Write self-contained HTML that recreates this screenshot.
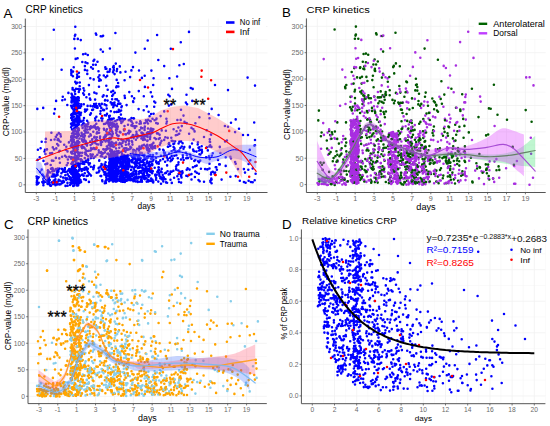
<!DOCTYPE html>
<html><head><meta charset="utf-8"><style>html,body{margin:0;padding:0;background:#fff;width:550px;height:426px;overflow:hidden}svg{display:block}</style></head>
<body><svg width="550" height="426" viewBox="0 0 550 426" font-family="Liberation Sans, sans-serif">
<rect width="550" height="426" fill="#fff"/>
<line x1="26.73" y1="18.60" x2="26.73" y2="192.50" stroke="#f6f6f6" stroke-width="0.6"/>
<line x1="45.87" y1="18.60" x2="45.87" y2="192.50" stroke="#f6f6f6" stroke-width="0.6"/>
<line x1="65.01" y1="18.60" x2="65.01" y2="192.50" stroke="#f6f6f6" stroke-width="0.6"/>
<line x1="84.15" y1="18.60" x2="84.15" y2="192.50" stroke="#f6f6f6" stroke-width="0.6"/>
<line x1="103.29" y1="18.60" x2="103.29" y2="192.50" stroke="#f6f6f6" stroke-width="0.6"/>
<line x1="122.43" y1="18.60" x2="122.43" y2="192.50" stroke="#f6f6f6" stroke-width="0.6"/>
<line x1="141.57" y1="18.60" x2="141.57" y2="192.50" stroke="#f6f6f6" stroke-width="0.6"/>
<line x1="160.71" y1="18.60" x2="160.71" y2="192.50" stroke="#f6f6f6" stroke-width="0.6"/>
<line x1="179.85" y1="18.60" x2="179.85" y2="192.50" stroke="#f6f6f6" stroke-width="0.6"/>
<line x1="198.99" y1="18.60" x2="198.99" y2="192.50" stroke="#f6f6f6" stroke-width="0.6"/>
<line x1="218.13" y1="18.60" x2="218.13" y2="192.50" stroke="#f6f6f6" stroke-width="0.6"/>
<line x1="237.27" y1="18.60" x2="237.27" y2="192.50" stroke="#f6f6f6" stroke-width="0.6"/>
<line x1="256.41" y1="18.60" x2="256.41" y2="192.50" stroke="#f6f6f6" stroke-width="0.6"/>
<line x1="25.30" y1="171.61" x2="267.50" y2="171.61" stroke="#f6f6f6" stroke-width="0.6"/>
<line x1="25.30" y1="145.22" x2="267.50" y2="145.22" stroke="#f6f6f6" stroke-width="0.6"/>
<line x1="25.30" y1="118.84" x2="267.50" y2="118.84" stroke="#f6f6f6" stroke-width="0.6"/>
<line x1="25.30" y1="92.45" x2="267.50" y2="92.45" stroke="#f6f6f6" stroke-width="0.6"/>
<line x1="25.30" y1="66.07" x2="267.50" y2="66.07" stroke="#f6f6f6" stroke-width="0.6"/>
<line x1="25.30" y1="39.68" x2="267.50" y2="39.68" stroke="#f6f6f6" stroke-width="0.6"/>
<line x1="36.30" y1="18.60" x2="36.30" y2="192.50" stroke="#f1f1f1" stroke-width="0.8"/>
<line x1="55.44" y1="18.60" x2="55.44" y2="192.50" stroke="#f1f1f1" stroke-width="0.8"/>
<line x1="74.58" y1="18.60" x2="74.58" y2="192.50" stroke="#f1f1f1" stroke-width="0.8"/>
<line x1="93.72" y1="18.60" x2="93.72" y2="192.50" stroke="#f1f1f1" stroke-width="0.8"/>
<line x1="112.86" y1="18.60" x2="112.86" y2="192.50" stroke="#f1f1f1" stroke-width="0.8"/>
<line x1="132.00" y1="18.60" x2="132.00" y2="192.50" stroke="#f1f1f1" stroke-width="0.8"/>
<line x1="151.14" y1="18.60" x2="151.14" y2="192.50" stroke="#f1f1f1" stroke-width="0.8"/>
<line x1="170.28" y1="18.60" x2="170.28" y2="192.50" stroke="#f1f1f1" stroke-width="0.8"/>
<line x1="189.42" y1="18.60" x2="189.42" y2="192.50" stroke="#f1f1f1" stroke-width="0.8"/>
<line x1="208.56" y1="18.60" x2="208.56" y2="192.50" stroke="#f1f1f1" stroke-width="0.8"/>
<line x1="227.70" y1="18.60" x2="227.70" y2="192.50" stroke="#f1f1f1" stroke-width="0.8"/>
<line x1="246.84" y1="18.60" x2="246.84" y2="192.50" stroke="#f1f1f1" stroke-width="0.8"/>
<line x1="25.30" y1="184.80" x2="267.50" y2="184.80" stroke="#f1f1f1" stroke-width="0.8"/>
<line x1="25.30" y1="158.42" x2="267.50" y2="158.42" stroke="#f1f1f1" stroke-width="0.8"/>
<line x1="25.30" y1="132.03" x2="267.50" y2="132.03" stroke="#f1f1f1" stroke-width="0.8"/>
<line x1="25.30" y1="105.65" x2="267.50" y2="105.65" stroke="#f1f1f1" stroke-width="0.8"/>
<line x1="25.30" y1="79.26" x2="267.50" y2="79.26" stroke="#f1f1f1" stroke-width="0.8"/>
<line x1="25.30" y1="52.88" x2="267.50" y2="52.88" stroke="#f1f1f1" stroke-width="0.8"/>
<line x1="25.30" y1="26.49" x2="267.50" y2="26.49" stroke="#f1f1f1" stroke-width="0.8"/>
<line x1="307.84" y1="18.40" x2="307.84" y2="192.50" stroke="#f6f6f6" stroke-width="0.6"/>
<line x1="326.76" y1="18.40" x2="326.76" y2="192.50" stroke="#f6f6f6" stroke-width="0.6"/>
<line x1="345.68" y1="18.40" x2="345.68" y2="192.50" stroke="#f6f6f6" stroke-width="0.6"/>
<line x1="364.60" y1="18.40" x2="364.60" y2="192.50" stroke="#f6f6f6" stroke-width="0.6"/>
<line x1="383.52" y1="18.40" x2="383.52" y2="192.50" stroke="#f6f6f6" stroke-width="0.6"/>
<line x1="402.44" y1="18.40" x2="402.44" y2="192.50" stroke="#f6f6f6" stroke-width="0.6"/>
<line x1="421.36" y1="18.40" x2="421.36" y2="192.50" stroke="#f6f6f6" stroke-width="0.6"/>
<line x1="440.28" y1="18.40" x2="440.28" y2="192.50" stroke="#f6f6f6" stroke-width="0.6"/>
<line x1="459.20" y1="18.40" x2="459.20" y2="192.50" stroke="#f6f6f6" stroke-width="0.6"/>
<line x1="478.12" y1="18.40" x2="478.12" y2="192.50" stroke="#f6f6f6" stroke-width="0.6"/>
<line x1="497.04" y1="18.40" x2="497.04" y2="192.50" stroke="#f6f6f6" stroke-width="0.6"/>
<line x1="515.96" y1="18.40" x2="515.96" y2="192.50" stroke="#f6f6f6" stroke-width="0.6"/>
<line x1="534.88" y1="18.40" x2="534.88" y2="192.50" stroke="#f6f6f6" stroke-width="0.6"/>
<line x1="306.40" y1="171.41" x2="545.70" y2="171.41" stroke="#f6f6f6" stroke-width="0.6"/>
<line x1="306.40" y1="145.02" x2="545.70" y2="145.02" stroke="#f6f6f6" stroke-width="0.6"/>
<line x1="306.40" y1="118.64" x2="545.70" y2="118.64" stroke="#f6f6f6" stroke-width="0.6"/>
<line x1="306.40" y1="92.25" x2="545.70" y2="92.25" stroke="#f6f6f6" stroke-width="0.6"/>
<line x1="306.40" y1="65.87" x2="545.70" y2="65.87" stroke="#f6f6f6" stroke-width="0.6"/>
<line x1="306.40" y1="39.48" x2="545.70" y2="39.48" stroke="#f6f6f6" stroke-width="0.6"/>
<line x1="317.30" y1="18.40" x2="317.30" y2="192.50" stroke="#f1f1f1" stroke-width="0.8"/>
<line x1="336.22" y1="18.40" x2="336.22" y2="192.50" stroke="#f1f1f1" stroke-width="0.8"/>
<line x1="355.14" y1="18.40" x2="355.14" y2="192.50" stroke="#f1f1f1" stroke-width="0.8"/>
<line x1="374.06" y1="18.40" x2="374.06" y2="192.50" stroke="#f1f1f1" stroke-width="0.8"/>
<line x1="392.98" y1="18.40" x2="392.98" y2="192.50" stroke="#f1f1f1" stroke-width="0.8"/>
<line x1="411.90" y1="18.40" x2="411.90" y2="192.50" stroke="#f1f1f1" stroke-width="0.8"/>
<line x1="430.82" y1="18.40" x2="430.82" y2="192.50" stroke="#f1f1f1" stroke-width="0.8"/>
<line x1="449.74" y1="18.40" x2="449.74" y2="192.50" stroke="#f1f1f1" stroke-width="0.8"/>
<line x1="468.66" y1="18.40" x2="468.66" y2="192.50" stroke="#f1f1f1" stroke-width="0.8"/>
<line x1="487.58" y1="18.40" x2="487.58" y2="192.50" stroke="#f1f1f1" stroke-width="0.8"/>
<line x1="506.50" y1="18.40" x2="506.50" y2="192.50" stroke="#f1f1f1" stroke-width="0.8"/>
<line x1="525.42" y1="18.40" x2="525.42" y2="192.50" stroke="#f1f1f1" stroke-width="0.8"/>
<line x1="306.40" y1="184.60" x2="545.70" y2="184.60" stroke="#f1f1f1" stroke-width="0.8"/>
<line x1="306.40" y1="158.22" x2="545.70" y2="158.22" stroke="#f1f1f1" stroke-width="0.8"/>
<line x1="306.40" y1="131.83" x2="545.70" y2="131.83" stroke="#f1f1f1" stroke-width="0.8"/>
<line x1="306.40" y1="105.45" x2="545.70" y2="105.45" stroke="#f1f1f1" stroke-width="0.8"/>
<line x1="306.40" y1="79.06" x2="545.70" y2="79.06" stroke="#f1f1f1" stroke-width="0.8"/>
<line x1="306.40" y1="52.68" x2="545.70" y2="52.68" stroke="#f1f1f1" stroke-width="0.8"/>
<line x1="306.40" y1="26.29" x2="545.70" y2="26.29" stroke="#f1f1f1" stroke-width="0.8"/>
<line x1="29.46" y1="229.40" x2="29.46" y2="403.60" stroke="#f6f6f6" stroke-width="0.6"/>
<line x1="48.34" y1="229.40" x2="48.34" y2="403.60" stroke="#f6f6f6" stroke-width="0.6"/>
<line x1="67.22" y1="229.40" x2="67.22" y2="403.60" stroke="#f6f6f6" stroke-width="0.6"/>
<line x1="86.10" y1="229.40" x2="86.10" y2="403.60" stroke="#f6f6f6" stroke-width="0.6"/>
<line x1="104.98" y1="229.40" x2="104.98" y2="403.60" stroke="#f6f6f6" stroke-width="0.6"/>
<line x1="123.86" y1="229.40" x2="123.86" y2="403.60" stroke="#f6f6f6" stroke-width="0.6"/>
<line x1="142.74" y1="229.40" x2="142.74" y2="403.60" stroke="#f6f6f6" stroke-width="0.6"/>
<line x1="161.62" y1="229.40" x2="161.62" y2="403.60" stroke="#f6f6f6" stroke-width="0.6"/>
<line x1="180.50" y1="229.40" x2="180.50" y2="403.60" stroke="#f6f6f6" stroke-width="0.6"/>
<line x1="199.38" y1="229.40" x2="199.38" y2="403.60" stroke="#f6f6f6" stroke-width="0.6"/>
<line x1="218.26" y1="229.40" x2="218.26" y2="403.60" stroke="#f6f6f6" stroke-width="0.6"/>
<line x1="237.14" y1="229.40" x2="237.14" y2="403.60" stroke="#f6f6f6" stroke-width="0.6"/>
<line x1="256.02" y1="229.40" x2="256.02" y2="403.60" stroke="#f6f6f6" stroke-width="0.6"/>
<line x1="28.00" y1="383.04" x2="266.80" y2="383.04" stroke="#f6f6f6" stroke-width="0.6"/>
<line x1="28.00" y1="356.53" x2="266.80" y2="356.53" stroke="#f6f6f6" stroke-width="0.6"/>
<line x1="28.00" y1="330.01" x2="266.80" y2="330.01" stroke="#f6f6f6" stroke-width="0.6"/>
<line x1="28.00" y1="303.50" x2="266.80" y2="303.50" stroke="#f6f6f6" stroke-width="0.6"/>
<line x1="28.00" y1="276.98" x2="266.80" y2="276.98" stroke="#f6f6f6" stroke-width="0.6"/>
<line x1="28.00" y1="250.47" x2="266.80" y2="250.47" stroke="#f6f6f6" stroke-width="0.6"/>
<line x1="38.90" y1="229.40" x2="38.90" y2="403.60" stroke="#f1f1f1" stroke-width="0.8"/>
<line x1="57.78" y1="229.40" x2="57.78" y2="403.60" stroke="#f1f1f1" stroke-width="0.8"/>
<line x1="76.66" y1="229.40" x2="76.66" y2="403.60" stroke="#f1f1f1" stroke-width="0.8"/>
<line x1="95.54" y1="229.40" x2="95.54" y2="403.60" stroke="#f1f1f1" stroke-width="0.8"/>
<line x1="114.42" y1="229.40" x2="114.42" y2="403.60" stroke="#f1f1f1" stroke-width="0.8"/>
<line x1="133.30" y1="229.40" x2="133.30" y2="403.60" stroke="#f1f1f1" stroke-width="0.8"/>
<line x1="152.18" y1="229.40" x2="152.18" y2="403.60" stroke="#f1f1f1" stroke-width="0.8"/>
<line x1="171.06" y1="229.40" x2="171.06" y2="403.60" stroke="#f1f1f1" stroke-width="0.8"/>
<line x1="189.94" y1="229.40" x2="189.94" y2="403.60" stroke="#f1f1f1" stroke-width="0.8"/>
<line x1="208.82" y1="229.40" x2="208.82" y2="403.60" stroke="#f1f1f1" stroke-width="0.8"/>
<line x1="227.70" y1="229.40" x2="227.70" y2="403.60" stroke="#f1f1f1" stroke-width="0.8"/>
<line x1="246.58" y1="229.40" x2="246.58" y2="403.60" stroke="#f1f1f1" stroke-width="0.8"/>
<line x1="28.00" y1="396.30" x2="266.80" y2="396.30" stroke="#f1f1f1" stroke-width="0.8"/>
<line x1="28.00" y1="369.79" x2="266.80" y2="369.79" stroke="#f1f1f1" stroke-width="0.8"/>
<line x1="28.00" y1="343.27" x2="266.80" y2="343.27" stroke="#f1f1f1" stroke-width="0.8"/>
<line x1="28.00" y1="316.75" x2="266.80" y2="316.75" stroke="#f1f1f1" stroke-width="0.8"/>
<line x1="28.00" y1="290.24" x2="266.80" y2="290.24" stroke="#f1f1f1" stroke-width="0.8"/>
<line x1="28.00" y1="263.73" x2="266.80" y2="263.73" stroke="#f1f1f1" stroke-width="0.8"/>
<line x1="28.00" y1="237.21" x2="266.80" y2="237.21" stroke="#f1f1f1" stroke-width="0.8"/>
<line x1="323.40" y1="229.40" x2="323.40" y2="403.70" stroke="#f6f6f6" stroke-width="0.6"/>
<line x1="345.60" y1="229.40" x2="345.60" y2="403.70" stroke="#f6f6f6" stroke-width="0.6"/>
<line x1="367.80" y1="229.40" x2="367.80" y2="403.70" stroke="#f6f6f6" stroke-width="0.6"/>
<line x1="390.00" y1="229.40" x2="390.00" y2="403.70" stroke="#f6f6f6" stroke-width="0.6"/>
<line x1="412.20" y1="229.40" x2="412.20" y2="403.70" stroke="#f6f6f6" stroke-width="0.6"/>
<line x1="434.40" y1="229.40" x2="434.40" y2="403.70" stroke="#f6f6f6" stroke-width="0.6"/>
<line x1="456.60" y1="229.40" x2="456.60" y2="403.70" stroke="#f6f6f6" stroke-width="0.6"/>
<line x1="478.80" y1="229.40" x2="478.80" y2="403.70" stroke="#f6f6f6" stroke-width="0.6"/>
<line x1="501.00" y1="229.40" x2="501.00" y2="403.70" stroke="#f6f6f6" stroke-width="0.6"/>
<line x1="523.20" y1="229.40" x2="523.20" y2="403.70" stroke="#f6f6f6" stroke-width="0.6"/>
<line x1="545.40" y1="229.40" x2="545.40" y2="403.70" stroke="#f6f6f6" stroke-width="0.6"/>
<line x1="301.40" y1="380.12" x2="545.40" y2="380.12" stroke="#f6f6f6" stroke-width="0.6"/>
<line x1="301.40" y1="348.56" x2="545.40" y2="348.56" stroke="#f6f6f6" stroke-width="0.6"/>
<line x1="301.40" y1="317.00" x2="545.40" y2="317.00" stroke="#f6f6f6" stroke-width="0.6"/>
<line x1="301.40" y1="285.44" x2="545.40" y2="285.44" stroke="#f6f6f6" stroke-width="0.6"/>
<line x1="301.40" y1="253.88" x2="545.40" y2="253.88" stroke="#f6f6f6" stroke-width="0.6"/>
<line x1="312.30" y1="229.40" x2="312.30" y2="403.70" stroke="#f1f1f1" stroke-width="0.8"/>
<line x1="334.50" y1="229.40" x2="334.50" y2="403.70" stroke="#f1f1f1" stroke-width="0.8"/>
<line x1="356.70" y1="229.40" x2="356.70" y2="403.70" stroke="#f1f1f1" stroke-width="0.8"/>
<line x1="378.90" y1="229.40" x2="378.90" y2="403.70" stroke="#f1f1f1" stroke-width="0.8"/>
<line x1="401.10" y1="229.40" x2="401.10" y2="403.70" stroke="#f1f1f1" stroke-width="0.8"/>
<line x1="423.30" y1="229.40" x2="423.30" y2="403.70" stroke="#f1f1f1" stroke-width="0.8"/>
<line x1="445.50" y1="229.40" x2="445.50" y2="403.70" stroke="#f1f1f1" stroke-width="0.8"/>
<line x1="467.70" y1="229.40" x2="467.70" y2="403.70" stroke="#f1f1f1" stroke-width="0.8"/>
<line x1="489.90" y1="229.40" x2="489.90" y2="403.70" stroke="#f1f1f1" stroke-width="0.8"/>
<line x1="512.10" y1="229.40" x2="512.10" y2="403.70" stroke="#f1f1f1" stroke-width="0.8"/>
<line x1="534.30" y1="229.40" x2="534.30" y2="403.70" stroke="#f1f1f1" stroke-width="0.8"/>
<line x1="301.40" y1="395.90" x2="545.40" y2="395.90" stroke="#f1f1f1" stroke-width="0.8"/>
<line x1="301.40" y1="364.34" x2="545.40" y2="364.34" stroke="#f1f1f1" stroke-width="0.8"/>
<line x1="301.40" y1="332.78" x2="545.40" y2="332.78" stroke="#f1f1f1" stroke-width="0.8"/>
<line x1="301.40" y1="301.22" x2="545.40" y2="301.22" stroke="#f1f1f1" stroke-width="0.8"/>
<line x1="301.40" y1="269.66" x2="545.40" y2="269.66" stroke="#f1f1f1" stroke-width="0.8"/>
<line x1="301.40" y1="238.10" x2="545.40" y2="238.10" stroke="#f1f1f1" stroke-width="0.8"/>
<path stroke="#0000ff" stroke-width="2.56" stroke-linecap="round" d="M53.8 29.7h0M75.3 26.8h0M75.3 34.7h0M74.9 35.8h0M74.3 38.9h0M77.8 38.9h0M80.8 40.1h0M74.9 48.5h0M83.1 54.2h0M85.5 53.8h0M87.8 55.0h0M42.8 59.3h0M75.7 58.9h0M77.6 58.2h0M82.3 62.0h0M85.5 62.4h0M87.5 63.2h0M73.7 67.3h0M84.9 66.1h0M95.8 33.5h0M96.3 34.7h0M100.7 36.2h0M102.2 36.2h0M103.1 35.8h0M115.4 33.0h0M147.7 40.5h0M100.7 49.5h0M102.9 51.8h0M109.9 48.5h0M135.4 52.6h0M144.8 48.8h0M94.3 59.7h0M93.5 60.9h0M97.5 61.7h0M93.1 64.7h0M95.8 64.7h0M91.1 67.3h0M115.8 63.6h0M113.7 66.1h0M113.1 67.3h0M119.8 66.4h0M133.0 67.1h0M157.1 35.0h0M189.0 31.9h0M180.8 42.3h0M170.8 48.8h0M158.3 60.0h0M164.2 66.1h0M179.4 65.2h0M183.8 64.0h0M61.6 69.8h0M37.3 108.9h0M43.2 107.9h0M54.9 109.1h0M54.1 113.6h0M56.1 100.9h0M62.8 96.8h0M62.3 100.3h0M64.9 99.5h0M67.3 105.0h0M68.4 92.9h0M177.1 76.5h0M169.4 78.3h0M215.0 85.0h0M172.0 88.9h0M190.8 88.0h0M192.7 88.9h0M168.3 94.8h0M169.7 96.2h0M186.5 94.8h0M154.2 101.5h0M155.3 102.6h0M168.9 105.6h0M171.2 104.4h0M185.9 102.6h0M187.1 104.2h0M192.3 100.9h0M211.7 108.9h0M208.8 114.0h0M164.2 111.4h0M181.0 109.7h0M183.5 115.6h0M160.6 116.1h0M153.6 113.8h0M199.4 117.3h0M228.0 90.1h0M247.6 77.6h0M255.0 85.6h0M218.6 115.0h0M235.7 119.4h0M231.0 122.7h0M254.2 122.5h0M224.9 126.0h0M228.0 126.8h0M235.1 132.1h0M239.0 128.8h0M243.0 135.0h0M248.0 135.0h0M255.0 140.0h0M225.1 141.5h0M226.9 140.5h0M255.0 145.2h0M219.8 146.8h0M249.8 149.7h0M212.8 153.2h0M220.4 153.0h0M218.0 159.7h0M225.7 157.3h0M230.4 156.8h0M231.0 158.5h0M235.1 162.0h0M235.7 163.8h0M250.3 160.3h0M248.6 164.0h0M219.8 164.4h0M225.7 165.9h0M215.7 167.3h0M219.8 147.1h0M249.8 149.9h0M254.4 145.6h0M218.0 160.0h0M219.2 164.4h0M216.3 167.3h0M216.9 169.7h0M212.8 171.8h0M215.1 172.6h0M214.5 173.8h0M211.0 174.4h0M238.0 169.1h0M243.9 169.1h0M245.0 172.6h0M248.3 169.7h0M252.7 168.5h0M255.6 173.8h0M230.4 176.7h0M235.7 176.1h0M221.6 179.6h0M211.6 179.6h0M211.6 183.2h0M239.8 180.8h0M243.9 182.0h0M245.6 182.8h0M248.6 180.8h0M250.9 182.0h0M252.7 182.3h0M254.7 180.2h0M72.9 76.2h0M74.1 96.7h0M77.2 82.8h0M78.9 72.8h0M71.4 75.0h0M79.0 76.7h0M72.6 89.0h0M71.2 70.1h0M76.9 78.0h0M79.8 82.5h0M72.4 95.9h0M73.0 71.6h0M78.8 92.0h0M75.2 94.0h0M72.6 88.0h0M71.5 93.7h0M79.7 86.2h0M77.1 74.6h0M78.1 89.0h0M76.2 83.5h0M75.3 81.9h0M71.3 73.6h0M74.8 91.6h0M76.0 88.9h0M72.6 89.5h0M77.3 76.5h0M71.9 94.6h0M74.4 90.3h0M71.3 71.7h0M79.2 90.1h0M73.9 116.8h0M76.2 146.8h0M71.9 97.9h0M78.6 122.9h0M73.1 116.4h0M74.3 157.2h0M79.4 138.5h0M72.2 166.8h0M74.3 153.8h0M72.1 170.8h0M76.5 156.6h0M72.0 152.1h0M73.9 147.6h0M71.2 152.1h0M74.5 109.3h0M72.9 159.8h0M77.4 151.6h0M78.6 154.9h0M75.6 119.1h0M74.2 122.3h0M75.1 174.9h0M72.2 136.4h0M78.0 119.2h0M72.2 115.9h0M79.0 174.8h0M76.0 133.7h0M79.4 113.9h0M77.9 145.6h0M74.2 119.6h0M72.9 172.9h0M78.4 97.2h0M77.4 131.2h0M72.3 119.5h0M74.2 122.9h0M76.2 105.6h0M72.8 168.2h0M71.1 157.6h0M71.5 181.2h0M78.9 116.6h0M79.3 180.8h0M77.7 162.7h0M79.4 118.5h0M79.2 118.4h0M77.7 120.3h0M73.5 181.9h0M72.5 151.5h0M76.2 137.5h0M77.7 103.2h0M72.4 117.5h0M71.5 101.5h0M74.3 111.8h0M78.2 165.4h0M74.8 164.9h0M75.3 106.8h0M79.2 112.2h0M79.3 122.2h0M76.8 151.5h0M79.0 134.6h0M75.0 108.9h0M76.8 118.9h0M71.4 139.5h0M71.3 172.9h0M78.1 124.0h0M71.4 97.5h0M73.8 181.1h0M75.8 151.8h0M73.8 139.7h0M79.3 118.1h0M77.3 174.3h0M73.4 98.6h0M74.1 178.3h0M76.1 174.5h0M77.0 150.0h0M75.1 169.2h0M73.1 169.7h0M72.7 120.8h0M75.3 120.5h0M73.4 136.9h0M75.0 151.9h0M71.0 123.7h0M71.2 117.9h0M71.6 178.4h0M71.6 114.2h0M78.3 153.8h0M78.8 120.2h0M75.3 119.8h0M77.3 113.0h0M74.2 180.1h0M77.9 140.8h0M75.1 150.9h0M72.2 162.3h0M76.2 170.1h0M75.6 173.2h0M74.8 166.9h0M73.3 139.7h0M76.3 183.6h0M77.1 132.8h0M74.2 147.2h0M76.0 166.9h0M77.3 99.0h0M77.1 141.2h0M74.9 105.0h0M74.9 181.2h0M78.8 174.4h0M75.3 121.4h0M73.6 161.4h0M73.1 160.5h0M75.1 101.6h0M73.3 170.7h0M73.7 101.6h0M74.9 154.7h0M76.5 109.7h0M78.9 124.2h0M78.3 181.4h0M71.4 174.0h0M77.5 122.5h0M72.5 125.3h0M71.1 127.2h0M72.5 137.5h0M78.2 152.2h0M71.7 157.7h0M74.9 112.8h0M71.9 177.7h0M73.6 134.6h0M72.0 167.0h0M78.9 105.8h0M75.4 106.2h0M73.5 104.9h0M71.7 102.4h0M71.3 137.2h0M71.0 171.8h0M75.7 143.4h0M79.1 183.3h0M73.4 176.2h0M76.6 125.7h0M74.6 167.8h0M72.8 182.8h0M73.9 150.1h0M75.1 128.1h0M76.1 162.9h0M77.1 119.9h0M79.3 156.0h0M72.2 157.5h0M71.7 98.0h0M74.6 136.9h0M78.3 130.0h0M77.3 184.3h0M72.4 108.2h0M76.8 179.2h0M77.2 99.2h0M73.4 145.9h0M74.6 131.0h0M74.3 106.3h0M73.2 136.7h0M72.1 120.0h0M72.9 100.5h0M73.5 175.3h0M72.0 138.6h0M77.4 111.5h0M71.3 183.0h0M73.5 141.8h0M75.5 102.9h0M77.3 146.8h0M79.3 178.5h0M73.2 133.7h0M73.9 168.0h0M75.7 150.4h0M79.3 175.5h0M75.3 101.9h0M74.8 145.7h0M72.8 98.2h0M71.3 145.9h0M73.6 130.4h0M75.3 173.8h0M74.7 104.7h0M76.2 133.9h0M77.1 143.2h0M72.7 165.7h0M74.8 112.3h0M73.4 159.1h0M76.4 124.7h0M71.5 102.2h0M73.0 141.7h0M71.8 146.9h0M77.6 172.8h0M74.9 146.9h0M75.3 131.1h0M71.1 157.3h0M73.5 124.8h0M71.8 180.3h0M73.7 100.2h0M71.8 107.6h0M72.4 138.7h0M76.5 101.2h0M78.8 100.4h0M77.2 148.0h0M72.1 158.4h0M75.6 158.7h0M71.3 137.9h0M71.5 144.4h0M73.7 123.8h0M78.1 129.5h0M77.5 142.2h0M75.5 98.5h0M72.4 142.9h0M76.5 127.4h0M74.5 100.0h0M76.9 171.2h0M73.7 113.0h0M74.7 102.4h0M73.5 112.4h0M71.6 168.6h0M78.2 129.6h0M75.4 103.1h0M74.3 185.5h0M71.3 169.4h0M75.8 121.2h0M74.2 128.2h0M72.1 129.4h0M73.4 105.4h0M78.2 185.2h0M75.7 113.7h0M77.7 128.2h0M78.0 185.5h0M78.8 129.9h0M78.2 163.4h0M79.4 175.9h0M72.6 146.9h0M74.7 124.2h0M74.0 110.7h0M78.3 133.0h0M79.5 165.4h0M78.2 143.9h0M78.3 158.2h0M75.0 154.1h0M75.5 149.3h0M72.1 144.0h0M75.7 171.8h0M77.6 146.4h0M71.8 152.3h0M77.7 183.1h0M78.2 158.4h0M76.7 101.0h0M71.1 183.7h0M71.7 183.4h0M79.0 142.5h0M72.9 123.6h0M77.7 134.8h0M77.6 97.2h0M78.0 135.0h0M74.4 149.3h0M73.8 182.9h0M77.2 127.3h0M78.6 119.8h0M73.3 124.2h0M77.0 109.1h0M73.0 125.4h0M78.9 130.2h0M79.3 164.1h0M73.9 130.7h0M76.6 136.9h0M75.2 102.2h0M73.3 109.5h0M72.5 123.1h0M72.7 142.3h0M72.7 98.5h0M75.0 180.1h0M71.7 100.1h0M74.5 177.1h0M72.0 101.2h0M72.0 153.6h0M74.5 122.1h0M71.9 174.3h0M73.9 167.7h0M72.1 106.4h0M74.8 120.2h0M73.2 185.9h0M74.7 97.3h0M79.5 175.9h0M74.1 183.4h0M78.9 103.7h0M77.8 182.2h0M76.7 138.0h0M71.8 125.5h0M76.8 117.2h0M75.8 103.8h0M76.6 175.5h0M77.7 176.6h0M77.4 115.9h0M77.5 128.6h0M79.3 142.4h0M71.6 140.2h0M78.2 178.2h0M72.1 174.2h0M76.5 165.6h0M73.8 121.4h0M78.4 120.0h0M77.1 182.1h0M77.8 173.6h0M77.7 149.2h0M77.3 131.5h0M75.6 150.6h0M75.4 170.7h0M77.0 144.8h0M75.4 160.8h0M71.6 141.3h0M74.5 153.9h0M79.1 165.1h0M74.3 176.6h0M72.0 163.8h0M77.7 182.2h0M72.0 171.5h0M77.0 156.0h0M78.7 128.6h0M76.7 115.7h0M73.8 141.6h0M76.3 105.5h0M76.3 183.1h0M72.3 169.4h0M76.9 158.6h0M72.9 122.6h0M74.0 136.6h0M77.9 136.1h0M76.8 120.0h0M75.0 144.2h0M72.8 113.6h0M75.2 176.0h0M73.1 161.9h0M77.3 149.2h0M74.8 133.8h0M76.0 100.6h0M78.4 121.1h0M77.5 125.4h0M77.5 131.7h0M71.5 137.1h0M79.2 167.3h0M77.5 107.1h0M76.2 146.5h0M73.3 148.6h0M78.2 146.7h0M78.5 128.9h0M71.0 158.6h0M77.5 179.5h0M78.3 130.0h0M77.7 117.1h0M76.4 113.3h0M75.4 177.1h0M74.3 173.1h0M75.5 100.9h0M78.0 131.9h0M71.1 152.6h0M74.5 113.9h0M78.7 108.0h0M79.4 153.6h0M74.7 98.7h0M74.0 121.5h0M72.9 176.0h0M75.0 129.1h0M71.3 136.4h0M72.2 139.4h0M75.8 121.2h0M73.2 132.2h0M73.4 123.9h0M71.2 137.8h0M77.0 185.4h0M72.9 158.4h0M77.0 97.9h0M72.9 176.2h0M76.4 160.2h0M77.6 152.4h0M72.1 117.4h0M74.9 142.6h0M76.4 180.4h0M76.0 178.2h0M72.2 124.3h0M78.8 97.9h0M74.6 104.3h0M74.6 174.0h0M77.9 105.3h0M75.9 166.1h0M72.1 101.8h0M73.3 159.1h0M71.1 105.7h0M78.8 170.7h0M77.5 184.5h0M73.0 163.9h0M78.6 158.9h0M77.3 151.5h0M77.5 102.5h0M79.1 169.7h0M73.6 183.2h0M72.3 124.2h0M73.2 113.6h0M71.7 124.8h0M79.4 153.8h0M76.7 159.0h0M72.3 129.7h0M74.7 183.8h0M75.7 166.4h0M78.7 124.8h0M74.8 99.6h0M73.0 98.0h0M71.2 115.1h0M73.5 130.9h0M72.0 133.5h0M73.7 176.9h0M74.6 100.1h0M74.2 178.1h0M71.3 163.7h0M74.1 134.3h0M73.8 180.1h0M73.6 174.1h0M75.4 126.0h0M72.5 151.5h0M76.1 118.5h0M76.9 143.3h0M75.9 158.3h0M71.1 179.9h0M79.0 113.1h0M77.9 158.4h0M105.3 67.3h0M107.7 89.8h0M100.8 80.2h0M99.5 75.3h0M110.0 69.4h0M98.5 71.2h0M105.7 77.2h0M116.7 79.9h0M114.8 92.7h0M83.2 93.3h0M106.8 96.1h0M94.3 92.6h0M98.4 77.3h0M96.5 93.5h0M105.5 68.7h0M107.2 75.9h0M113.8 67.6h0M106.3 85.8h0M118.4 86.5h0M120.4 72.4h0M88.9 85.1h0M99.5 79.0h0M106.4 68.8h0M111.3 91.9h0M90.3 78.2h0M103.8 75.5h0M107.6 71.9h0M87.2 70.5h0M84.0 94.7h0M103.6 95.4h0M114.6 74.1h0M113.5 70.7h0M112.2 95.9h0M92.9 68.8h0M87.3 73.9h0M113.0 72.2h0M84.9 69.9h0M102.7 96.6h0M84.2 90.6h0M117.1 69.0h0M109.5 71.6h0M113.1 90.7h0M93.7 79.4h0M113.4 67.4h0M83.5 88.2h0M116.2 87.2h0M118.1 83.0h0M116.7 86.4h0M80.0 89.3h0M99.0 86.7h0M89.1 94.4h0M116.8 71.1h0M113.8 69.9h0M99.1 80.7h0M113.2 94.5h0M117.0 106.0h0M118.8 109.8h0M80.2 107.7h0M100.6 111.1h0M104.1 110.1h0M118.6 111.8h0M96.4 116.8h0M110.7 102.4h0M81.2 105.9h0M90.4 99.7h0M118.5 101.0h0M114.4 112.1h0M85.0 109.5h0M94.1 104.1h0M121.1 110.5h0M105.0 100.5h0M102.5 118.5h0M105.2 100.1h0M109.1 116.1h0M95.0 107.0h0M86.4 97.2h0M106.7 108.5h0M111.8 104.5h0M110.8 111.3h0M100.1 105.7h0M100.3 113.7h0M113.8 105.7h0M96.1 103.8h0M92.2 109.9h0M95.1 99.6h0M120.4 103.7h0M121.4 107.3h0M118.1 103.7h0M101.3 118.2h0M96.6 107.6h0M87.1 109.5h0M109.2 117.0h0M81.2 104.2h0M83.8 104.3h0M121.8 106.2h0M81.0 112.8h0M85.0 111.6h0M103.1 110.1h0M95.2 118.4h0M84.0 118.1h0M117.4 120.0h0M116.8 105.8h0M97.4 106.3h0M90.9 113.4h0M114.5 102.6h0M89.9 98.6h0M107.0 113.9h0M111.8 119.7h0M119.8 119.0h0M86.0 110.8h0M120.0 120.0h0M101.8 103.9h0M93.1 109.6h0M90.5 105.9h0M103.1 109.7h0M119.0 117.4h0M104.8 115.3h0M113.2 107.2h0M92.9 106.4h0M80.6 115.1h0M115.4 99.3h0M112.1 99.3h0M112.7 103.4h0M120.9 114.6h0M120.0 111.3h0M101.3 107.9h0M118.9 117.5h0M90.1 114.7h0M116.7 111.9h0M120.4 119.6h0M107.6 100.6h0M87.6 105.9h0M106.1 115.4h0M99.2 104.1h0M113.7 118.5h0M96.3 106.2h0M104.6 104.4h0M119.4 103.6h0M116.9 99.4h0M97.6 107.7h0M109.9 115.8h0M114.7 104.9h0M101.8 104.0h0M106.4 105.4h0M94.4 104.6h0M138.6 109.1h0M134.2 98.4h0M144.9 86.9h0M133.3 102.0h0M144.7 75.7h0M133.1 101.2h0M143.7 110.3h0M151.4 70.6h0M130.1 77.1h0M131.9 96.2h0M150.8 92.3h0M149.6 116.2h0M153.6 78.2h0M131.4 70.4h0M151.1 114.0h0M124.6 80.3h0M124.9 97.9h0M138.8 91.1h0M154.2 106.8h0M153.2 85.0h0M139.0 70.5h0M143.8 96.3h0M124.6 95.8h0M126.6 105.1h0M148.6 111.7h0M125.5 71.8h0M141.9 77.9h0M152.2 96.6h0M129.3 92.1h0M146.8 106.4h0M94.4 127.5h0M101.2 152.0h0M82.3 152.8h0M85.3 154.1h0M92.0 148.9h0M85.6 149.6h0M102.1 153.3h0M106.3 135.3h0M81.6 135.6h0M99.1 132.8h0M87.1 120.7h0M87.3 143.6h0M89.0 136.5h0M96.7 133.4h0M99.1 128.5h0M91.7 149.2h0M101.7 154.0h0M83.4 141.7h0M95.4 156.5h0M84.2 137.3h0M101.8 120.7h0M82.1 148.1h0M87.5 126.6h0M100.3 152.6h0M104.2 129.8h0M100.7 141.7h0M107.5 121.5h0M85.9 124.5h0M92.8 154.5h0M94.6 136.9h0M94.7 125.6h0M87.0 145.6h0M90.5 154.3h0M102.2 156.5h0M98.3 144.5h0M83.2 146.7h0M107.4 153.8h0M103.3 149.3h0M96.0 127.5h0M98.7 120.7h0M102.9 153.6h0M94.7 148.6h0M83.7 123.3h0M98.9 152.4h0M106.8 146.5h0M82.8 136.6h0M88.1 132.5h0M85.4 128.3h0M102.2 142.0h0M103.7 149.4h0M90.6 150.5h0M96.3 123.7h0M83.0 123.9h0M82.6 127.9h0M96.2 129.1h0M80.2 152.8h0M92.2 139.4h0M87.5 129.6h0M92.9 142.4h0M103.9 128.7h0M84.3 134.0h0M107.7 148.6h0M97.3 154.7h0M85.4 132.6h0M86.6 155.0h0M97.6 132.9h0M104.9 136.2h0M90.8 155.4h0M100.8 143.2h0M90.8 126.2h0M81.4 121.5h0M107.4 132.8h0M88.3 122.7h0M103.8 138.6h0M93.4 126.6h0M101.1 144.9h0M94.4 148.9h0M83.4 120.5h0M90.0 127.6h0M84.4 130.6h0M85.4 131.4h0M88.2 156.2h0M100.9 140.9h0M93.3 131.8h0M97.6 127.7h0M106.5 122.8h0M81.6 132.9h0M95.4 120.6h0M85.8 142.9h0M97.2 140.3h0M104.8 152.6h0M95.8 148.9h0M80.4 120.6h0M103.8 140.0h0M105.6 141.4h0M106.9 129.2h0M105.4 123.8h0M92.2 139.8h0M100.7 156.2h0M91.9 127.5h0M85.6 144.0h0M84.2 139.4h0M82.9 141.6h0M85.9 153.7h0M82.3 134.5h0M82.1 146.0h0M102.1 121.0h0M92.3 155.6h0M103.0 153.4h0M106.3 131.4h0M95.0 141.2h0M97.1 132.4h0M90.9 135.4h0M91.5 126.7h0M106.5 140.3h0M84.5 125.9h0M96.9 144.2h0M80.8 136.1h0M104.9 152.3h0M81.4 146.7h0M98.7 150.2h0M85.9 141.6h0M96.9 137.3h0M81.6 155.8h0M105.5 149.6h0M100.1 136.6h0M97.8 127.2h0M87.0 132.5h0M105.9 136.2h0M84.4 147.9h0M92.3 143.6h0M90.6 145.1h0M93.5 148.0h0M89.9 129.3h0M105.3 137.0h0M85.3 140.8h0M85.9 125.9h0M105.6 134.7h0M88.6 150.7h0M104.0 124.0h0M103.9 137.2h0M107.3 146.5h0M95.9 139.2h0M95.3 143.1h0M100.0 138.1h0M82.1 139.9h0M91.0 148.3h0M82.4 140.9h0M86.7 151.1h0M90.4 134.3h0M85.3 130.3h0M90.2 141.6h0M89.9 127.1h0M81.9 139.3h0M84.9 135.7h0M81.8 125.4h0M106.0 156.8h0M88.1 124.1h0M90.8 128.0h0M106.2 150.0h0M106.0 149.3h0M94.2 137.4h0M107.5 134.3h0M85.1 152.5h0M98.8 129.9h0M110.5 151.5h0M130.4 131.6h0M117.0 135.1h0M139.4 146.6h0M137.4 137.6h0M125.3 134.2h0M112.5 124.1h0M113.5 146.7h0M110.6 124.3h0M112.5 156.7h0M129.6 119.8h0M108.6 120.1h0M128.0 133.1h0M128.5 139.4h0M108.5 141.7h0M136.4 126.3h0M117.4 154.4h0M123.6 140.6h0M128.4 133.0h0M139.5 149.2h0M133.6 138.1h0M132.5 126.0h0M118.8 144.5h0M134.0 118.5h0M123.0 141.5h0M134.8 128.0h0M125.9 144.7h0M121.3 139.6h0M112.9 153.9h0M130.9 121.1h0M131.0 137.6h0M116.8 128.7h0M132.4 136.3h0M133.3 149.8h0M137.1 148.9h0M133.7 118.5h0M135.8 151.2h0M111.6 153.7h0M108.4 140.6h0M132.2 141.9h0M123.9 150.1h0M123.7 119.8h0M129.0 140.9h0M130.5 148.6h0M118.4 136.2h0M117.9 126.7h0M124.5 126.1h0M116.0 129.9h0M121.0 121.3h0M125.9 134.4h0M123.8 148.6h0M131.6 121.6h0M113.4 126.1h0M132.9 152.5h0M131.7 141.1h0M136.4 131.8h0M110.0 143.3h0M139.5 123.8h0M117.5 153.5h0M108.5 124.6h0M116.6 131.3h0M133.6 118.6h0M116.8 151.3h0M134.6 155.9h0M135.5 135.4h0M127.1 149.8h0M122.0 146.3h0M108.4 124.0h0M131.4 125.4h0M121.0 144.3h0M111.3 128.8h0M110.4 124.8h0M119.8 131.9h0M122.4 142.9h0M119.3 147.7h0M126.6 140.2h0M129.0 131.8h0M129.0 130.8h0M125.0 150.9h0M118.3 139.6h0M114.3 146.5h0M119.2 152.8h0M114.7 121.3h0M108.2 122.0h0M111.0 124.2h0M136.6 133.7h0M132.5 144.6h0M126.5 148.3h0M130.3 146.9h0M109.3 140.3h0M136.5 122.5h0M108.6 141.8h0M116.6 128.4h0M125.6 134.3h0M118.7 135.7h0M108.7 134.1h0M112.7 134.1h0M110.8 120.0h0M135.4 126.6h0M111.3 124.3h0M132.9 135.1h0M135.9 139.7h0M132.7 123.5h0M111.7 130.8h0M138.1 135.5h0M133.3 150.5h0M108.0 120.3h0M114.0 124.1h0M138.9 150.4h0M112.6 145.4h0M139.2 136.3h0M137.7 136.8h0M125.1 148.2h0M124.2 130.4h0M120.5 132.4h0M125.5 151.7h0M121.3 122.9h0M112.2 126.7h0M128.8 149.4h0M130.6 155.2h0M111.7 118.7h0M128.0 124.7h0M116.7 123.8h0M135.7 153.6h0M119.7 143.1h0M111.9 135.5h0M134.3 126.4h0M112.2 124.2h0M129.0 143.6h0M134.5 150.4h0M137.4 155.0h0M128.7 120.3h0M128.9 133.4h0M120.0 118.3h0M131.2 147.5h0M110.9 130.8h0M139.1 148.6h0M112.2 135.3h0M125.0 119.1h0M112.4 142.5h0M121.4 151.7h0M131.1 120.8h0M118.6 151.0h0M117.1 152.8h0M122.6 121.4h0M112.9 151.9h0M125.7 142.0h0M122.0 153.6h0M110.1 137.9h0M116.1 148.5h0M111.1 154.3h0M131.5 118.0h0M122.3 118.5h0M139.6 130.2h0M128.6 144.4h0M112.4 122.5h0M124.4 155.4h0M110.4 134.3h0M133.6 137.1h0M123.9 129.6h0M110.7 145.7h0M115.1 155.6h0M114.3 143.5h0M109.1 132.6h0M108.8 144.8h0M108.7 154.7h0M116.2 144.6h0M109.3 126.1h0M109.0 138.5h0M109.9 128.0h0M108.9 119.6h0M115.1 124.8h0M110.2 119.1h0M111.1 154.0h0M109.7 127.7h0M112.2 136.3h0M115.0 125.9h0M112.4 132.0h0M111.5 141.9h0M116.9 127.7h0M116.1 142.6h0M109.0 155.5h0M112.9 133.8h0M113.5 125.1h0M111.6 134.7h0M116.3 133.1h0M115.1 153.9h0M115.3 126.7h0M111.2 149.7h0M108.1 153.6h0M114.7 153.4h0M109.6 148.4h0M112.9 156.1h0M113.6 146.6h0M110.8 153.4h0M110.8 138.7h0M109.8 133.6h0M110.2 122.6h0M117.3 129.0h0M111.3 144.3h0M110.2 151.0h0M117.1 154.0h0M117.9 152.0h0M115.6 121.0h0M109.0 142.4h0M114.6 151.6h0M117.4 125.9h0M111.3 156.8h0M114.9 156.0h0M110.3 145.9h0M116.5 131.5h0M112.3 126.7h0M113.9 153.9h0M112.2 146.3h0M112.9 155.5h0M111.0 137.7h0M114.6 125.6h0M109.2 125.9h0M111.7 119.0h0M111.7 150.1h0M152.0 130.2h0M146.7 148.7h0M152.6 130.5h0M143.1 140.0h0M152.2 144.3h0M145.7 135.9h0M150.1 121.0h0M147.2 144.9h0M140.2 152.9h0M148.0 128.5h0M141.9 145.7h0M145.9 146.6h0M144.1 144.7h0M145.1 139.6h0M149.3 134.3h0M150.9 128.5h0M144.3 154.8h0M147.1 121.5h0M145.9 120.4h0M151.0 147.3h0M144.3 123.2h0M142.7 134.3h0M150.5 134.5h0M141.2 128.2h0M143.3 145.3h0M148.2 119.7h0M140.8 153.5h0M152.8 146.5h0M151.6 144.5h0M148.0 123.5h0M141.7 132.5h0M150.5 134.1h0M146.9 132.9h0M142.3 128.2h0M141.8 147.4h0M140.6 122.1h0M148.3 152.7h0M152.6 148.6h0M143.6 138.3h0M147.8 147.2h0M147.4 150.3h0M145.2 123.0h0M150.8 121.2h0M147.6 140.5h0M152.7 129.0h0M150.0 139.1h0M144.8 126.5h0M144.8 136.4h0M151.5 148.3h0M149.0 149.0h0M146.7 135.3h0M143.5 136.7h0M141.0 148.4h0M148.7 134.3h0M140.9 123.5h0M152.3 133.0h0M144.6 130.0h0M147.6 136.9h0M143.3 133.6h0M151.9 145.3h0M141.4 136.2h0M150.5 129.6h0M142.8 133.5h0M149.6 132.1h0M152.5 118.8h0M144.7 127.8h0M141.4 132.7h0M149.8 145.4h0M149.3 149.9h0M147.9 132.4h0M140.2 121.4h0M141.0 127.5h0M144.4 136.4h0M141.4 138.5h0M150.2 137.1h0M147.3 141.0h0M149.5 151.1h0M145.8 146.2h0M141.8 153.1h0M140.2 153.5h0M55.8 136.8h0M65.0 155.7h0M59.9 162.7h0M66.3 146.7h0M54.6 139.5h0M70.9 140.4h0M51.0 140.0h0M70.8 146.1h0M57.6 139.9h0M52.1 153.1h0M60.4 134.2h0M47.3 163.6h0M50.1 153.4h0M67.9 159.5h0M67.5 151.4h0M58.3 145.4h0M66.4 157.0h0M59.3 158.4h0M58.9 140.4h0M47.0 149.4h0M66.7 165.3h0M59.0 151.5h0M50.7 165.0h0M68.9 142.4h0M45.9 138.9h0M67.8 163.1h0M45.6 142.0h0M60.8 136.4h0M60.5 141.8h0M65.8 149.7h0M62.1 156.8h0M45.5 154.0h0M54.0 149.4h0M55.9 157.9h0M56.3 148.4h0M51.9 160.6h0M45.0 149.7h0M69.2 156.7h0M58.2 139.0h0M57.2 144.0h0M58.8 133.1h0M52.8 147.4h0M64.2 144.8h0M51.4 132.8h0M56.1 137.1h0M59.7 150.7h0M57.1 134.7h0M53.4 160.7h0M36.8 182.4h0M43.5 183.3h0M42.3 182.0h0M37.2 179.5h0M43.4 185.2h0M36.6 176.6h0M43.9 181.2h0M36.8 184.4h0M45.5 181.7h0M46.8 176.2h0M37.0 176.9h0M43.6 181.1h0M37.0 180.7h0M42.8 182.8h0M37.7 184.0h0M38.7 182.8h0M44.3 176.9h0M38.7 177.2h0M43.2 178.7h0M38.0 178.1h0M46.8 179.7h0M36.9 178.2h0M39.7 157.2h0M37.6 159.9h0M41.7 141.8h0M44.5 151.5h0M37.9 149.8h0M40.6 148.2h0M45.5 164.3h0M42.9 175.2h0M40.1 171.9h0M41.7 169.6h0M47.8 170.6h0M47.4 174.3h0M42.4 174.5h0M43.5 160.9h0M57.9 168.5h0M49.8 180.1h0M47.6 176.8h0M49.4 182.5h0M63.0 171.6h0M56.1 169.1h0M64.4 170.9h0M63.3 180.9h0M48.5 177.2h0M50.1 172.5h0M64.0 181.9h0M51.0 185.8h0M47.1 175.5h0M56.6 175.5h0M64.5 171.7h0M62.4 182.9h0M55.6 181.8h0M64.9 169.7h0M70.2 172.5h0M47.5 183.2h0M69.9 170.6h0M66.9 178.2h0M63.6 171.1h0M54.4 182.3h0M48.5 181.5h0M59.3 184.4h0M51.7 168.2h0M47.9 170.3h0M47.8 183.9h0M70.8 179.1h0M70.3 182.7h0M57.0 172.7h0M51.8 176.4h0M64.3 171.0h0M52.8 169.3h0M52.8 184.0h0M67.7 174.4h0M58.0 171.1h0M50.8 185.5h0M57.0 171.1h0M53.9 175.0h0M69.7 177.1h0M52.0 182.4h0M49.8 184.6h0M54.1 170.9h0M50.2 185.6h0M47.3 180.1h0M55.5 185.3h0M65.3 175.2h0M63.9 170.7h0M61.4 181.6h0M56.5 184.2h0M67.3 171.5h0M63.0 171.0h0M55.4 179.2h0M60.7 176.6h0M52.3 171.3h0M57.1 184.4h0M57.3 174.2h0M64.3 169.3h0M63.1 177.6h0M59.6 180.2h0M49.1 177.5h0M53.5 176.4h0M59.4 168.5h0M68.9 176.2h0M65.4 178.2h0M52.7 174.0h0M61.4 173.2h0M60.6 184.3h0M47.8 183.2h0M68.3 170.4h0M64.9 168.0h0M54.3 183.9h0M53.7 180.6h0M56.1 175.8h0M67.5 182.9h0M70.1 185.0h0M61.9 168.9h0M65.5 172.0h0M51.0 168.7h0M47.5 183.8h0M69.3 179.2h0M58.4 171.4h0M57.1 183.0h0M56.8 170.8h0M57.6 175.0h0M47.4 180.8h0M69.2 169.0h0M54.5 174.5h0M48.3 178.5h0M47.8 172.9h0M58.5 169.8h0M56.3 169.6h0M55.1 176.6h0M47.9 170.2h0M52.4 168.1h0M66.2 179.7h0M58.0 172.3h0M58.7 179.7h0M47.7 175.0h0M67.6 185.7h0M58.6 181.3h0M53.4 169.2h0M65.5 185.9h0M66.9 179.1h0M57.6 181.6h0M48.8 171.6h0M48.6 178.0h0M54.8 181.0h0M86.7 176.0h0M81.0 159.4h0M86.3 167.4h0M79.6 167.2h0M79.6 163.9h0M87.8 171.7h0M81.1 182.0h0M80.7 163.5h0M80.7 169.1h0M88.0 159.0h0M85.7 161.7h0M82.8 163.7h0M88.9 164.6h0M82.8 162.9h0M82.5 174.5h0M88.9 181.9h0M81.7 171.0h0M83.7 175.7h0M81.8 174.8h0M87.1 169.7h0M82.5 169.0h0M84.2 179.3h0M87.9 168.7h0M87.8 162.4h0M80.3 182.5h0M84.9 169.6h0M84.0 169.8h0M85.9 179.9h0M80.6 180.3h0M79.9 175.9h0M108.2 166.3h0M99.2 160.7h0M104.6 164.3h0M94.1 165.7h0M89.9 163.4h0M104.6 166.1h0M105.9 165.7h0M102.8 170.0h0M93.3 169.3h0M98.8 167.8h0M98.6 168.3h0M93.1 167.2h0M99.3 160.2h0M93.8 167.8h0M100.6 166.6h0M105.6 162.2h0M101.8 164.9h0M104.6 157.8h0M108.7 170.0h0M105.4 181.4h0M106.3 177.7h0M108.5 172.8h0M102.2 180.3h0M106.7 178.9h0M105.9 181.7h0M106.7 174.4h0M101.2 176.1h0M105.9 183.0h0M102.4 181.2h0M100.5 176.0h0M106.7 179.9h0M105.5 172.4h0M108.3 176.0h0M104.8 183.3h0M104.7 168.0h0M103.8 171.8h0M106.1 180.3h0M106.4 168.1h0M108.7 169.9h0M107.4 169.9h0M104.7 173.7h0M105.6 168.2h0M106.0 175.8h0M115.6 161.0h0M114.5 159.3h0M114.2 161.3h0M113.9 171.1h0M110.2 159.2h0M115.9 176.6h0M116.8 173.6h0M114.4 165.5h0M114.1 162.9h0M112.5 176.2h0M114.4 171.8h0M113.9 172.1h0M112.5 157.1h0M117.2 164.2h0M112.9 181.4h0M115.2 163.9h0M112.6 171.6h0M109.5 168.1h0M112.6 164.4h0M113.1 179.0h0M112.6 170.9h0M110.8 158.3h0M115.3 178.8h0M110.8 164.3h0M116.5 178.9h0M111.0 156.1h0M113.9 179.6h0M117.3 173.0h0M109.4 171.5h0M115.8 162.0h0M109.1 176.5h0M114.8 178.7h0M110.1 177.0h0M110.1 169.5h0M113.7 165.9h0M112.7 157.9h0M112.6 179.6h0M116.4 177.2h0M116.6 157.8h0M109.2 168.8h0M110.1 163.3h0M113.1 156.2h0M117.4 174.9h0M117.2 165.2h0M109.2 180.7h0M116.8 180.5h0M111.7 158.6h0M115.7 168.2h0M116.7 166.0h0M112.7 161.2h0M114.8 162.2h0M112.9 161.9h0M111.5 170.1h0M115.8 155.9h0M112.1 164.1h0M114.3 174.1h0M109.3 167.8h0M111.4 171.1h0M116.4 177.3h0M114.7 162.1h0M115.6 171.7h0M109.3 164.3h0M113.0 164.6h0M111.4 159.3h0M112.4 169.7h0M111.3 160.4h0M116.5 164.4h0M116.5 176.9h0M109.4 168.3h0M109.9 156.0h0M114.0 177.2h0M112.5 168.1h0M110.2 161.0h0M111.8 173.9h0M117.1 164.0h0M114.2 173.3h0M111.3 169.7h0M109.5 176.2h0M112.2 179.0h0M115.2 155.7h0M110.2 171.6h0M109.5 156.5h0M113.1 155.1h0M115.1 180.6h0M113.5 159.3h0M116.9 181.3h0M114.1 164.7h0M115.6 155.2h0M112.3 172.4h0M114.3 165.1h0M116.1 173.2h0M116.8 160.4h0M109.3 162.3h0M115.2 161.7h0M115.6 168.1h0M116.2 169.6h0M109.4 172.9h0M115.6 174.4h0M113.7 178.5h0M110.0 171.8h0M116.3 166.1h0M113.3 178.7h0M113.6 156.4h0M112.8 176.8h0M115.4 168.7h0M112.1 166.1h0M110.2 173.2h0M114.9 177.7h0M112.1 171.3h0M109.7 163.0h0M112.7 165.4h0M117.4 179.9h0M117.5 156.2h0M113.7 162.5h0M113.3 173.8h0M109.5 177.1h0M112.0 174.2h0M110.4 162.0h0M116.7 171.5h0M115.2 161.5h0M116.0 178.6h0M111.4 156.4h0M112.2 176.9h0M109.0 167.2h0M116.0 164.4h0M114.9 178.9h0M114.2 167.0h0M112.3 170.5h0M117.4 168.4h0M113.5 174.3h0M110.3 178.5h0M110.7 168.0h0M112.1 164.0h0M112.8 155.8h0M116.5 163.9h0M116.6 178.7h0M111.3 173.5h0M112.0 176.7h0M112.9 156.9h0M112.4 173.5h0M114.9 172.1h0M116.2 159.6h0M109.0 179.0h0M114.4 177.9h0M116.2 169.9h0M115.9 166.5h0M117.3 162.8h0M117.2 158.9h0M109.3 157.4h0M115.8 156.3h0M112.1 178.6h0M115.9 181.6h0M113.8 156.3h0M110.5 171.9h0M109.2 163.0h0M111.5 161.6h0M116.5 157.6h0M111.7 167.7h0M115.0 162.2h0M110.6 180.3h0M115.8 172.7h0M115.2 167.9h0M113.4 163.3h0M112.1 172.2h0M112.5 160.6h0M117.1 169.3h0M111.3 158.4h0M111.8 167.1h0M111.0 170.8h0M110.2 169.2h0M116.0 156.4h0M113.5 173.6h0M111.6 174.7h0M112.2 161.1h0M114.9 161.6h0M111.0 166.7h0M115.8 157.3h0M117.4 159.6h0M114.3 166.6h0M115.0 160.0h0M115.5 173.8h0M114.0 161.5h0M114.3 179.5h0M114.8 172.7h0M110.0 165.4h0M114.7 176.5h0M115.0 155.1h0M112.2 176.2h0M113.2 170.2h0M113.4 157.9h0M117.5 175.9h0M114.6 175.5h0M111.5 178.8h0M109.4 162.6h0M115.7 163.5h0M116.2 177.5h0M116.3 181.5h0M110.0 177.4h0M115.5 180.4h0M114.5 168.2h0M109.5 167.1h0M116.8 173.9h0M113.6 173.8h0M110.4 162.5h0M109.5 158.5h0M110.3 157.4h0M115.3 175.1h0M109.1 181.3h0M110.3 158.5h0M111.2 179.4h0M116.6 168.6h0M109.2 179.3h0M114.0 155.7h0M109.4 168.0h0M112.5 180.0h0M116.2 174.4h0M112.1 161.8h0M113.4 163.7h0M115.8 162.4h0M109.2 174.2h0M116.8 179.2h0M117.5 178.5h0M115.1 174.8h0M109.3 168.3h0M113.6 167.5h0M112.4 176.5h0M110.2 175.3h0M116.4 163.3h0M110.5 170.2h0M116.4 165.9h0M109.1 167.1h0M113.1 168.8h0M114.7 177.5h0M114.8 179.1h0M114.7 160.8h0M114.4 160.6h0M109.3 175.5h0M114.0 167.0h0M114.7 155.1h0M113.4 177.9h0M117.4 171.4h0M109.5 159.5h0M114.5 158.7h0M111.3 166.0h0M113.7 168.1h0M112.3 176.1h0M113.6 181.5h0M111.2 155.3h0M115.9 176.7h0M114.6 179.4h0M120.4 164.4h0M120.9 161.9h0M120.6 178.7h0M118.2 170.1h0M119.9 177.5h0M120.0 176.2h0M118.4 169.1h0M119.1 173.4h0M119.3 180.3h0M120.8 170.8h0M118.0 168.2h0M119.3 180.8h0M119.5 163.1h0M118.0 171.8h0M118.6 170.5h0M119.6 160.3h0M119.8 166.6h0M120.6 177.6h0M118.3 159.6h0M118.1 169.4h0M117.7 157.5h0M120.6 156.7h0M118.1 170.8h0M120.8 173.5h0M120.4 171.6h0M118.8 158.2h0M118.9 167.3h0M118.8 173.5h0M118.9 179.5h0M120.7 172.9h0M118.2 159.6h0M118.0 161.8h0M118.7 173.7h0M119.3 167.1h0M118.1 160.5h0M124.5 171.5h0M123.8 181.6h0M124.4 168.6h0M121.4 161.9h0M124.6 157.3h0M121.4 166.2h0M125.7 174.9h0M122.5 177.6h0M127.0 176.7h0M125.6 167.9h0M127.2 180.2h0M121.9 175.8h0M123.5 162.0h0M125.7 177.3h0M126.9 167.7h0M126.8 167.9h0M123.7 158.8h0M122.1 158.8h0M123.9 181.5h0M127.3 180.1h0M127.0 162.8h0M125.4 174.9h0M127.8 180.3h0M121.1 163.8h0M122.4 168.1h0M121.9 155.0h0M122.0 169.3h0M127.2 163.2h0M122.5 173.0h0M124.0 162.6h0M122.4 176.3h0M122.5 160.7h0M121.8 179.0h0M122.2 173.1h0M127.5 168.9h0M124.0 159.2h0M122.6 163.6h0M124.3 160.1h0M122.4 176.7h0M123.0 180.1h0M122.3 173.1h0M122.9 181.5h0M125.3 157.3h0M124.5 172.1h0M124.4 162.2h0M123.5 172.5h0M123.5 166.1h0M125.5 157.8h0M123.0 166.4h0M123.5 161.4h0M123.0 160.7h0M122.0 178.1h0M124.8 179.5h0M124.9 156.3h0M126.1 156.2h0M123.7 158.8h0M127.6 161.3h0M122.5 181.7h0M123.0 162.2h0M122.4 168.8h0M125.9 161.8h0M123.3 164.8h0M122.5 178.2h0M124.0 155.1h0M122.5 163.0h0M125.4 159.3h0M124.6 167.9h0M123.6 168.4h0M121.9 172.9h0M124.1 162.3h0M125.5 161.5h0M122.7 171.1h0M121.2 164.4h0M126.7 156.9h0M121.1 162.6h0M121.8 173.5h0M123.0 178.9h0M125.0 169.2h0M127.7 156.3h0M124.8 159.0h0M127.4 163.6h0M122.9 161.3h0M123.6 171.2h0M122.5 163.8h0M125.3 166.8h0M125.3 173.8h0M124.1 165.6h0M126.7 172.1h0M122.3 174.0h0M125.7 157.5h0M121.1 166.5h0M121.4 179.4h0M126.1 180.6h0M125.3 181.0h0M121.9 164.8h0M123.5 175.1h0M127.9 169.2h0M122.3 157.4h0M121.0 170.4h0M126.2 158.4h0M121.1 175.9h0M127.8 155.0h0M122.8 161.2h0M123.6 167.0h0M125.9 163.2h0M124.0 174.5h0M122.9 164.2h0M127.6 172.2h0M125.4 169.8h0M126.0 163.1h0M122.0 174.5h0M126.6 156.7h0M127.6 158.6h0M124.9 181.9h0M124.7 170.2h0M125.8 160.9h0M125.4 171.2h0M121.6 174.4h0M122.9 174.3h0M127.6 165.9h0M122.8 174.7h0M124.8 173.9h0M126.6 162.3h0M127.2 174.4h0M124.3 168.9h0M125.3 155.5h0M124.0 179.0h0M126.9 155.5h0M127.6 178.9h0M122.2 171.3h0M125.4 159.9h0M123.5 177.9h0M126.1 166.6h0M123.7 175.0h0M127.4 158.8h0M125.8 165.2h0M122.4 175.7h0M122.2 165.5h0M124.0 168.4h0M121.7 157.1h0M123.4 175.7h0M127.0 180.6h0M123.8 156.5h0M122.6 170.7h0M123.4 168.1h0M123.0 171.1h0M121.8 155.4h0M121.0 181.5h0M121.1 159.0h0M125.2 161.9h0M132.1 179.3h0M134.8 177.4h0M131.6 180.0h0M132.0 166.9h0M128.3 159.3h0M134.2 178.3h0M128.8 158.7h0M129.7 161.3h0M131.0 174.0h0M134.4 167.2h0M128.8 175.2h0M132.7 173.8h0M134.6 170.7h0M134.8 170.7h0M132.9 157.1h0M134.6 157.1h0M129.1 165.6h0M130.4 155.3h0M134.2 162.5h0M129.8 179.4h0M133.7 179.9h0M129.5 166.0h0M134.1 174.8h0M132.1 173.5h0M134.4 163.2h0M133.5 181.3h0M132.0 176.3h0M133.2 156.8h0M128.9 177.3h0M132.2 175.9h0M129.2 163.5h0M129.5 165.4h0M132.2 162.3h0M128.3 160.4h0M128.3 168.1h0M129.5 162.0h0M130.1 166.5h0M133.4 181.2h0M130.6 178.4h0M133.9 168.7h0M128.3 172.7h0M134.1 178.1h0M130.2 180.3h0M133.7 155.1h0M132.1 159.9h0M132.0 167.0h0M132.6 159.9h0M134.9 162.4h0M133.5 171.6h0M131.1 169.9h0M129.6 174.7h0M133.8 158.5h0M132.3 176.2h0M132.0 156.7h0M134.0 178.5h0M130.4 160.6h0M130.7 176.5h0M134.8 162.4h0M133.3 158.1h0M128.0 175.8h0M149.1 169.1h0M141.8 167.6h0M140.6 158.4h0M140.1 160.6h0M146.5 162.9h0M135.3 162.5h0M150.0 161.7h0M150.8 165.0h0M147.0 157.3h0M149.3 168.9h0M143.8 170.2h0M139.3 159.1h0M143.2 174.9h0M145.5 164.8h0M140.0 181.7h0M144.8 159.6h0M139.1 167.7h0M151.4 180.9h0M135.9 178.7h0M142.8 165.0h0M142.9 155.1h0M135.3 159.3h0M142.4 167.2h0M145.6 169.2h0M151.1 178.6h0M136.1 172.9h0M141.2 180.6h0M138.5 176.7h0M152.2 164.0h0M148.1 157.4h0M151.1 158.6h0M146.1 170.9h0M135.7 181.4h0M148.0 175.7h0M137.7 159.9h0M138.8 171.7h0M146.9 158.4h0M144.5 158.2h0M148.1 174.5h0M148.5 155.9h0M140.4 165.2h0M136.1 171.0h0M143.4 155.2h0M152.6 157.1h0M151.3 169.1h0M150.3 155.1h0M146.3 171.1h0M152.8 171.3h0M141.4 161.7h0M136.6 163.3h0M143.9 156.3h0M136.8 165.6h0M150.8 169.2h0M144.3 172.3h0M152.2 165.2h0M137.9 178.4h0M148.5 180.0h0M147.3 168.9h0M135.9 160.7h0M144.0 175.8h0M152.4 158.0h0M139.9 177.1h0M140.2 171.3h0M152.4 164.5h0M150.0 166.6h0M138.8 177.5h0M150.9 169.3h0M139.8 167.5h0M136.0 163.2h0M139.7 160.2h0M147.9 162.8h0M148.7 169.3h0M142.9 175.0h0M149.5 175.3h0M147.2 161.3h0M146.9 173.1h0M142.7 170.2h0M151.5 170.7h0M146.7 181.6h0M141.6 181.0h0M149.2 170.5h0M151.8 161.6h0M142.0 181.8h0M147.0 175.5h0M141.2 176.8h0M142.6 177.3h0M149.9 156.0h0M139.2 156.3h0M139.8 171.2h0M148.0 170.9h0M144.0 168.9h0M152.1 181.1h0M137.3 162.4h0M142.9 173.8h0M149.6 180.7h0M144.9 177.7h0M137.8 168.0h0M142.6 168.6h0M152.6 161.2h0M148.3 181.5h0M138.9 173.8h0M135.3 164.6h0M144.8 179.1h0M135.0 166.9h0M143.5 178.5h0M137.8 181.9h0M152.7 171.3h0M143.5 164.8h0M145.1 170.9h0M137.6 181.3h0M146.5 171.0h0M148.5 165.9h0M144.7 176.0h0M150.7 170.6h0M142.0 177.3h0M152.2 173.3h0M144.0 173.7h0M145.5 166.3h0M149.1 165.0h0M144.6 158.1h0M138.0 157.6h0M137.2 163.0h0M146.0 167.3h0M143.3 173.5h0M144.5 170.7h0M136.8 155.4h0M135.5 158.5h0M143.5 162.5h0M152.4 179.7h0M136.4 174.4h0M141.8 180.5h0M140.5 162.2h0M149.1 163.2h0M135.8 166.2h0M141.6 173.0h0M141.0 179.6h0M147.8 169.7h0M135.5 173.3h0M146.4 178.2h0M139.9 166.8h0M141.2 180.3h0M138.6 155.3h0M143.8 162.7h0M148.6 176.7h0M147.7 180.1h0M139.0 163.5h0M136.7 161.5h0M136.1 176.9h0M148.7 175.9h0M149.2 170.6h0M146.3 167.4h0M150.4 171.9h0M142.0 170.7h0M143.0 160.4h0M140.0 172.4h0M148.6 165.1h0M137.8 156.1h0M152.9 155.0h0M149.5 169.5h0M139.1 166.5h0M170.3 145.7h0M158.8 167.5h0M157.3 172.0h0M156.2 162.0h0M179.3 151.0h0M169.4 173.8h0M156.2 178.0h0M181.0 174.5h0M156.9 163.2h0M178.1 151.0h0M179.0 182.0h0M163.5 178.7h0M181.1 141.4h0M183.7 160.1h0M160.9 171.5h0M181.5 177.4h0M173.7 150.1h0M175.1 141.3h0M167.9 146.8h0M161.8 179.3h0M159.3 174.9h0M177.3 176.3h0M175.4 150.9h0M171.9 160.1h0M178.5 162.2h0M181.0 159.5h0M176.2 169.6h0M172.8 141.1h0M174.3 155.7h0M164.9 173.3h0M161.0 177.6h0M166.1 182.4h0M159.8 144.8h0M170.1 157.8h0M162.7 175.0h0M183.5 148.8h0M174.5 148.3h0M153.2 182.4h0M155.9 158.3h0M155.7 174.8h0M179.4 141.5h0M169.9 173.9h0M181.1 182.6h0M174.2 143.6h0M158.5 167.4h0M171.8 182.9h0M180.3 171.8h0M161.5 140.9h0M182.3 171.4h0M171.3 160.0h0M165.1 161.8h0M176.2 168.9h0M174.1 177.7h0M167.6 171.3h0M160.3 178.2h0M160.3 160.4h0M182.9 157.4h0M156.7 174.8h0M173.4 170.7h0M180.4 148.0h0M163.0 159.1h0M178.3 164.5h0M154.7 167.8h0M159.5 149.4h0M153.5 159.7h0M168.7 174.5h0M182.6 172.7h0M173.4 144.0h0M156.1 161.2h0M158.3 181.6h0M171.6 151.3h0M179.2 150.6h0M155.1 146.1h0M172.9 158.5h0M161.7 168.9h0M158.6 162.4h0M159.2 173.2h0M176.0 152.0h0M160.5 142.9h0M170.6 171.6h0M164.0 178.1h0M155.6 176.2h0M178.9 150.9h0M181.5 174.4h0M168.2 146.8h0M154.4 147.4h0M167.1 165.4h0M176.0 166.5h0M155.1 148.0h0M173.6 147.0h0M158.0 170.5h0M163.7 177.3h0M164.7 154.4h0M166.8 155.9h0M161.0 183.7h0M163.3 181.4h0M158.9 170.0h0M162.0 179.1h0M163.0 177.6h0M184.3 147.0h0M153.3 181.2h0M159.5 176.0h0M155.2 174.9h0M170.5 179.8h0M182.8 155.0h0M165.9 172.9h0M166.8 157.5h0M168.0 158.8h0M169.2 153.5h0M171.6 171.7h0M161.7 172.3h0M164.1 155.9h0M168.7 143.8h0M176.4 155.2h0M163.1 149.7h0M160.6 177.0h0M181.8 146.5h0M165.5 179.3h0M177.8 158.2h0M178.6 174.0h0M178.6 143.5h0M165.0 152.9h0M158.4 172.6h0M167.1 182.7h0M182.6 143.2h0M178.6 179.3h0M163.7 150.6h0M156.5 153.4h0M181.0 176.0h0M156.1 179.7h0M160.9 155.7h0M171.7 155.9h0M164.0 152.8h0M170.5 161.3h0M156.0 158.1h0M167.7 160.3h0M158.8 163.7h0M176.8 165.2h0M169.1 143.1h0M178.4 170.5h0M194.3 160.9h0M198.1 161.2h0M187.6 176.1h0M186.7 169.7h0M192.9 167.2h0M192.0 143.5h0M199.0 162.2h0M191.5 179.5h0M191.5 158.8h0M185.9 152.7h0M209.3 146.4h0M186.9 155.3h0M187.6 168.4h0M191.5 174.1h0M204.0 181.7h0M186.2 158.3h0M199.0 150.5h0M208.9 156.4h0M201.9 152.6h0M193.4 150.7h0M209.7 159.1h0M211.8 155.7h0M196.8 172.7h0M199.5 154.2h0M202.0 151.6h0M211.3 178.5h0M187.9 158.1h0M206.1 157.4h0M189.6 169.6h0M201.8 149.7h0M189.5 174.7h0M200.1 149.8h0M211.3 172.6h0M200.2 160.6h0M198.5 180.1h0M186.3 175.8h0M200.1 149.8h0M194.2 151.3h0M207.8 150.4h0M194.9 177.0h0M206.9 147.2h0M195.2 171.5h0M196.7 165.6h0M199.7 181.2h0M198.9 173.7h0M201.7 146.2h0M210.3 180.7h0M200.4 154.5h0M205.1 169.1h0M200.9 168.7h0M197.7 144.5h0M210.2 145.4h0M195.1 166.3h0M209.8 141.7h0M190.0 154.6h0M207.3 169.4h0M210.1 142.0h0M195.3 160.0h0M198.5 147.7h0M190.5 156.9h0M211.4 146.9h0M209.5 168.5h0M193.1 149.6h0M199.3 147.2h0M196.5 151.6h0M189.8 147.4h0M209.5 163.7h0M189.8 146.5h0M197.9 142.2h0M210.5 182.0h0M158.7 138.9h0M189.1 133.8h0M180.7 119.9h0M186.7 123.1h0M178.4 127.5h0M173.6 129.2h0M175.8 135.3h0M166.4 123.5h0M180.4 130.5h0M161.7 130.4h0M191.5 127.9h0M193.6 139.6h0M167.7 137.9h0M158.1 133.5h0M184.5 121.9h0M206.7 130.2h0M177.5 134.7h0M210.9 134.5h0M159.8 138.0h0M179.2 133.7h0M177.4 120.0h0M194.6 131.4h0M193.4 129.3h0M156.5 118.5h0M209.5 118.2h0M195.4 123.2h0M181.8 126.1h0M211.1 134.7h0M156.3 119.2h0M209.8 139.2h0M157.0 133.4h0M176.6 131.3h0M204.0 137.0h0M157.8 123.6h0M165.9 130.7h0M154.5 138.0h0M166.9 121.5h0M165.3 137.2h0M153.4 129.3h0M166.4 118.7h0M155.9 139.1h0M150.8 130.6h0M156.2 123.1h0M159.6 134.8h0M153.4 142.9h0M171.3 137.8h0M171.7 140.8h0M154.6 120.2h0M152.2 132.3h0M164.2 139.9h0M101.6 168.8h0M93.7 157.9h0M85.9 160.5h0M98.6 172.3h0M84.8 173.2h0M101.5 164.0h0M90.8 166.7h0M82.8 175.3h0M84.9 168.6h0M104.4 174.4h0M88.9 173.2h0M91.1 158.0h0M84.3 164.0h0M90.8 158.1h0M84.7 167.7h0M87.8 175.7h0M80.8 160.7h0M99.3 170.9h0M82.1 160.4h0M91.0 175.6h0M96.7 172.8h0M88.3 160.0h0M83.8 162.1h0M84.8 158.0h0M89.7 174.2h0"/>
<path stroke="#ff0000" stroke-width="2.56" stroke-linecap="round" d="M173.0 49.1h0M201.7 70.6h0M201.4 76.8h0M211.1 80.3h0M208.2 98.8h0M167.7 111.2h0M76.9 71.5h0M76.1 107.7h0M76.9 110.9h0M59.1 116.7h0M53.2 182.6h0M56.7 182.3h0M75.5 166.1h0M73.1 159.7h0M75.5 150.3h0M110.1 130.3h0M107.2 133.3h0M124.8 129.2h0M123.0 134.4h0M116.0 145.0h0M96.6 148.0h0M123.0 150.9h0M143.3 148.3h0M96.6 147.6h0M123.0 150.3h0M143.6 148.3h0M105.2 169.1h0M123.3 170.2h0M151.2 168.5h0M157.7 146.4h0M164.2 156.2h0M183.0 162.6h0M179.4 173.0h0M188.8 175.0h0M215.2 175.0h0M229.2 130.9h0M255.4 162.0h0M226.3 172.6h0M215.7 175.0h0M238.0 176.7h0M249.2 176.7h0M103.5 167.0h0M140.0 80.0h0M206.0 148.0h0M102.0 116.0h0M148.0 87.5h0"/>
<path d="M36.2 161.5 L41 162.5 L47.5 179 L47 183 L36.2 173Z" fill="#8080ff" fill-opacity="0.42"/>
<path d="M130.0 150.0 C133.8 150.3 145.2 152.1 153.0 152.0 C160.8 151.9 170.6 149.8 176.5 149.7 C182.4 149.6 183.3 150.1 188.2 151.5 C193.1 152.9 202.0 157.7 205.8 157.9 C209.6 158.1 206.2 154.6 211.0 152.5 C215.8 150.4 227.0 146.8 234.5 145.6 C242.0 144.3 252.6 145.1 256.2 145.0 L256.2 168.5 C253.8 167.1 246.5 162.1 241.5 160.3 C236.5 158.5 231.4 157.5 226.3 157.9 C221.2 158.3 214.4 161.6 211.0 162.6 C207.6 163.6 208.6 164.4 205.8 163.8 C203.0 163.2 198.9 160.7 194.0 159.1 C189.1 157.5 183.3 154.4 176.5 154.4 C169.7 154.4 160.8 158.7 153.0 159.1 C145.2 159.5 133.8 157.3 130.0 157.0Z" fill="#8080ff" fill-opacity="0.42"/>
<path d="M45 131.5 L45 181.4 L60 167.3 L70 166 L80 162 L89 158.5 L110 158 L125 155 L142.5 154.2 L151.2 152.4 L160 147.6 L167 145 L176.5 141 L188 140.9 L194 141.5 L205.8 146.2 L217 152 L228.6 157 L242.1 178.5 L242.1 133.3 L217 118 L198 108 L184 105.6 L173 106.7 L161 110.3 L153 115.5 L143.5 119 L124 119.5 L113 120 L101 120.5 L89.4 121.5 L79.4 126 L70 131Z" fill="#ff8080" fill-opacity="0.4"/>
<path d="M36.6 168.2 L46.1 180.3" fill="none" stroke="#0000ff" stroke-width="1" stroke-opacity="1" stroke-linejoin="round" stroke-linecap="round"/>
<path d="M130.0 153.5 C133.8 154.1 147.2 156.5 153.0 156.8 C158.8 157.2 160.8 156.4 164.7 155.6 C168.6 154.8 173.0 152.4 176.5 152.0 C180.0 151.6 182.0 152.3 185.9 153.2 C189.8 154.1 194.8 156.7 200.0 157.3 C205.2 157.9 211.2 158.1 217.0 156.8 C222.8 155.5 228.0 149.7 234.5 149.7 C241.0 149.7 252.6 155.6 256.2 156.8" fill="none" stroke="#0000ff" stroke-width="1" stroke-opacity="1" stroke-linejoin="round" stroke-linecap="round"/>
<path d="M36.2 160.5 C40.9 158.8 55.5 153.0 64.3 150.0 C73.1 147.0 81.0 144.7 89.0 142.7 C97.0 140.7 106.8 138.6 112.5 138.0 C118.2 137.4 118.8 139.4 123.0 139.1 C127.2 138.8 132.6 137.2 137.6 136.1 C142.6 135.0 149.0 133.9 152.9 132.6 C156.8 131.3 157.8 130.0 161.1 128.5 C164.4 127.0 169.0 124.7 172.8 123.8 C176.6 122.9 179.5 122.6 184.0 123.2 C188.5 123.8 194.5 125.3 200.0 127.4 C205.5 129.5 211.2 132.3 217.0 135.6 C222.8 138.9 230.3 144.5 234.5 147.4 C238.7 150.3 238.5 149.2 242.1 153.2 C245.7 157.2 253.8 168.4 256.2 171.4" fill="none" stroke="#ff0000" stroke-width="1.1" stroke-opacity="1" stroke-linejoin="round" stroke-linecap="round"/>
<path stroke="#005800" stroke-width="2.56" stroke-linecap="round" d="M411.1 153.6h0M432.5 160.4h0M377.7 182.6h0M420.4 121.9h0M380.7 91.4h0M423.3 137.9h0M402.2 162.5h0M380.0 167.0h0M354.8 178.9h0M407.2 120.9h0M359.1 169.5h0M399.5 146.7h0M406.3 81.6h0M435.0 162.5h0M472.3 181.5h0M371.5 181.4h0M367.2 160.6h0M333.6 158.1h0M452.0 157.4h0M424.5 183.0h0M385.7 139.7h0M468.8 132.4h0M417.3 87.0h0M391.0 176.7h0M449.9 162.8h0M330.6 152.1h0M429.8 163.9h0M380.7 110.9h0M389.7 90.3h0M476.4 163.2h0M406.7 172.6h0M355.0 89.7h0M405.1 138.8h0M388.9 152.5h0M354.2 68.1h0M457.4 131.2h0M386.0 94.9h0M357.1 173.7h0M337.3 122.4h0M412.6 172.4h0M479.5 167.1h0M442.4 158.1h0M418.3 104.4h0M363.3 68.8h0"/>
<path stroke="#a82ee0" stroke-width="2.56" stroke-linecap="round" d="M394.6 172.2h0M389.9 173.4h0M423.8 147.0h0M396.0 182.1h0M390.2 148.7h0M418.3 137.0h0M394.2 140.3h0M351.6 175.5h0M352.7 145.2h0M376.6 133.4h0M417.2 169.9h0M342.3 184.5h0M401.2 132.0h0M353.8 142.1h0M330.5 179.4h0M401.8 158.2h0M360.5 169.9h0M357.2 127.9h0M422.8 173.5h0M353.1 133.9h0M421.8 170.7h0M351.8 144.8h0M461.6 158.0h0M351.1 148.6h0M421.1 108.0h0M347.9 181.6h0M390.8 151.1h0M444.5 183.6h0M353.4 178.8h0M354.7 180.9h0M377.8 155.5h0M447.4 161.6h0M355.0 139.8h0M430.7 124.8h0M413.3 175.6h0M389.5 133.6h0M362.0 99.2h0M352.2 170.9h0M353.3 122.8h0M410.7 147.0h0M358.2 107.4h0M413.1 151.6h0M353.0 121.3h0M422.3 179.1h0M350.5 142.0h0M323.2 123.1h0M326.8 177.8h0M423.3 168.1h0M389.4 134.5h0M351.0 130.7h0M357.2 145.0h0M464.8 174.4h0M355.4 136.6h0M405.5 163.8h0M419.4 136.2h0M426.6 124.0h0M418.5 182.7h0M356.4 177.4h0M373.0 126.1h0M350.8 169.3h0M411.7 158.2h0M356.0 131.5h0M356.9 150.7h0M352.4 163.1h0M353.8 124.9h0M408.9 168.0h0M391.5 151.8h0M323.9 134.9h0M330.7 138.9h0M397.4 139.7h0M353.8 123.5h0M385.1 177.0h0M447.3 142.1h0M357.6 181.9h0M396.6 168.4h0M350.8 176.7h0"/>
<path stroke="#005800" stroke-width="2.56" stroke-linecap="round" d="M450.3 168.8h0M439.5 161.3h0M356.8 153.3h0M413.1 181.1h0M384.6 160.7h0M366.2 135.2h0M411.8 180.2h0M346.2 142.6h0M374.3 96.5h0M378.3 103.3h0M356.7 128.2h0M400.9 149.8h0M418.4 178.3h0M377.6 157.6h0M425.2 141.1h0M326.8 140.5h0M421.6 179.3h0M366.6 150.5h0M464.4 125.9h0M391.3 134.9h0M385.8 182.0h0M361.4 133.3h0M472.6 182.5h0M360.5 137.4h0M450.5 154.0h0M360.1 77.9h0M429.4 146.0h0M395.7 158.4h0M406.7 148.6h0M374.5 149.7h0M407.0 82.3h0M412.8 108.0h0M425.5 151.7h0M408.6 166.8h0M424.1 180.0h0M414.4 178.6h0M427.1 153.0h0M355.9 26.6h0M411.8 123.0h0M395.9 63.4h0M318.9 110.6h0M384.1 138.0h0M383.7 170.6h0M401.7 156.6h0M409.6 162.9h0M398.1 175.7h0M426.5 113.6h0M359.1 176.7h0M340.9 170.5h0M376.3 180.0h0"/>
<path stroke="#a82ee0" stroke-width="2.56" stroke-linecap="round" d="M407.9 152.9h0M355.0 181.7h0M379.2 140.8h0M350.5 120.6h0M428.8 176.9h0M351.6 165.4h0M388.9 133.9h0M392.7 165.5h0M352.1 163.4h0M428.5 118.5h0M381.0 49.3h0M357.1 179.4h0M499.2 177.8h0M431.1 158.0h0M326.6 181.2h0M397.3 147.1h0M488.2 167.1h0M357.9 175.9h0M352.2 176.1h0M394.5 148.4h0M388.0 163.8h0M382.4 139.9h0M396.6 166.2h0M350.6 162.6h0M353.4 123.2h0M350.8 170.4h0M449.2 114.8h0M342.9 162.4h0M350.7 152.6h0M353.8 178.0h0M530.8 137.7h0M375.3 99.9h0M351.8 156.6h0M392.6 147.5h0M357.0 157.4h0M351.6 138.9h0M354.8 143.4h0M355.1 134.2h0M358.4 133.6h0M356.4 164.4h0M355.4 159.4h0M352.8 167.1h0M465.0 156.9h0M372.2 154.1h0M389.2 160.0h0M417.7 179.4h0M356.1 178.1h0M392.6 156.2h0M358.2 172.3h0M355.7 156.6h0M410.0 159.1h0M408.8 147.9h0M354.4 171.3h0M394.0 133.7h0M398.9 139.4h0M409.8 166.6h0M479.0 178.4h0M354.4 149.9h0M367.8 169.8h0M350.4 151.9h0M397.8 161.5h0M377.4 106.6h0M418.5 166.0h0M357.2 116.8h0M374.9 145.6h0M409.2 166.6h0M415.3 172.4h0M322.5 179.5h0M350.7 173.5h0M357.8 160.7h0"/>
<path stroke="#005800" stroke-width="2.56" stroke-linecap="round" d="M340.5 154.9h0M382.1 131.5h0M358.3 38.7h0M401.2 164.8h0M461.2 175.7h0M395.5 32.8h0M351.7 72.0h0M369.4 137.1h0M415.3 161.0h0M414.9 139.7h0M385.7 92.1h0M327.1 148.6h0M363.4 100.3h0M455.2 124.8h0M408.5 137.0h0M350.5 96.9h0M409.8 170.3h0M413.2 175.9h0M384.9 137.2h0M360.1 180.0h0M423.3 119.0h0M462.9 174.6h0M428.0 105.8h0M388.4 173.6h0M345.4 145.9h0M383.3 148.3h0M444.3 94.6h0M425.0 96.7h0M383.6 112.1h0M408.1 155.8h0M375.2 71.0h0M441.9 103.7h0M421.4 154.2h0M486.9 173.2h0M334.6 29.5h0M463.6 137.8h0M457.5 158.5h0M362.5 175.9h0M361.6 166.8h0M434.2 173.9h0M361.2 162.2h0M356.2 139.7h0M420.2 150.7h0M368.0 97.3h0M338.9 170.1h0M444.6 131.9h0M366.3 144.7h0M382.7 150.9h0M444.2 156.9h0M368.2 119.1h0"/>
<path stroke="#a82ee0" stroke-width="2.56" stroke-linecap="round" d="M393.2 154.9h0M357.6 157.9h0M358.0 121.3h0M423.6 169.0h0M480.1 96.6h0M403.4 150.3h0M381.4 133.5h0M396.0 150.6h0M435.4 176.0h0M489.4 170.3h0M322.3 181.3h0M343.2 139.2h0M391.1 165.1h0M396.9 162.0h0M351.1 129.4h0M351.7 143.7h0M351.5 156.6h0M390.2 158.8h0M356.5 178.5h0M391.0 134.6h0M379.2 68.2h0M353.2 182.1h0M394.4 151.8h0M424.7 164.8h0M376.2 126.6h0M429.1 158.4h0M350.8 154.0h0M407.9 159.7h0M351.1 142.1h0M412.2 154.4h0M395.9 134.9h0M414.8 98.9h0M404.4 174.9h0M351.3 128.5h0M411.3 159.3h0M356.2 126.9h0M356.8 157.7h0M354.7 170.9h0M340.1 177.3h0M358.1 181.1h0M351.5 149.0h0M353.3 75.7h0M358.5 146.8h0M362.4 100.4h0M362.2 107.9h0M381.7 85.4h0M351.3 155.4h0M449.1 158.6h0M446.7 120.8h0M403.3 164.6h0M444.9 118.9h0M407.2 161.5h0M380.6 171.7h0M411.6 128.5h0M406.0 176.7h0M394.9 174.7h0M426.1 123.2h0M336.4 181.2h0M350.7 175.9h0M404.5 173.6h0M351.7 136.2h0M448.5 183.2h0M351.3 152.9h0M352.3 142.1h0M368.7 143.9h0M423.9 182.8h0M351.1 120.6h0M367.3 176.5h0M406.7 91.2h0M376.5 175.3h0"/>
<path stroke="#005800" stroke-width="2.56" stroke-linecap="round" d="M404.4 96.8h0M426.1 182.1h0M346.4 166.4h0M364.4 96.1h0M391.7 159.0h0M355.5 35.6h0M438.0 111.8h0M332.6 176.3h0M360.5 161.5h0M415.3 183.2h0M423.1 184.1h0M408.2 178.3h0M350.5 155.4h0M373.7 169.1h0M412.0 143.6h0M421.9 145.3h0M420.6 148.1h0M361.6 83.6h0M381.4 154.3h0M497.5 114.8h0M407.9 140.4h0M374.9 156.0h0M425.5 147.4h0M358.0 126.3h0M373.2 166.8h0M411.4 120.6h0M399.4 179.1h0M389.1 152.4h0M367.2 119.6h0M458.1 180.8h0M418.5 157.8h0M351.6 152.0h0M363.6 54.0h0M321.6 132.5h0M371.5 136.3h0M324.1 178.0h0M437.7 149.3h0M413.7 181.7h0M381.9 77.6h0M434.7 156.6h0"/>
<path stroke="#a82ee0" stroke-width="2.56" stroke-linecap="round" d="M392.3 173.4h0M429.4 156.3h0M357.5 153.3h0M374.5 109.9h0M357.9 141.9h0M354.6 170.9h0M393.1 152.2h0M406.4 184.6h0M472.0 140.0h0M409.1 146.5h0M419.4 135.5h0M357.5 153.8h0M447.4 155.5h0M342.3 178.1h0M355.5 120.5h0M394.2 177.9h0M454.1 130.7h0M380.6 129.7h0M449.3 181.1h0M374.6 162.8h0M354.9 147.2h0M443.5 163.8h0M413.4 173.3h0M351.7 96.6h0M454.1 141.1h0M372.9 169.6h0M385.4 137.0h0M350.7 140.7h0M351.6 135.7h0M366.5 134.1h0M393.1 181.7h0M393.3 161.2h0M337.8 161.5h0M328.1 154.8h0M356.9 169.0h0M362.5 175.0h0M389.4 134.6h0M328.5 177.6h0M368.6 180.2h0M354.2 173.7h0M353.5 166.0h0M397.2 183.6h0M407.5 92.5h0M356.1 67.4h0M355.2 124.2h0M355.3 171.8h0M346.5 182.0h0M412.0 175.1h0M381.0 36.0h0M391.6 136.0h0M427.6 173.0h0M370.0 164.6h0M321.1 148.8h0M379.7 71.6h0M352.3 180.0h0M398.2 135.2h0M407.8 129.4h0M384.9 176.2h0M397.3 173.2h0M355.2 138.0h0M395.6 143.0h0M392.2 148.2h0M408.6 143.2h0M351.6 146.7h0M459.2 170.0h0M399.8 164.4h0M417.1 156.8h0M394.4 146.4h0M358.1 165.6h0M356.1 179.8h0M357.5 125.6h0M321.9 184.0h0M427.9 179.3h0M431.0 139.8h0M452.2 174.6h0M353.9 163.3h0M400.7 154.0h0M411.5 183.1h0M356.6 156.6h0M389.2 160.3h0"/>
<path stroke="#005800" stroke-width="2.56" stroke-linecap="round" d="M351.8 122.5h0M326.3 177.7h0M362.5 104.0h0M405.1 166.8h0M399.3 86.0h0M401.0 146.0h0M449.8 175.4h0M370.1 120.0h0M477.1 168.5h0M346.3 171.0h0M370.7 179.9h0M398.1 155.8h0M413.6 163.7h0M388.9 183.1h0M360.4 166.6h0M361.0 178.6h0M366.4 172.0h0M346.3 85.0h0M383.0 73.8h0M370.7 153.5h0M450.4 162.6h0M362.1 168.7h0M434.1 109.2h0M414.4 154.5h0M401.7 184.2h0M440.7 98.9h0M419.2 123.7h0M346.3 151.4h0M351.4 109.1h0M358.1 146.1h0M416.0 182.1h0M410.3 150.8h0M417.8 172.1h0M446.1 160.6h0M424.0 183.6h0M360.4 121.0h0M421.7 181.2h0M407.0 180.7h0M364.6 98.6h0M385.9 111.5h0M436.3 181.6h0M364.2 66.5h0M377.8 61.5h0M381.4 173.9h0M329.7 180.7h0M367.5 112.4h0"/>
<path stroke="#a82ee0" stroke-width="2.56" stroke-linecap="round" d="M392.5 160.3h0M388.4 172.6h0M411.1 169.9h0M370.6 121.3h0M351.1 161.3h0M390.5 181.1h0M353.9 159.5h0M318.5 184.3h0M342.3 69.6h0M381.9 170.7h0M353.5 136.0h0M396.4 172.8h0M402.7 126.8h0M351.5 130.4h0M358.5 173.1h0M421.9 147.8h0M415.7 183.1h0M341.7 142.2h0M406.4 156.3h0M389.9 154.3h0M397.9 148.0h0M354.4 179.1h0M357.8 165.4h0M463.4 109.2h0M428.9 173.6h0M475.2 170.6h0M401.1 155.6h0M390.6 158.6h0M389.0 180.2h0M356.4 177.6h0M441.9 133.8h0M343.8 180.0h0M351.2 175.0h0M437.4 181.7h0M365.7 117.7h0M353.4 165.8h0M357.2 131.8h0M408.6 167.6h0M334.3 178.2h0M320.0 179.6h0M392.8 142.7h0M411.2 180.9h0M402.0 154.8h0M353.7 141.1h0M433.3 140.1h0M380.1 132.1h0M355.3 174.5h0M358.2 134.6h0M323.7 184.0h0M489.6 161.4h0M345.8 184.8h0M411.0 175.4h0M423.9 120.9h0M352.2 127.0h0M377.9 127.7h0M439.2 161.2h0M406.0 156.8h0M357.1 170.6h0M395.3 164.9h0M331.8 147.9h0M368.5 103.3h0M389.5 133.4h0M404.3 152.6h0M439.7 160.9h0M354.2 124.9h0M458.9 182.1h0M355.3 178.0h0M393.5 139.5h0M414.4 173.9h0M397.8 183.1h0M357.5 105.7h0M351.1 180.1h0M396.0 178.2h0M356.4 141.3h0"/>
<path stroke="#005800" stroke-width="2.56" stroke-linecap="round" d="M408.4 128.6h0M395.3 151.5h0M453.2 146.2h0M320.9 136.3h0M371.2 182.8h0M417.6 174.7h0M365.9 53.6h0M525.7 110.1h0M493.9 84.8h0M354.6 91.5h0M365.5 166.2h0M409.9 121.9h0M415.1 148.8h0M414.4 182.0h0M415.7 183.2h0M450.3 166.3h0M363.4 101.2h0M433.8 101.3h0M493.1 178.5h0M464.5 152.0h0M416.8 84.5h0M357.1 120.7h0M465.1 161.9h0M368.2 131.5h0M383.5 144.5h0M395.6 148.1h0M407.2 146.2h0M405.6 92.2h0M406.9 151.5h0M329.3 153.7h0M407.9 167.6h0M456.0 107.8h0M384.2 114.1h0M343.3 159.6h0M394.8 100.7h0M415.6 164.5h0M376.6 140.6h0M413.6 164.1h0M362.0 76.8h0M413.0 134.7h0M418.5 101.0h0M400.0 179.3h0M419.0 182.0h0M399.6 155.0h0M416.5 147.0h0M384.7 99.7h0M406.4 152.9h0M354.6 162.8h0M397.0 140.4h0M428.5 150.2h0"/>
<path stroke="#a82ee0" stroke-width="2.56" stroke-linecap="round" d="M344.2 183.3h0M383.4 139.0h0M364.3 82.7h0M423.6 105.6h0M356.2 58.7h0M411.6 168.9h0M451.5 152.2h0M414.1 163.8h0M355.3 122.3h0M354.7 158.0h0M415.3 52.4h0M394.3 136.0h0M439.7 180.5h0M401.8 157.4h0M390.0 178.2h0M388.5 154.9h0M378.7 167.2h0M351.7 84.0h0M456.2 155.7h0M357.6 161.0h0M429.0 124.5h0M415.8 144.2h0M358.3 122.6h0M408.3 166.0h0M420.6 181.6h0M388.6 161.7h0M464.7 174.1h0M405.6 126.2h0M414.6 155.4h0M437.1 162.6h0M356.0 155.8h0M350.7 125.4h0M396.3 175.9h0M396.1 156.6h0M423.0 134.7h0M389.4 135.9h0M327.6 132.6h0M352.0 141.2h0M413.2 152.3h0M404.3 164.2h0M394.2 145.2h0M455.2 175.2h0M359.6 136.1h0M406.7 168.4h0M409.9 153.0h0M323.7 59.1h0M340.8 149.9h0M355.4 152.6h0M357.5 151.2h0M340.1 105.7h0M351.8 143.3h0M366.4 144.7h0M389.0 166.1h0M456.6 107.7h0M353.9 120.1h0M375.2 155.6h0M355.5 181.0h0M358.2 153.4h0M351.9 166.6h0M405.6 158.5h0M392.3 164.0h0M390.1 48.3h0M352.9 176.7h0M405.7 145.8h0M396.9 181.9h0M514.2 165.9h0M353.0 159.7h0M429.1 182.1h0M383.3 75.0h0M496.4 159.1h0"/>
<path stroke="#005800" stroke-width="2.56" stroke-linecap="round" d="M388.9 179.9h0M409.6 167.6h0M362.8 61.8h0M452.4 156.5h0M368.5 129.8h0M361.6 178.1h0M334.7 184.9h0M433.6 163.6h0M322.0 164.7h0M408.2 155.5h0M452.4 172.6h0M422.5 181.3h0M346.0 122.4h0M343.9 170.9h0M455.0 183.5h0M451.4 88.7h0M368.4 95.3h0M365.7 98.6h0M400.9 175.4h0M507.0 119.7h0M382.4 36.0h0M412.5 150.5h0M383.1 51.6h0M446.2 157.7h0M417.3 90.6h0M439.5 157.3h0M399.0 161.3h0M366.4 171.7h0M329.2 131.0h0M366.2 126.1h0M376.0 162.3h0M353.7 167.9h0M415.9 177.2h0M393.8 65.9h0M398.2 135.4h0M360.0 68.0h0M437.9 176.6h0M383.3 176.5h0M430.6 163.1h0"/>
<path stroke="#a82ee0" stroke-width="2.56" stroke-linecap="round" d="M393.2 143.6h0M390.5 134.2h0M390.2 162.0h0M416.7 166.4h0M412.9 66.9h0M364.2 130.0h0M352.8 134.2h0M357.0 164.2h0M405.0 120.2h0M353.2 149.1h0M420.5 132.8h0M358.4 150.8h0M355.9 164.5h0M352.9 149.0h0M440.8 174.8h0M429.8 112.7h0M393.5 137.4h0M356.7 137.1h0M376.3 115.4h0M355.7 136.4h0M394.7 144.3h0M529.6 77.2h0M380.8 163.1h0M388.4 149.0h0M460.1 42.1h0M451.7 182.8h0M373.0 128.9h0M450.5 118.6h0M391.2 183.9h0M357.0 166.4h0M409.5 131.7h0M355.9 124.2h0M355.5 108.4h0M354.8 134.3h0M343.2 136.0h0M392.0 182.8h0M412.3 151.7h0M352.2 133.0h0M355.2 181.1h0M406.0 173.2h0M435.3 117.4h0M355.5 48.3h0M358.1 58.0h0M397.5 158.3h0M334.7 179.0h0M413.1 162.3h0M328.0 184.7h0M394.2 152.3h0M446.1 137.6h0M366.5 130.9h0M422.3 184.7h0M350.8 154.7h0M322.9 177.7h0M401.4 172.8h0M407.2 108.4h0M353.6 119.9h0M357.7 157.3h0M457.3 122.0h0M355.0 152.4h0M391.4 132.6h0M424.7 133.1h0M364.6 112.7h0M388.2 162.8h0M382.3 150.1h0M333.8 182.9h0M357.3 118.5h0M415.9 168.7h0M395.9 143.7h0M351.1 133.1h0M387.6 78.4h0M350.8 155.5h0M355.9 157.1h0M355.5 182.9h0M339.0 177.2h0M353.4 163.2h0M352.4 136.8h0M388.1 159.9h0M379.0 175.5h0M355.6 151.9h0M352.2 156.2h0M406.0 172.2h0"/>
<path stroke="#005800" stroke-width="2.56" stroke-linecap="round" d="M419.0 93.7h0M340.8 174.4h0M413.7 175.3h0M350.1 107.2h0M370.0 162.9h0M360.3 137.7h0M362.2 161.4h0M407.1 168.8h0M391.0 144.1h0M337.4 160.5h0M335.4 156.2h0M445.7 156.7h0M336.5 161.7h0M379.2 173.6h0M401.9 155.7h0M416.2 142.0h0M397.4 140.2h0M422.4 164.9h0M443.9 157.2h0M414.4 146.7h0M398.5 131.1h0M464.5 160.8h0M355.1 170.1h0M379.1 148.6h0M353.6 83.6h0M453.8 179.4h0M370.5 129.8h0M332.8 161.2h0M448.2 166.8h0M375.7 173.6h0M444.0 128.4h0M479.4 154.0h0M421.3 103.9h0M392.4 169.3h0M413.2 183.3h0M360.1 132.0h0"/>
<path stroke="#a82ee0" stroke-width="2.56" stroke-linecap="round" d="M358.3 133.3h0M402.1 161.0h0M353.5 143.8h0M410.6 168.7h0M356.9 156.5h0M352.3 134.1h0M390.0 178.1h0M353.8 170.1h0M396.1 170.4h0M361.3 39.9h0M481.5 171.3h0M356.1 153.9h0M394.7 175.7h0M448.0 172.7h0M365.2 127.0h0M352.9 165.1h0M354.2 120.2h0M411.2 129.7h0M429.6 160.7h0M355.4 176.7h0M343.1 180.5h0M410.7 160.9h0M358.0 161.2h0M352.4 132.9h0M355.6 142.4h0M356.2 148.1h0M397.5 167.9h0M357.9 179.9h0M354.3 161.2h0M355.6 171.0h0M417.1 182.7h0M415.6 158.9h0M351.6 132.3h0M388.9 165.0h0M412.7 181.7h0M390.1 146.3h0M357.8 133.8h0M351.6 180.5h0M415.7 145.9h0M361.2 160.9h0M388.9 167.1h0M461.5 173.3h0M391.2 133.0h0M378.3 178.1h0M337.5 183.0h0M409.8 144.3h0M435.8 173.6h0M384.4 171.7h0M414.9 156.0h0M354.4 79.0h0M392.0 166.1h0M356.1 130.7h0M369.2 110.5h0M329.8 181.3h0M377.7 117.2h0M351.0 151.0h0M354.3 67.1h0M393.7 165.2h0M355.8 168.2h0M411.2 137.9h0M366.4 97.3h0M352.4 172.1h0M396.1 157.9h0M469.2 160.8h0M352.8 113.5h0M368.4 158.5h0M383.8 167.7h0M358.6 175.7h0M358.1 170.2h0M318.4 184.6h0M373.7 144.1h0M374.4 136.5h0M358.0 134.8h0M355.3 145.3h0M448.3 87.7h0M358.3 162.5h0M392.4 165.5h0M362.5 150.5h0M357.2 169.8h0M354.3 173.3h0M435.3 159.1h0M459.4 150.5h0M404.4 181.8h0M514.1 183.8h0"/>
<path stroke="#005800" stroke-width="2.56" stroke-linecap="round" d="M351.8 110.4h0M412.0 181.6h0M428.9 112.9h0M408.7 156.3h0M374.6 145.5h0M486.4 169.8h0M393.3 170.0h0M389.3 77.0h0M409.4 109.5h0M399.8 66.2h0M366.1 171.2h0M420.4 178.0h0M422.2 164.5h0M361.6 93.4h0M446.3 183.3h0M460.4 110.9h0M361.8 177.2h0M354.2 146.4h0M402.2 128.5h0M366.4 76.9h0M395.9 92.9h0M429.8 120.0h0M386.0 147.8h0M379.2 147.2h0M437.0 110.5h0M400.1 139.3h0M372.3 80.1h0M341.0 180.4h0M403.0 159.6h0M443.0 135.7h0M351.8 168.9h0M319.4 181.5h0M352.1 175.6h0M401.8 177.6h0M379.3 97.4h0M439.9 148.4h0M394.0 103.2h0M352.8 106.8h0M394.2 73.4h0M379.6 101.2h0M374.9 68.9h0M436.2 104.8h0M425.7 157.4h0M450.9 179.8h0M353.5 141.2h0M383.3 136.1h0M432.6 132.9h0"/>
<path stroke="#a82ee0" stroke-width="2.56" stroke-linecap="round" d="M394.8 134.0h0M351.3 167.0h0M405.7 138.4h0M402.2 164.2h0M333.1 183.2h0M353.4 121.2h0M355.7 166.2h0M406.6 159.1h0M357.9 169.2h0M480.7 101.6h0M391.8 145.6h0M429.9 171.7h0M377.7 161.6h0M325.1 180.6h0M473.5 57.9h0M374.9 173.1h0M394.3 147.0h0M362.8 153.1h0M399.6 89.0h0M350.6 171.2h0M355.3 121.2h0M333.4 182.9h0M407.2 177.5h0M352.1 122.2h0M420.1 131.3h0M397.7 174.6h0M411.9 147.4h0M393.2 178.5h0M350.4 176.0h0M352.4 165.8h0M390.3 158.7h0M445.9 68.0h0M426.0 149.4h0M395.5 170.7h0M364.2 180.1h0M389.9 159.3h0M493.1 178.4h0M364.5 93.5h0M324.7 178.7h0M356.8 172.3h0M411.5 152.2h0M357.2 129.5h0M424.3 101.5h0M421.5 155.8h0M322.1 179.6h0M395.8 161.2h0M402.9 102.5h0M399.6 168.0h0M351.7 149.3h0M395.5 160.6h0M380.8 163.0h0M377.9 92.0h0M356.5 154.2h0M360.4 161.7h0M366.4 181.9h0M408.8 124.5h0M369.3 162.2h0M357.7 143.1h0M409.3 170.0h0M357.9 147.2h0M390.4 142.4h0M351.7 149.5h0M409.2 136.7h0M357.9 171.2h0M454.9 165.0h0M395.1 155.9h0M354.4 134.2h0M354.6 176.8h0M358.0 170.0h0M396.2 170.3h0M434.9 169.7h0M415.8 156.2h0M392.6 172.4h0"/>
<path stroke="#005800" stroke-width="2.56" stroke-linecap="round" d="M345.4 138.8h0M376.0 126.7h0M425.5 146.6h0M406.9 153.2h0M369.2 127.7h0M430.3 159.3h0M428.5 171.8h0M383.5 102.9h0M381.7 101.9h0M442.8 178.3h0M392.5 99.9h0M455.3 153.3h0M381.3 176.9h0M423.0 131.2h0M375.2 112.9h0M438.6 183.2h0M412.4 126.8h0M374.9 182.1h0M453.8 161.0h0M355.0 103.6h0M513.9 164.8h0M436.4 170.6h0M419.1 142.3h0M458.6 151.8h0M377.8 97.4h0M392.6 144.7h0M414.6 129.9h0M329.1 171.9h0M359.9 125.8h0M490.7 108.7h0M486.7 168.6h0M320.5 162.6h0M364.6 170.1h0M389.9 179.7h0M403.0 159.8h0M460.3 109.5h0M382.6 95.3h0M356.0 119.8h0M452.0 154.6h0M341.7 148.3h0M349.4 152.5h0M367.0 137.7h0M496.5 170.2h0M488.7 176.0h0M346.9 156.5h0M380.7 125.5h0M441.0 168.2h0M380.9 97.2h0M374.6 59.5h0M378.6 131.5h0"/>
<path stroke="#a82ee0" stroke-width="2.56" stroke-linecap="round" d="M358.6 124.1h0M357.6 134.4h0M465.2 102.4h0M427.6 102.1h0M462.8 115.4h0M477.1 166.0h0M408.1 177.7h0M358.5 175.3h0M412.8 170.2h0M352.3 152.0h0M415.5 160.9h0M398.1 182.1h0M353.3 151.7h0M424.2 172.1h0M356.2 140.0h0M412.8 158.7h0M404.8 139.4h0M373.2 149.3h0M419.0 162.7h0M352.6 130.7h0M449.9 122.3h0M355.4 171.8h0M350.9 148.5h0M420.8 166.7h0M357.0 183.4h0M356.8 141.6h0M355.1 138.5h0M323.0 183.7h0M411.3 127.0h0M455.9 65.5h0M345.5 104.0h0M340.7 180.7h0M411.4 141.5h0M397.6 158.4h0M397.9 178.6h0M383.7 96.4h0M408.4 161.9h0M392.4 136.5h0M394.4 156.1h0M354.1 122.4h0M435.7 149.3h0M408.5 184.4h0M405.9 88.6h0M394.6 161.4h0M464.3 102.4h0M373.6 128.9h0M397.2 137.5h0M390.7 176.4h0M394.9 167.6h0M337.3 177.7h0M351.5 131.8h0M466.0 168.2h0M392.2 155.6h0M350.8 173.0h0M437.9 141.7h0M353.2 162.7h0M350.8 180.2h0M350.8 163.4h0M353.3 178.3h0M324.3 184.0h0M364.1 145.5h0M395.0 170.6h0M423.8 178.3h0M406.1 176.0h0M395.2 167.7h0M367.5 148.2h0M449.5 143.7h0M395.0 158.1h0M357.8 158.2h0M389.8 161.5h0"/>
<path stroke="#005800" stroke-width="2.56" stroke-linecap="round" d="M379.0 122.0h0M408.6 153.7h0M403.3 184.6h0M433.9 126.5h0M341.5 153.6h0M370.1 122.3h0M373.0 161.7h0M338.9 143.6h0M450.3 176.9h0M410.5 153.8h0M379.5 172.5h0M411.0 131.0h0M424.0 169.0h0M406.7 150.0h0M344.2 178.2h0M418.5 140.3h0M365.9 62.2h0M420.1 105.7h0M389.0 134.8h0M412.5 170.3h0M420.5 139.6h0M417.2 150.3h0M425.7 92.6h0M423.7 180.7h0M360.3 67.2h0M486.2 169.9h0M416.5 173.7h0M330.7 184.0h0M400.8 160.7h0M359.3 109.0h0M485.8 164.4h0M370.0 158.1h0M431.0 173.9h0M376.6 34.5h0M375.8 131.0h0M436.3 105.6h0M424.6 181.9h0M373.6 152.4h0M489.2 179.5h0M361.9 137.3h0M400.4 92.6h0M377.0 119.6h0M429.8 181.5h0M425.7 166.6h0M354.9 38.7h0M415.0 170.3h0"/>
<path stroke="#a82ee0" stroke-width="2.56" stroke-linecap="round" d="M418.4 134.2h0M378.8 147.3h0M414.4 161.7h0M455.4 148.8h0M363.5 102.4h0M411.0 167.4h0M357.6 176.8h0M350.9 134.4h0M407.2 167.7h0M448.3 181.8h0M351.9 125.3h0M355.5 154.9h0M370.5 167.2h0M380.3 167.7h0M352.4 158.1h0M373.4 127.0h0M389.8 142.3h0M424.6 132.9h0M407.2 148.2h0M352.1 169.9h0M415.7 179.7h0M389.8 180.5h0M409.6 142.0h0M340.4 171.9h0M339.4 182.8h0M416.1 153.4h0M358.3 161.3h0M319.4 184.0h0M533.5 85.4h0M398.1 141.7h0M463.7 151.8h0M357.4 120.2h0M356.2 139.7h0M376.4 180.9h0M351.1 167.4h0M385.5 77.2h0M441.1 140.2h0M443.7 65.9h0M468.2 31.7h0M464.8 171.9h0M400.3 147.5h0M350.6 143.9h0M358.5 167.1h0M353.5 174.4h0M429.8 157.3h0M353.4 156.8h0M354.1 146.0h0M357.4 160.9h0M322.7 178.0h0M355.9 182.7h0M395.4 168.7h0M406.6 101.9h0M362.5 83.0h0M353.9 134.7h0M409.7 143.2h0M392.4 161.4h0M414.6 157.4h0M440.8 180.5h0M331.1 180.2h0M390.9 169.8h0M357.5 161.3h0M381.8 138.0h0M418.2 171.2h0M356.0 144.1h0M352.9 126.5h0M390.4 181.2h0M433.0 116.6h0M437.0 161.4h0M388.0 86.8h0M356.8 165.9h0M392.4 171.9h0M392.2 182.1h0M397.2 133.3h0M417.7 144.8h0"/>
<path stroke="#005800" stroke-width="2.56" stroke-linecap="round" d="M464.6 151.4h0M378.1 152.2h0M390.2 158.2h0M338.9 177.9h0M426.1 132.5h0M433.9 162.9h0M367.6 126.7h0M433.3 135.5h0M384.3 96.7h0M447.9 135.8h0M440.0 170.0h0M374.7 70.4h0M364.3 181.4h0M424.5 141.7h0M399.6 177.5h0M388.2 136.9h0M339.4 156.3h0M365.3 159.1h0M332.3 134.2h0M400.5 182.8h0M405.0 178.3h0M425.4 147.2h0M377.9 139.3h0M401.2 153.5h0M361.9 90.8h0M357.1 77.4h0M422.5 171.3h0M453.2 155.9h0M347.7 181.3h0M407.1 166.4h0M383.3 156.0h0M373.5 133.2h0M395.3 149.0h0M366.9 111.1h0M448.7 161.1h0M531.6 121.7h0M426.4 170.2h0M471.9 88.7h0"/>
<path stroke="#a82ee0" stroke-width="2.56" stroke-linecap="round" d="M430.2 173.4h0M355.1 140.7h0M414.8 125.1h0M353.6 148.7h0M330.4 180.9h0M465.8 94.6h0M373.8 151.1h0M354.6 148.2h0M328.6 150.0h0M435.7 151.0h0M354.2 179.0h0M418.7 178.1h0M357.2 139.9h0M433.8 171.1h0M362.0 111.5h0M357.7 157.1h0M398.2 161.9h0M354.5 149.9h0M365.3 65.9h0M416.5 144.6h0M415.7 158.3h0M351.6 181.5h0M424.3 136.5h0M427.8 161.0h0M370.8 175.5h0M335.3 169.1h0M392.0 135.6h0M410.6 167.6h0M363.0 91.6h0M358.6 178.7h0M371.0 102.4h0M533.0 177.7h0M353.3 123.3h0M391.3 139.0h0M395.8 137.2h0M354.4 167.4h0M390.4 166.0h0M353.7 154.1h0M460.5 180.4h0M411.4 174.7h0M370.8 139.8h0M396.3 151.8h0M397.3 135.8h0M393.6 136.0h0M350.4 140.7h0M357.1 145.0h0M352.3 139.4h0M395.0 164.0h0M327.2 185.0h0M402.8 163.3h0M354.7 135.5h0M351.0 159.2h0M353.9 123.4h0M353.0 178.0h0M363.7 116.0h0M346.7 154.6h0M418.5 159.4h0M357.3 157.1h0M408.9 170.2h0M459.8 154.6h0M354.7 105.7h0M388.9 142.7h0M417.8 167.3h0M416.2 167.5h0M358.1 181.1h0M358.7 130.8h0M355.2 170.4h0M422.0 168.8h0M359.3 88.0h0M428.0 177.9h0M392.5 162.6h0M357.6 174.7h0M410.8 120.9h0M446.9 150.2h0M403.3 178.6h0M344.8 178.7h0M371.5 67.1h0M357.7 181.8h0M409.3 182.8h0M351.1 127.1h0M465.3 97.0h0M371.0 143.0h0"/>
<path stroke="#005800" stroke-width="2.56" stroke-linecap="round" d="M367.4 81.0h0M371.2 160.0h0M452.9 138.4h0M365.8 172.1h0M376.1 64.5h0M361.1 143.9h0M398.3 102.5h0M424.5 161.6h0M405.8 162.6h0M410.3 157.0h0M448.4 126.6h0M404.9 182.3h0M417.0 165.0h0M421.7 156.2h0M349.2 171.5h0M336.5 151.2h0M462.4 171.2h0M336.0 181.8h0M412.2 148.7h0M417.2 182.8h0M424.1 163.2h0M433.1 130.3h0M351.4 153.4h0M399.3 104.0h0M398.1 169.1h0M330.1 135.0h0M355.1 148.3h0M414.7 176.8h0M372.2 168.9h0M376.9 161.0h0M456.9 160.5h0M450.1 169.9h0M368.5 150.6h0M389.7 95.3h0M446.3 162.1h0M480.0 167.6h0M488.9 108.4h0M323.7 162.8h0M384.9 117.3h0"/>
<path stroke="#a82ee0" stroke-width="2.56" stroke-linecap="round" d="M330.7 135.6h0M352.9 173.5h0M355.4 173.3h0M342.3 177.0h0M390.4 177.6h0M331.5 181.3h0M428.0 158.9h0M465.8 119.6h0M355.2 123.2h0M355.2 122.8h0M326.2 181.3h0M420.5 156.8h0M353.1 124.1h0M357.0 105.7h0M400.1 180.6h0M448.5 153.6h0M344.9 157.0h0M354.6 174.7h0M354.4 137.3h0M529.5 184.7h0M370.1 132.7h0M425.3 130.5h0M415.8 159.7h0M354.0 156.9h0M334.5 138.1h0M390.0 181.2h0M355.4 178.7h0M425.1 171.5h0M335.3 121.2h0M353.6 166.0h0M370.0 155.7h0M329.1 129.4h0M351.1 172.0h0M353.1 123.0h0M427.4 40.3h0M352.9 182.9h0M357.5 148.5h0M380.7 114.2h0M410.3 133.1h0M350.8 173.9h0M345.3 77.3h0M350.9 145.4h0M414.9 160.8h0M395.5 163.5h0M325.9 181.3h0M405.0 172.2h0M332.2 182.1h0M426.1 174.3h0M352.5 166.9h0M389.4 141.8h0M353.7 156.7h0M394.6 134.2h0M465.6 176.0h0M393.4 161.8h0M465.5 180.1h0M334.9 138.8h0M453.4 168.9h0M419.8 172.0h0M439.0 175.2h0M357.2 160.9h0M439.1 150.6h0M340.0 177.0h0M352.9 156.3h0M465.1 153.3h0M356.7 136.4h0M410.8 176.0h0M392.7 138.4h0M424.0 180.7h0M390.4 162.6h0M450.0 75.5h0M384.3 167.8h0M355.3 143.6h0M385.7 138.6h0M391.4 134.9h0M389.3 173.7h0M318.8 179.0h0M408.0 135.3h0M526.2 77.4h0M415.5 149.6h0M373.1 129.2h0M350.8 141.2h0"/>
<path stroke="#005800" stroke-width="2.56" stroke-linecap="round" d="M415.9 78.7h0M363.3 95.4h0M407.3 162.3h0M459.4 126.7h0M488.2 134.5h0M412.0 98.4h0M343.5 178.7h0M413.2 152.8h0M446.9 163.5h0M401.2 157.4h0M372.9 75.7h0M331.9 132.2h0M367.1 149.7h0M357.3 110.2h0M405.8 169.5h0M400.9 109.6h0M360.1 113.0h0M432.3 98.5h0M429.7 160.0h0M355.9 34.5h0M390.3 176.7h0M406.0 140.8h0M404.0 155.2h0M373.6 87.3h0M360.2 130.1h0M406.6 114.0h0M412.7 155.4h0M452.8 148.7h0M424.0 148.8h0M447.8 176.5h0M401.9 109.7h0M414.1 177.0h0M356.4 169.7h0M376.1 33.3h0M346.8 174.6h0M334.9 131.5h0M401.5 121.3h0M369.2 98.3h0M373.4 64.5h0M412.9 130.4h0"/>
<path stroke="#a82ee0" stroke-width="2.56" stroke-linecap="round" d="M378.6 144.1h0M407.6 178.0h0M363.5 179.8h0M406.1 178.3h0M404.6 152.1h0M414.4 174.5h0M354.7 164.8h0M356.6 160.4h0M488.4 178.5h0M455.1 178.1h0M420.3 57.7h0M351.2 157.8h0M354.8 110.5h0M355.7 159.7h0M459.4 130.7h0M354.8 152.8h0M425.2 151.4h0M423.9 169.2h0M390.6 153.8h0M371.8 158.3h0M360.5 140.7h0M448.1 148.4h0M354.1 136.4h0M412.9 183.9h0M351.2 170.5h0M494.2 181.9h0M352.5 159.2h0M460.4 153.7h0M410.5 168.1h0M357.7 173.3h0M447.1 147.2h0M446.1 182.7h0M379.3 173.5h0M420.0 133.1h0M351.2 134.8h0M383.3 35.6h0M458.7 173.8h0M393.0 168.2h0M427.0 127.3h0M356.1 123.8h0M358.6 139.2h0M352.7 146.1h0M419.4 184.1h0M357.5 129.2h0M353.8 169.3h0M531.1 153.7h0M357.5 177.6h0M354.2 120.3h0M425.5 177.8h0M369.6 180.5h0M379.8 177.6h0M362.9 163.4h0M353.8 166.2h0M439.4 96.8h0M355.1 132.8h0M355.9 145.8h0M354.1 135.3h0M355.4 173.1h0M434.6 155.1h0M404.2 146.0h0M391.4 170.7h0M354.6 128.0h0M394.9 161.2h0M343.7 178.3h0M327.9 178.3h0M374.2 177.6h0M380.0 156.8h0M357.9 167.2h0M358.4 152.2h0M394.6 175.7h0M384.5 154.9h0M400.2 105.7h0M357.9 169.1h0M355.2 141.9h0M415.4 155.8h0M408.1 181.2h0M358.5 182.8h0M392.4 181.0h0M362.5 100.2h0M393.6 155.1h0"/>
<path stroke="#005800" stroke-width="2.56" stroke-linecap="round" d="M478.5 117.1h0M394.3 171.6h0M411.3 145.5h0M402.4 102.8h0M421.3 145.1h0M344.1 163.1h0M447.5 133.3h0M372.0 107.9h0M360.7 129.1h0M375.6 178.1h0M470.9 157.7h0M418.5 150.4h0M360.3 91.8h0M384.1 147.7h0M401.6 129.1h0M401.0 172.7h0M412.3 176.2h0M390.7 181.0h0M400.6 102.7h0M498.6 166.4h0M390.7 164.6h0M381.8 169.7h0M331.5 184.3h0M416.0 85.0h0M345.4 88.3h0M441.4 81.2h0M388.1 146.1h0M372.4 134.6h0M449.1 127.3h0M371.0 122.2h0M424.5 159.3h0M398.4 152.4h0M410.6 142.3h0M455.5 140.6h0M464.9 146.4h0M337.3 154.7h0"/>
<path stroke="#a82ee0" stroke-width="2.56" stroke-linecap="round" d="M350.7 143.1h0M356.1 154.3h0M506.1 168.2h0M357.6 134.7h0M409.4 177.6h0M393.9 165.6h0M397.3 146.2h0M403.6 116.4h0M415.8 137.7h0M456.3 122.9h0M405.4 157.3h0M407.0 146.3h0M358.4 130.4h0M396.8 180.4h0M415.2 157.7h0M337.3 178.5h0M352.0 153.3h0M357.4 164.5h0M392.4 166.1h0M428.5 156.9h0M382.2 107.8h0M332.3 179.9h0M379.1 149.7h0M355.3 176.8h0M358.6 149.2h0M430.6 172.6h0M353.3 169.3h0M403.4 153.6h0M434.1 183.3h0M390.6 176.3h0M354.0 138.4h0M354.4 144.3h0M453.7 92.2h0M418.7 148.6h0M353.7 157.8h0M359.0 107.8h0M379.8 121.6h0M358.3 151.6h0M354.1 182.5h0M359.5 123.2h0M351.2 123.1h0M394.7 178.9h0M423.6 161.3h0M350.4 162.0h0M419.6 143.1h0M396.6 137.4h0M408.0 158.9h0M357.1 149.0h0M408.3 102.6h0M317.5 183.1h0M352.8 180.8h0M516.9 161.0h0M410.1 75.8h0M415.6 164.7h0M352.7 177.4h0M350.8 174.0h0M352.6 154.2h0M411.2 164.4h0M357.1 147.4h0M353.8 161.3h0M356.1 143.6h0M351.9 166.9h0M322.5 178.7h0M425.4 184.2h0M324.2 182.1h0M422.4 184.2h0M357.7 182.5h0M378.5 149.0h0M355.0 171.7h0M422.8 171.8h0M384.8 124.1h0M396.6 179.4h0M425.3 115.6h0M428.3 158.2h0M334.8 165.3h0M424.1 154.2h0M397.7 177.0h0M410.1 160.8h0M374.0 106.3h0M327.5 180.3h0M354.5 147.2h0M396.9 142.0h0M393.0 132.0h0M394.7 142.0h0"/>
<path stroke="#005800" stroke-width="2.56" stroke-linecap="round" d="M411.5 172.5h0M375.0 111.6h0M368.2 54.8h0M449.0 160.0h0M359.8 175.0h0M355.0 98.1h0M364.3 69.3h0M372.1 164.4h0M456.2 134.7h0M457.7 150.7h0M402.5 113.0h0M419.7 138.4h0M422.6 159.1h0M445.9 160.9h0M486.1 135.4h0M417.8 166.7h0M411.9 137.0h0M384.1 169.1h0M385.4 94.1h0M459.3 165.6h0M387.8 81.7h0M379.9 171.2h0M463.2 118.9h0M345.1 86.9h0M318.3 120.4h0M411.1 151.7h0M381.2 140.9h0M418.9 172.2h0M354.2 182.6h0M462.2 94.2h0M415.3 90.4h0M358.6 156.6h0M331.5 138.8h0M458.0 148.1h0M344.6 179.7h0M451.8 155.5h0M393.2 67.1h0M499.3 169.9h0M424.6 48.6h0M382.5 166.4h0M445.0 120.3h0M399.0 103.3h0M372.9 169.5h0M459.2 161.3h0M488.1 164.6h0M372.1 110.9h0"/>
<path stroke="#a82ee0" stroke-width="2.56" stroke-linecap="round" d="M444.6 126.8h0M395.4 133.9h0M350.9 149.0h0M325.8 184.3h0M321.9 180.9h0M356.3 126.9h0M425.5 122.3h0M356.2 152.7h0M334.9 183.3h0M423.1 166.2h0M357.9 179.2h0M354.9 120.5h0M354.0 121.4h0M374.1 96.6h0M351.5 139.2h0M384.0 140.1h0M415.2 175.7h0M352.6 178.6h0M466.6 176.2h0M494.5 161.6h0M353.7 178.2h0M336.5 180.6h0M425.1 154.6h0M413.2 164.7h0M353.1 146.7h0M358.6 127.4h0M356.8 159.8h0M354.0 172.0h0M353.9 159.2h0M427.0 177.1h0M355.4 149.6h0M352.7 156.2h0M395.6 134.8h0M394.2 140.8h0M352.3 166.6h0M354.1 144.0h0M356.9 164.5h0M367.0 160.7h0M409.2 160.5h0M330.9 180.6h0M393.3 161.7h0M424.2 171.4h0M401.4 141.5h0M325.2 181.7h0M354.9 148.6h0M357.8 128.9h0M397.4 163.2h0M515.3 183.8h0M357.2 129.3h0M434.8 171.3h0M363.9 105.6h0M355.5 133.9h0M357.8 131.9h0M483.7 171.8h0M384.2 159.9h0M428.0 173.7h0M397.0 182.1h0M358.5 130.6h0M391.3 167.6h0M352.4 148.6h0M448.6 166.4h0M373.8 60.7h0M494.6 126.0h0M393.9 146.7h0M398.7 180.5h0M350.4 129.3h0M350.6 172.3h0M352.4 145.6h0M354.5 139.4h0M354.1 144.2h0M357.4 120.7h0M389.5 145.6h0M390.2 180.4h0M484.0 184.1h0"/>
<path stroke="#005800" stroke-width="2.56" stroke-linecap="round" d="M337.2 138.9h0M381.0 137.6h0M404.5 182.4h0M512.7 146.9h0M482.6 172.7h0M434.9 102.4h0M371.5 168.3h0M391.7 139.2h0M457.2 164.0h0M448.1 163.3h0M322.7 169.9h0M437.9 59.8h0M370.9 98.2h0M443.3 175.6h0M428.0 174.3h0M399.9 133.4h0"/>
<path stroke="#a82ee0" stroke-width="2.56" stroke-linecap="round" d="M329.2 181.9h0M357.7 144.4h0M356.3 183.4h0M355.6 132.9h0M443.4 106.8h0M356.2 139.1h0M383.2 74.7h0M345.0 184.1h0M324.7 180.9h0M434.0 131.1h0M409.2 183.3h0M358.7 150.0h0M396.4 139.7h0M367.9 63.0h0M408.0 142.2h0M403.0 155.6h0M411.6 177.7h0M369.5 118.4h0M352.5 182.1h0M399.8 150.4h0M355.8 138.0h0M404.8 153.7h0M388.7 145.0h0M400.3 91.5h0M392.3 133.1h0M350.6 101.7h0M391.0 167.1h0M414.2 174.7h0M394.1 142.3h0M358.4 145.1h0M348.1 165.2h0M447.8 168.0h0M397.2 93.7h0M392.2 158.6h0"/>
<path d="M317.2 168.0 C319.6 169.2 326.2 178.5 331.8 175.5 C337.4 172.5 344.5 158.8 350.6 150.0 C356.7 141.2 362.5 124.4 368.4 122.5 C374.3 120.6 379.6 134.3 386.0 138.5 C392.4 142.7 399.8 145.2 406.7 147.8 C413.6 150.4 420.4 153.3 427.3 154.0 C434.2 154.7 441.6 152.2 448.0 152.0 C454.4 151.8 459.6 152.1 466.0 152.5 C472.4 152.9 479.8 154.4 486.7 154.5 C493.6 154.6 501.5 154.2 507.3 153.0 C513.1 151.8 517.1 149.8 521.8 147.0 C526.4 144.2 533.0 137.8 535.2 136.0 L535.2 167.0 C533.0 166.8 526.4 166.5 521.8 166.0 C517.1 165.5 513.1 164.8 507.3 164.0 C501.5 163.2 493.6 162.1 486.7 161.0 C479.8 159.9 472.4 158.3 466.0 157.5 C459.6 156.7 454.4 156.0 448.0 156.0 C441.6 156.0 434.2 158.2 427.3 157.5 C420.4 156.8 413.6 154.1 406.7 151.5 C399.8 148.9 392.4 146.1 386.0 142.0 C379.6 137.9 374.3 124.8 368.4 127.0 C362.5 129.2 356.7 146.0 350.6 155.0 C344.5 164.0 337.4 176.5 331.8 181.0 C326.2 185.5 319.6 181.8 317.2 182.0Z" fill="#00dd44" fill-opacity="0.25"/>
<path d="M317.2 141.0 C318.3 143.8 321.7 153.2 324.0 158.0 C326.3 162.8 328.3 167.8 331.0 170.0 C333.7 172.2 336.8 174.3 340.0 171.0 C343.2 167.7 346.7 156.7 350.0 150.0 C353.3 143.3 357.0 135.7 360.0 131.0 C363.0 126.3 365.0 122.8 368.0 122.0 C371.0 121.2 375.0 123.7 378.0 126.0 C381.0 128.3 381.2 132.7 386.0 136.0 C390.8 139.3 399.8 143.7 406.7 146.0 C413.6 148.3 420.4 149.8 427.3 150.0 C434.2 150.2 441.6 147.6 448.0 147.0 C454.4 146.4 459.6 147.8 466.0 146.3 C472.4 144.8 481.2 140.8 486.7 138.0 C492.2 135.2 495.6 131.3 499.0 129.8 C502.4 128.3 503.2 128.0 507.3 128.8 C511.4 129.6 521.1 133.6 523.9 134.5 L523.9 176.3 C522.9 175.4 520.5 173.3 517.7 171.1 C514.9 168.9 512.5 164.8 507.3 162.9 C502.1 161.0 493.6 160.7 486.7 159.8 C479.8 158.9 472.4 158.6 466.0 157.7 C459.6 156.8 454.4 154.5 448.0 154.6 C441.6 154.7 434.2 158.4 427.3 158.0 C420.4 157.6 413.6 154.7 406.7 152.0 C399.8 149.3 390.8 145.4 386.0 142.0 C381.2 138.6 381.0 133.9 378.0 131.5 C375.0 129.1 371.3 126.4 368.0 127.5 C364.7 128.6 361.0 132.9 358.0 138.0 C355.0 143.1 352.7 151.7 350.0 158.0 C347.3 164.3 344.8 171.9 342.0 176.0 C339.2 180.1 335.8 181.6 333.0 182.5 C330.2 183.4 327.6 182.2 325.0 181.5 C322.4 180.8 318.5 178.6 317.2 178.0Z" fill="#dd44ff" fill-opacity="0.36"/>
<path d="M317.2 173.2 C319.6 174.0 326.2 181.4 331.8 177.9 C337.4 174.4 344.5 160.9 350.6 152.0 C356.7 143.1 362.5 126.6 368.4 124.6 C374.3 122.6 379.6 136.0 386.0 140.1 C392.4 144.2 399.8 146.8 406.7 149.4 C413.6 152.0 420.4 154.8 427.3 155.6 C434.2 156.4 441.6 154.4 448.0 154.2 C454.4 154.0 459.6 154.2 466.0 154.6 C472.4 155.0 479.8 156.5 486.7 156.7 C493.6 156.9 499.2 156.6 507.3 155.6 C515.4 154.6 530.6 151.3 535.2 150.5" fill="none" stroke="#5a7a5a" stroke-width="1.2" stroke-opacity="0.9" stroke-linejoin="round" stroke-linecap="round"/>
<path d="M317.2 161.4 C319.6 164.2 326.4 179.3 331.8 178.5 C337.2 177.7 343.3 165.6 349.4 156.7 C355.5 147.8 362.3 127.6 368.4 124.8 C374.5 122.0 379.6 136.0 386.0 140.1 C392.4 144.2 399.8 146.8 406.7 149.4 C413.6 152.0 420.4 155.8 427.3 155.6 C434.2 155.4 441.6 149.0 448.0 148.0 C454.4 147.0 459.6 149.5 466.0 149.4 C472.4 149.3 480.5 148.2 486.7 147.4 C492.9 146.6 498.7 144.1 503.2 144.3 C507.7 144.5 510.4 146.3 513.5 148.4 C516.6 150.5 518.2 152.9 521.8 156.7 C525.4 160.5 533.0 168.7 535.2 171.1" fill="none" stroke="#a040d0" stroke-width="1.2" stroke-opacity="0.9" stroke-linejoin="round" stroke-linecap="round"/>
<path stroke="#87ceeb" stroke-width="2.56" stroke-linecap="round" d="M110.9 344.0h0M70.4 364.5h0M96.4 302.8h0M70.5 354.8h0M93.5 296.7h0M78.0 336.3h0M86.3 389.0h0M65.7 382.2h0M120.7 300.5h0M108.8 344.7h0M85.4 331.9h0M122.2 293.6h0M119.1 388.9h0M143.5 336.9h0M256.1 341.0h0M181.1 388.8h0M90.5 336.2h0M93.2 303.1h0M96.6 375.4h0M141.6 386.0h0M113.8 309.0h0M116.7 310.7h0M188.9 325.7h0M106.1 387.2h0M112.2 244.3h0M73.0 358.4h0M94.5 368.5h0M73.5 250.3h0M80.0 344.6h0M94.1 344.5h0M126.3 385.2h0M144.1 395.1h0M125.4 344.4h0M118.8 392.4h0M126.5 373.2h0M149.2 382.8h0M89.3 345.4h0M114.7 385.4h0M154.6 386.6h0M169.8 295.2h0"/>
<path stroke="#ffa500" stroke-width="2.56" stroke-linecap="round" d="M64.5 385.1h0M97.4 246.2h0M107.9 328.9h0M161.1 387.2h0M75.8 365.5h0M88.7 360.3h0M66.2 389.9h0M91.3 322.0h0M55.2 393.3h0M71.4 379.9h0M82.7 349.1h0M223.7 370.8h0M78.6 392.4h0M74.3 367.8h0M74.6 291.6h0M199.9 382.7h0M80.3 356.8h0M65.1 348.8h0M101.4 353.4h0M77.2 365.5h0M169.3 393.1h0M51.3 393.4h0M181.5 360.0h0M71.8 290.9h0M166.8 380.5h0M92.5 344.1h0M82.8 379.9h0M129.7 264.1h0M211.1 381.7h0M69.7 395.3h0M95.8 311.5h0M38.9 385.9h0M56.9 384.7h0M122.5 325.0h0M119.8 373.9h0M76.4 339.5h0M109.4 386.8h0M94.2 372.7h0M80.8 346.4h0M186.4 369.5h0M75.3 336.2h0M47.1 270.6h0M153.9 390.8h0M137.9 324.3h0M170.6 381.9h0M70.1 323.2h0M117.7 372.4h0M45.9 395.9h0M141.6 376.3h0M97.7 310.2h0M87.7 371.3h0M114.1 354.0h0M79.6 329.6h0M154.7 383.2h0M128.3 360.6h0M70.0 391.8h0M99.8 352.8h0M75.5 384.3h0M58.9 338.6h0M39.5 395.7h0M109.1 367.7h0M80.1 346.2h0M73.5 367.1h0M170.0 377.7h0M110.8 319.5h0M75.4 373.5h0M76.2 331.8h0M98.7 293.1h0M126.9 332.0h0M43.5 390.4h0M120.7 376.3h0M72.9 374.9h0M178.5 393.8h0M85.7 391.5h0M106.6 334.1h0M50.2 388.2h0M54.3 356.9h0M250.1 373.3h0M92.9 336.9h0M64.1 388.8h0M74.0 313.2h0M48.6 383.5h0M77.3 378.2h0M71.0 374.5h0M98.5 394.5h0M73.7 351.5h0M71.5 356.4h0M119.0 330.3h0M165.9 387.0h0M86.0 338.2h0M60.4 375.2h0M73.9 299.2h0M75.6 366.3h0M80.3 389.1h0M95.2 303.1h0M134.9 378.5h0M80.1 361.2h0M92.7 380.2h0M38.4 389.6h0M121.6 333.7h0M84.8 251.8h0M78.4 318.4h0M78.1 366.9h0M79.1 295.8h0M118.4 306.8h0M143.6 368.5h0M75.8 360.4h0M91.8 369.4h0M183.8 388.0h0M79.3 344.5h0"/>
<path stroke="#87ceeb" stroke-width="2.56" stroke-linecap="round" d="M86.9 379.8h0M100.1 361.2h0M110.5 343.4h0M104.7 323.2h0M110.1 315.2h0M210.2 381.2h0M148.1 390.8h0M108.8 355.8h0M159.2 380.5h0M79.9 369.8h0M106.5 261.1h0M113.0 379.4h0M223.3 386.1h0M59.0 240.8h0M117.1 372.7h0M121.8 344.9h0M124.7 302.5h0M77.6 386.2h0M71.9 383.5h0M54.1 392.7h0M135.8 392.1h0M117.6 324.3h0M140.6 358.6h0M126.2 395.9h0M169.2 382.5h0M246.1 382.7h0M122.8 318.2h0M85.0 375.5h0M100.0 310.7h0M135.3 294.2h0M105.9 384.7h0M152.0 394.7h0M95.9 317.7h0M150.2 387.6h0M141.2 389.1h0M139.7 386.2h0M75.2 351.4h0M94.5 306.4h0M101.6 335.1h0M81.4 394.5h0M133.4 394.0h0M72.7 238.5h0M93.6 342.5h0M100.6 300.6h0M75.0 389.7h0M119.0 387.6h0M155.4 390.4h0M127.7 374.0h0M79.4 319.0h0"/>
<path stroke="#ffa500" stroke-width="2.56" stroke-linecap="round" d="M100.1 327.6h0M122.6 388.5h0M118.8 369.1h0M78.1 380.6h0M81.6 386.6h0M136.4 392.6h0M226.9 341.8h0M46.0 383.9h0M73.7 358.8h0M59.5 396.5h0M82.1 376.2h0M75.5 306.1h0M123.7 348.1h0M80.2 370.2h0M138.4 341.0h0M55.6 396.3h0M115.3 332.9h0M113.6 367.1h0M77.3 336.7h0M43.7 391.1h0M76.1 364.9h0M180.2 303.6h0M101.7 362.7h0M188.2 331.9h0M67.4 395.4h0M52.6 387.0h0M73.6 350.4h0M108.3 294.9h0M114.3 340.6h0M159.6 343.2h0M64.7 394.0h0M254.2 375.0h0M79.2 269.9h0M83.6 385.6h0M73.2 367.8h0M78.8 373.4h0M80.8 381.7h0M99.1 390.0h0M146.7 360.4h0M46.3 386.7h0M167.9 393.6h0M78.5 353.0h0M106.1 361.2h0M107.2 355.0h0M78.5 324.5h0M148.2 359.5h0M79.2 247.6h0M104.8 247.1h0M124.6 391.5h0M105.4 350.4h0M111.6 383.9h0M45.0 394.1h0M207.0 324.6h0M166.6 378.5h0M42.5 393.0h0M96.0 325.4h0M92.8 387.0h0M117.4 380.6h0M38.0 341.2h0M217.3 366.7h0M45.0 370.1h0M227.6 389.3h0M91.9 327.2h0M152.7 392.8h0M55.0 369.5h0M127.6 367.4h0M74.3 384.9h0M107.7 366.1h0M194.8 353.6h0M99.3 356.2h0M43.5 394.3h0M188.7 379.6h0M148.7 388.0h0M88.9 388.2h0M255.9 363.1h0M187.5 381.4h0M119.7 310.9h0M216.1 392.9h0M157.3 390.6h0M74.4 355.7h0M107.9 338.0h0M141.7 348.4h0M149.5 392.1h0M61.2 394.0h0M88.6 346.4h0M98.9 353.9h0M110.7 374.5h0M108.6 336.1h0M190.6 378.9h0M80.3 363.6h0M113.7 371.3h0M76.4 367.5h0M174.0 390.1h0M152.0 385.6h0M82.2 367.4h0M130.7 332.8h0M72.5 330.8h0M79.9 350.4h0M39.5 395.0h0M135.3 386.0h0M123.3 310.5h0"/>
<path stroke="#87ceeb" stroke-width="2.56" stroke-linecap="round" d="M138.8 364.1h0M96.9 326.9h0M80.0 384.9h0M111.1 372.3h0M112.7 377.3h0M119.2 352.9h0M59.0 240.8h0M40.5 394.2h0M200.7 380.8h0M185.1 384.6h0M46.3 370.0h0M232.1 371.2h0M130.0 349.4h0M119.5 352.0h0M40.8 383.4h0M181.9 276.9h0M166.7 389.1h0M113.9 378.5h0M178.5 383.3h0M145.1 391.6h0M71.4 338.2h0M79.5 392.5h0M147.7 375.6h0M95.1 271.8h0M154.8 251.3h0M126.0 368.0h0M62.2 383.2h0M165.9 392.7h0M152.1 357.1h0M94.3 244.8h0M137.5 303.8h0M101.2 319.7h0M111.5 392.8h0M73.2 314.0h0M83.4 365.5h0M115.9 323.8h0M109.4 383.8h0M139.2 324.9h0M88.3 339.9h0M121.6 303.7h0M109.1 296.8h0M165.3 380.6h0M91.5 386.2h0M122.2 384.3h0M107.5 336.9h0M116.1 311.9h0M180.7 253.6h0M113.9 393.3h0M195.4 393.6h0"/>
<path stroke="#ffa500" stroke-width="2.56" stroke-linecap="round" d="M197.0 288.5h0M71.5 357.2h0M155.6 353.8h0M99.4 377.1h0M74.9 338.8h0M88.1 369.0h0M37.2 391.3h0M213.2 367.9h0M144.2 371.4h0M77.8 346.8h0M123.7 365.5h0M56.9 353.2h0M194.5 332.0h0M142.9 359.2h0M42.8 390.5h0M110.8 331.4h0M79.4 369.2h0M116.4 260.1h0M70.8 326.8h0M123.8 347.4h0M147.6 361.7h0M71.9 337.8h0M45.7 345.1h0M171.7 374.7h0M71.8 348.5h0M195.4 366.2h0M80.8 395.8h0M128.1 375.8h0M156.4 377.3h0M129.4 344.3h0M254.9 379.6h0M65.2 391.3h0M55.4 392.7h0M78.2 366.1h0M57.0 394.3h0M211.0 320.6h0M137.7 387.6h0M150.5 313.6h0M79.4 294.4h0M117.3 318.6h0M41.9 389.8h0M121.8 351.1h0M77.1 294.7h0M77.9 316.6h0M177.7 343.5h0M74.8 383.3h0M109.0 326.5h0M82.8 266.2h0M236.1 383.9h0M148.0 379.1h0M108.3 248.5h0M118.3 375.7h0M82.9 382.4h0M100.6 322.6h0M78.1 294.3h0M79.7 322.5h0M170.2 394.8h0M58.3 329.7h0M64.0 388.3h0M164.1 379.8h0M86.3 335.5h0M66.1 391.8h0M79.9 389.7h0M45.9 391.9h0M78.1 301.8h0M78.7 391.1h0M175.3 385.5h0M190.7 314.1h0M124.5 363.9h0M155.5 348.8h0M72.6 353.4h0M70.5 309.9h0M140.8 388.6h0M77.7 298.2h0M99.0 327.2h0M41.6 394.1h0M132.4 374.0h0M74.9 336.3h0M74.4 383.1h0M145.7 353.5h0M109.1 356.8h0M187.0 395.0h0M212.5 383.1h0M141.7 390.1h0M110.6 373.4h0M58.3 390.7h0M105.2 371.4h0M71.2 378.2h0M124.2 353.6h0M78.8 326.8h0M175.7 372.6h0M79.0 331.1h0M78.2 380.7h0M110.6 297.3h0M105.0 305.7h0M39.2 391.5h0M80.9 365.2h0M143.8 366.8h0M65.5 341.5h0M78.0 271.1h0M191.9 389.5h0"/>
<path stroke="#87ceeb" stroke-width="2.56" stroke-linecap="round" d="M102.3 371.7h0M151.6 298.3h0M117.2 350.8h0M128.1 362.4h0M79.9 367.6h0M123.8 372.6h0M165.0 387.8h0M72.8 313.8h0M120.5 381.9h0M76.2 314.3h0M54.2 391.5h0M161.4 371.5h0M126.0 317.6h0M109.2 345.9h0M155.6 341.3h0M147.6 389.3h0M89.0 281.3h0M169.5 385.3h0M145.4 376.0h0M109.9 353.9h0M174.9 289.7h0M177.2 349.2h0M120.2 381.3h0M89.5 304.2h0M82.6 340.3h0M141.1 388.3h0M114.4 379.3h0M101.7 316.3h0M108.2 313.5h0M117.4 388.5h0M101.1 355.2h0M230.8 301.3h0M96.2 287.5h0M143.6 344.2h0M71.6 352.5h0M181.2 365.9h0M174.4 259.6h0M70.5 366.2h0M71.2 372.3h0M141.9 290.4h0M107.8 375.5h0M197.2 382.1h0M177.1 338.1h0M148.9 297.3h0M115.4 302.5h0M114.7 321.6h0"/>
<path stroke="#ffa500" stroke-width="2.56" stroke-linecap="round" d="M79.4 327.4h0M179.3 379.2h0M114.9 393.8h0M140.9 380.7h0M254.0 334.1h0M155.5 380.9h0M75.9 394.4h0M79.0 325.9h0M134.3 389.2h0M69.1 395.9h0M96.2 277.6h0M141.1 361.5h0M116.8 388.6h0M77.9 351.7h0M104.3 311.1h0M108.7 336.6h0M138.2 383.6h0M179.1 391.7h0M85.7 366.7h0M67.6 394.8h0M41.5 393.6h0M47.8 390.9h0M136.7 350.4h0M132.2 380.1h0M39.2 375.6h0M65.1 390.8h0M73.6 328.8h0M192.5 364.8h0M71.5 358.2h0M93.7 388.4h0M78.6 355.9h0M148.3 388.1h0M65.7 365.6h0M71.3 316.0h0M165.3 394.8h0M77.1 358.8h0M183.5 340.0h0M82.8 277.6h0M138.3 360.5h0M73.3 389.6h0M71.7 393.7h0M162.9 368.1h0M44.5 390.0h0M190.7 300.6h0M163.3 390.9h0M77.9 320.8h0M75.4 299.2h0M165.9 356.1h0M151.1 310.3h0M73.5 388.3h0M110.4 372.6h0M123.1 383.0h0M81.1 379.1h0M93.7 370.8h0M159.7 373.4h0M131.1 394.5h0M147.8 385.8h0M237.7 374.6h0M68.3 388.5h0M128.6 345.6h0M90.4 370.3h0M123.3 346.5h0M83.2 322.4h0M61.3 385.6h0M81.6 367.9h0M66.2 281.3h0M71.9 346.5h0M111.8 390.4h0M141.2 308.3h0M72.6 356.8h0M256.5 368.6h0M71.6 358.5h0M73.1 348.1h0M125.3 350.7h0M111.8 381.8h0M153.9 387.9h0M116.4 294.9h0M79.2 360.7h0M80.4 250.1h0M108.9 342.6h0M78.0 376.4h0M96.4 366.6h0M172.1 393.1h0M80.7 348.4h0M85.0 251.7h0M74.6 298.4h0M38.2 363.3h0M123.3 395.4h0M77.0 367.1h0M78.6 342.7h0M67.3 341.3h0M110.2 381.9h0M130.3 309.5h0M151.2 345.7h0M118.1 368.4h0M161.7 389.1h0M228.5 369.2h0M150.6 388.7h0M155.3 373.4h0M147.2 359.1h0M111.9 348.0h0M77.4 316.7h0M132.2 355.2h0M69.2 385.9h0"/>
<path stroke="#87ceeb" stroke-width="2.56" stroke-linecap="round" d="M88.4 293.8h0M154.6 371.2h0M84.9 363.6h0M85.6 331.7h0M120.3 346.3h0M162.1 246.2h0M169.2 391.3h0M73.4 250.8h0M152.2 390.1h0M181.1 293.4h0M176.0 343.8h0M181.8 350.8h0M184.4 371.9h0M92.8 351.8h0M42.1 396.3h0M52.0 342.8h0M115.6 369.7h0M171.4 260.1h0M188.3 329.2h0M69.9 394.2h0M142.0 260.1h0M108.4 385.9h0M119.3 362.2h0M120.7 293.8h0M139.0 395.1h0M180.0 275.7h0M124.9 347.0h0M86.1 368.8h0M74.9 341.7h0M108.9 331.3h0M182.2 367.3h0M114.2 393.1h0M132.3 379.7h0M143.6 395.8h0M120.5 372.0h0M127.4 383.4h0M109.7 365.3h0M107.3 388.1h0M194.6 365.0h0"/>
<path stroke="#ffa500" stroke-width="2.56" stroke-linecap="round" d="M77.3 377.6h0M157.5 377.1h0M173.2 394.4h0M71.5 319.7h0M79.7 374.8h0M59.5 357.6h0M40.9 389.2h0M79.3 340.4h0M97.8 366.7h0M52.9 377.9h0M139.0 393.4h0M180.6 372.3h0M128.8 359.0h0M129.9 319.5h0M78.5 332.3h0M117.8 371.3h0M79.7 367.7h0M179.3 386.7h0M121.3 346.3h0M84.0 367.3h0M184.9 366.6h0M111.0 378.4h0M184.5 362.5h0M89.6 299.8h0M102.0 390.0h0M238.2 380.1h0M94.5 395.2h0M142.1 375.4h0M152.3 341.6h0M80.8 367.0h0M144.0 366.5h0M47.5 394.2h0M170.5 383.5h0M115.3 313.3h0M55.9 396.2h0M78.7 368.8h0M88.6 371.3h0M146.9 375.7h0M71.7 344.5h0M184.1 358.2h0M117.0 388.1h0M74.1 343.0h0M44.3 340.3h0M82.9 330.9h0M91.9 373.2h0M97.3 374.7h0M144.9 394.0h0M98.2 274.5h0M99.6 353.4h0M74.5 340.1h0M202.7 351.7h0M77.8 357.6h0M144.7 362.2h0M89.6 389.2h0M133.3 310.3h0M72.3 322.4h0M99.7 340.2h0M83.2 297.1h0M124.4 391.3h0M155.1 383.6h0M75.5 325.4h0M93.9 385.8h0M71.5 296.3h0M223.1 372.6h0M91.9 393.4h0M100.0 364.7h0M76.5 365.9h0M70.1 324.1h0M78.0 365.4h0M136.3 353.3h0M108.3 338.3h0M62.0 334.1h0M72.7 302.1h0M79.1 309.9h0M74.9 366.9h0M64.1 329.6h0M56.2 344.4h0M119.6 379.4h0M88.0 340.5h0M115.6 329.8h0M78.7 323.9h0M38.7 389.2h0M113.9 354.0h0M53.0 385.3h0M104.8 380.2h0M135.7 377.7h0M79.6 386.0h0M94.7 321.8h0M64.9 391.2h0M56.8 339.6h0M93.6 314.4h0M89.5 331.0h0M127.0 347.9h0M106.6 358.1h0M54.5 394.1h0M105.5 247.0h0M125.8 354.6h0M84.9 342.2h0M231.6 378.1h0M112.9 394.5h0M82.7 360.1h0M102.1 369.3h0M124.5 364.3h0M40.8 394.7h0M106.4 293.5h0M84.2 365.7h0M145.3 341.4h0M216.8 325.7h0M74.5 388.7h0M70.6 378.4h0M66.2 334.0h0"/>
<path stroke="#87ceeb" stroke-width="2.56" stroke-linecap="round" d="M167.9 316.4h0M156.1 380.3h0M94.1 324.5h0M82.7 320.4h0M156.5 358.8h0M77.5 370.4h0M256.6 377.9h0M113.0 300.3h0M105.1 365.8h0M217.6 371.4h0M73.1 382.9h0M102.8 335.2h0M195.7 360.1h0M100.5 284.7h0M127.6 368.5h0M117.5 352.5h0M78.0 317.4h0M70.2 372.9h0M177.2 386.5h0M144.6 378.5h0M117.6 350.1h0M125.2 343.8h0M105.1 330.2h0M106.6 381.7h0M117.2 334.1h0M87.9 331.0h0M116.0 366.3h0M111.2 368.9h0M127.3 390.1h0M181.5 393.2h0M114.9 374.7h0M75.4 378.2h0M92.1 361.3h0M70.5 351.3h0M88.5 372.8h0M117.7 391.2h0M72.4 237.9h0M175.1 383.2h0M86.6 320.1h0M103.6 373.3h0M96.0 318.5h0M208.7 309.9h0M68.0 382.6h0M123.9 358.0h0M86.0 383.8h0M97.8 327.1h0"/>
<path stroke="#ffa500" stroke-width="2.56" stroke-linecap="round" d="M132.4 340.2h0M173.7 306.0h0M70.2 335.2h0M89.2 291.7h0M71.8 378.5h0M181.8 371.9h0M82.0 360.8h0M80.7 336.4h0M118.5 394.2h0M176.4 395.2h0M67.1 335.0h0M136.7 302.7h0M78.5 393.4h0M166.8 358.6h0M111.8 391.8h0M117.7 355.5h0M173.4 378.5h0M137.3 346.5h0M111.5 338.2h0M56.0 387.5h0M112.7 379.5h0M141.3 370.9h0M74.5 388.8h0M174.4 379.7h0M140.4 359.5h0M140.3 376.1h0M92.5 341.3h0M162.1 277.3h0M183.8 369.7h0M154.3 336.5h0M84.5 365.3h0M136.1 355.7h0M61.2 344.8h0M88.9 359.3h0M48.3 387.4h0M90.9 368.0h0M41.5 390.3h0M72.7 246.2h0M92.0 281.7h0M71.3 363.9h0M100.8 355.9h0M74.3 349.4h0M76.6 346.9h0M150.9 391.5h0M109.2 332.9h0M115.0 329.3h0M137.2 394.9h0M190.0 306.0h0M171.8 294.5h0M161.8 366.6h0M150.5 381.8h0M88.9 375.1h0M79.7 381.6h0M247.1 326.6h0M106.9 290.4h0M50.2 358.9h0M127.9 354.3h0M89.2 352.9h0M119.7 371.5h0M75.8 323.6h0M187.0 369.4h0M240.8 388.3h0M104.4 335.5h0M89.7 312.6h0M72.5 361.5h0M83.5 328.2h0M90.7 350.8h0M42.9 331.1h0M177.8 374.6h0M124.1 373.1h0M103.0 370.3h0M87.9 376.0h0M197.1 373.8h0M83.4 273.9h0M81.3 297.6h0M77.0 369.0h0M74.1 295.9h0M187.3 359.8h0M71.0 368.3h0M137.5 321.0h0M138.0 377.6h0M192.3 382.2h0M117.7 301.4h0M78.4 357.4h0M59.7 393.7h0M80.1 269.3h0M208.8 384.5h0M76.8 360.6h0M234.4 393.9h0M123.7 390.8h0M123.2 382.8h0M179.9 384.7h0M117.9 359.3h0M73.0 246.2h0M77.9 357.0h0M146.1 381.3h0M79.2 290.8h0M67.4 360.9h0M119.3 389.2h0M73.4 328.1h0M70.1 311.3h0M78.7 247.8h0M98.2 246.2h0M73.2 324.8h0"/>
<path stroke="#87ceeb" stroke-width="2.56" stroke-linecap="round" d="M80.5 358.6h0M111.3 290.8h0M210.4 387.8h0M60.4 384.9h0M66.8 394.0h0M122.2 348.8h0M94.0 386.7h0M75.6 387.2h0M197.7 282.0h0M109.0 296.8h0M133.9 392.4h0M94.1 244.5h0M90.9 371.7h0M100.5 390.3h0M113.5 357.5h0M123.1 372.2h0M114.6 303.3h0M160.1 365.5h0M147.7 311.2h0M132.4 290.4h0M98.5 296.5h0M104.6 330.5h0M71.5 379.3h0M164.8 349.8h0M136.0 378.8h0M152.5 377.0h0M79.8 392.8h0M89.3 370.1h0M92.4 378.1h0M130.5 387.9h0M131.6 357.7h0M124.9 375.3h0M109.6 352.8h0M96.8 292.9h0M244.9 346.4h0M118.3 331.6h0M85.6 361.4h0M55.5 363.0h0M84.1 385.5h0M79.8 387.6h0M45.2 394.1h0M146.9 384.9h0M103.7 325.3h0M126.6 341.4h0M74.9 359.3h0M144.0 369.2h0M86.9 266.8h0M98.0 318.2h0"/>
<path stroke="#ffa500" stroke-width="2.56" stroke-linecap="round" d="M108.7 379.4h0M77.9 331.4h0M77.3 302.9h0M89.7 333.5h0M115.8 348.4h0M94.2 393.2h0M215.2 344.4h0M181.4 386.0h0M80.3 343.3h0M73.0 351.0h0M154.7 358.4h0M249.8 335.3h0M124.3 379.8h0M72.8 357.0h0M70.8 347.6h0M73.3 395.7h0M59.2 393.2h0M121.8 363.0h0M247.8 385.6h0M63.4 343.3h0M72.5 345.3h0M159.9 394.4h0M73.4 340.1h0M150.4 382.1h0M71.0 335.6h0M137.5 374.2h0M126.4 390.6h0M103.0 318.1h0M82.2 354.0h0M74.0 358.8h0M83.3 353.7h0M76.2 352.0h0M227.7 323.7h0M117.8 356.0h0M37.7 395.1h0M115.2 380.9h0M104.2 362.7h0M129.1 354.5h0M163.0 380.6h0M47.0 270.8h0M72.2 389.0h0M160.6 351.4h0M71.5 392.5h0M144.9 313.7h0M184.3 315.0h0M116.0 364.5h0M131.9 384.7h0M85.1 309.8h0M199.1 336.7h0M68.4 394.1h0M134.7 296.5h0M88.4 365.7h0M90.8 390.3h0M187.1 309.5h0M213.5 322.5h0M80.2 337.8h0M183.4 373.0h0M53.7 337.7h0M66.1 391.4h0M98.3 351.5h0M126.8 358.8h0M73.6 322.0h0M149.1 364.9h0M78.7 310.3h0M55.6 352.4h0M73.0 359.2h0M123.6 385.1h0M113.9 382.4h0M156.1 383.9h0M86.7 306.8h0M127.5 336.7h0M70.5 289.8h0M103.0 335.8h0M169.4 364.9h0M88.5 383.6h0M81.5 356.4h0M42.3 396.4h0M95.5 304.4h0M173.8 382.1h0M114.1 351.1h0M135.9 395.3h0M71.9 368.9h0M88.0 304.2h0M177.0 388.2h0M71.8 345.5h0M79.7 250.3h0M184.5 312.0h0M116.4 361.2h0M130.8 380.8h0M45.6 393.2h0M82.0 393.4h0M87.1 394.7h0M186.5 362.8h0M214.5 383.3h0M70.7 315.4h0M103.7 365.2h0M74.1 375.3h0M121.8 363.1h0M78.0 394.7h0M73.6 367.4h0M170.5 379.2h0M66.2 392.1h0"/>
<path stroke="#87ceeb" stroke-width="2.56" stroke-linecap="round" d="M123.1 317.9h0M97.7 373.0h0M185.1 298.1h0M87.4 317.0h0M241.6 323.3h0M79.5 352.5h0M153.4 375.0h0M136.7 303.0h0M109.7 383.6h0M112.6 370.8h0M96.2 335.5h0M142.3 304.8h0M84.3 389.7h0M144.9 391.6h0M110.0 379.3h0M120.4 355.3h0M161.3 375.4h0M77.5 388.6h0M103.7 326.4h0M76.7 316.6h0M97.6 395.3h0M83.2 322.5h0M76.6 316.3h0M127.6 299.9h0M94.7 324.7h0M106.4 379.4h0M78.1 376.3h0M153.2 356.8h0M39.0 307.0h0M78.7 297.7h0M76.1 362.2h0M71.6 373.5h0M87.3 387.0h0M78.3 328.6h0M76.7 385.7h0M129.8 376.3h0M164.6 378.3h0M160.0 370.3h0M79.7 327.8h0M93.3 363.0h0M148.1 323.4h0M149.5 382.5h0M257.9 321.4h0M74.3 291.0h0M85.3 353.1h0M101.6 315.4h0M70.2 387.9h0M72.2 374.2h0M102.3 312.2h0"/>
<path stroke="#ffa500" stroke-width="2.56" stroke-linecap="round" d="M102.7 351.4h0M77.2 390.9h0M93.5 373.0h0M71.3 319.0h0M134.8 388.8h0M71.5 331.2h0M67.4 374.4h0M136.3 332.7h0M63.9 393.1h0M110.3 322.4h0M134.7 385.2h0M101.1 375.7h0M153.6 388.5h0M132.8 379.8h0M191.0 341.0h0M91.0 376.7h0M60.1 383.8h0M101.9 383.6h0M74.3 369.0h0M138.8 373.7h0M77.6 330.3h0M104.1 324.6h0M227.3 380.6h0M81.7 355.0h0M96.2 310.6h0M179.4 380.1h0M187.9 359.0h0M79.1 346.2h0M103.3 343.3h0M127.6 340.7h0M142.7 357.9h0M111.7 297.3h0M39.1 354.2h0M70.4 374.6h0M99.5 386.1h0M82.7 265.2h0M63.8 382.0h0M243.1 395.2h0M120.3 291.3h0M171.1 389.7h0M84.1 354.0h0M79.0 340.6h0M136.3 386.4h0M152.8 293.5h0M76.0 344.0h0M117.7 366.8h0M133.7 374.6h0M63.8 391.8h0M96.2 310.5h0M90.8 301.4h0M106.0 319.2h0M179.4 386.3h0M122.8 394.1h0M81.7 352.3h0M77.8 359.3h0M39.5 389.7h0M96.8 292.4h0M81.0 306.7h0M164.3 383.7h0M123.1 388.0h0M87.2 306.2h0M60.7 385.9h0M188.0 385.7h0M77.3 330.9h0M75.7 369.5h0M72.7 367.2h0M159.7 389.7h0M163.3 271.8h0M156.6 392.1h0M232.8 364.9h0M71.8 350.4h0M207.0 291.3h0M117.2 340.6h0M116.9 376.9h0M164.6 389.5h0M100.2 346.1h0M71.0 329.3h0M73.1 332.7h0M72.3 362.5h0M69.0 391.5h0M77.6 317.6h0M112.7 372.2h0M102.3 390.9h0M161.2 382.4h0M40.7 337.0h0M74.5 306.3h0M122.7 346.5h0M72.5 387.5h0M90.7 303.3h0M97.7 386.0h0M163.7 395.2h0M76.2 317.2h0M127.8 373.2h0M94.6 360.1h0M101.0 336.4h0M76.0 395.7h0M38.6 390.1h0M126.4 364.1h0M88.6 324.4h0M120.9 388.9h0M141.6 336.8h0"/>
<path stroke="#87ceeb" stroke-width="2.56" stroke-linecap="round" d="M135.2 290.1h0M81.0 359.3h0M150.9 338.1h0M102.3 312.5h0M114.5 372.9h0M138.0 385.4h0M153.0 380.3h0M111.1 386.4h0M95.7 317.2h0M146.4 354.0h0M99.4 372.2h0M217.3 296.7h0M79.7 317.6h0M129.3 335.9h0M93.4 385.2h0M93.1 319.8h0M174.6 379.2h0M124.6 313.3h0M121.5 385.1h0M121.2 299.1h0M138.4 320.6h0M51.9 390.3h0M166.4 375.6h0M139.3 352.2h0M78.5 389.5h0M74.7 357.6h0M126.2 377.7h0M115.7 298.4h0M83.0 291.3h0M121.7 387.9h0M112.1 353.0h0M121.6 382.3h0M88.1 383.8h0M142.3 260.6h0M227.3 390.9h0M88.2 337.2h0M182.0 390.9h0M126.2 390.0h0M245.5 385.0h0M107.7 367.0h0M94.4 390.4h0M105.2 341.0h0M54.0 395.9h0M86.8 380.1h0M233.4 325.3h0M145.0 386.1h0M126.0 355.6h0M103.8 385.0h0M71.4 337.7h0M159.7 363.6h0M155.8 251.7h0M169.1 308.3h0M75.0 355.4h0M103.0 321.3h0M132.5 382.5h0M110.5 354.4h0M104.7 346.4h0M105.4 377.3h0M152.6 386.2h0M112.1 314.3h0M77.1 365.8h0"/>
<path stroke="#ffa500" stroke-width="2.56" stroke-linecap="round" d="M117.2 389.4h0M43.8 394.8h0M166.0 380.7h0M77.2 361.1h0M65.3 394.7h0M72.7 328.4h0M184.8 368.1h0M132.1 388.7h0M75.3 333.1h0M128.1 390.4h0M168.3 350.5h0M61.0 369.8h0M57.0 340.2h0M53.9 389.4h0M169.1 300.6h0M83.4 284.6h0M58.7 373.5h0M154.3 378.3h0M60.8 343.6h0M137.5 349.8h0M107.7 389.7h0M120.9 357.5h0M47.3 358.9h0M135.2 388.5h0M239.6 336.0h0M165.5 388.5h0M137.1 390.8h0M74.5 321.5h0M74.0 360.3h0M73.6 334.7h0M108.2 372.8h0M174.7 366.7h0M40.1 389.2h0M113.9 385.4h0M78.8 305.6h0M110.6 390.3h0M76.7 374.9h0M114.1 290.7h0M148.7 377.2h0M124.6 393.8h0M80.8 337.7h0M101.1 322.5h0M169.8 342.8h0M76.0 395.6h0M169.8 323.0h0M66.4 365.4h0M116.7 387.8h0M87.0 303.4h0M79.6 373.1h0M40.7 353.9h0M74.1 260.1h0M119.3 323.8h0M107.5 293.2h0M81.8 336.3h0M80.2 319.8h0M146.3 384.3h0M153.7 336.4h0M165.3 389.4h0M58.8 394.5h0M89.9 327.6h0M231.8 323.5h0M76.9 300.1h0M187.0 378.8h0M93.4 334.1h0M39.6 393.8h0M72.0 321.5h0M89.0 374.3h0M185.4 373.2h0M65.4 330.1h0M76.1 323.8h0M165.6 387.9h0M248.7 380.1h0M185.1 387.5h0M121.9 339.7h0M74.2 357.3h0M183.1 321.1h0M82.3 301.1h0M59.2 393.5h0M174.2 374.2h0M218.9 370.9h0M131.7 303.0h0M73.4 387.3h0M174.1 387.4h0M121.1 389.0h0M164.8 364.1h0M106.7 377.8h0M144.7 317.6h0M154.3 377.0h0M186.5 315.3h0"/>
<path stroke="#87ceeb" stroke-width="2.56" stroke-linecap="round" d="M179.1 370.4h0M152.6 356.6h0M93.4 350.2h0M146.7 377.5h0M65.7 391.1h0M101.6 369.0h0M88.8 382.2h0M72.2 360.0h0M74.6 336.8h0M177.7 386.8h0M90.3 394.1h0M71.3 358.2h0M138.8 313.5h0M218.8 367.5h0M93.8 349.7h0M85.0 368.7h0M158.0 355.8h0M177.1 302.7h0M71.6 354.3h0M80.3 381.7h0M132.0 384.2h0M77.1 346.4h0M73.3 355.0h0M144.2 291.6h0M107.7 369.4h0M120.3 353.1h0M118.3 300.6h0M39.9 393.6h0M37.1 385.9h0M71.4 340.6h0M163.6 389.8h0M193.6 380.0h0M126.1 392.4h0M96.8 328.2h0M188.9 312.2h0M148.4 371.8h0M98.9 393.4h0M75.9 360.5h0M79.8 295.2h0M85.5 395.4h0M114.6 338.1h0M126.1 383.4h0M72.0 370.6h0M64.2 384.1h0M88.8 389.2h0M115.9 366.7h0M82.7 353.8h0M118.7 373.1h0M203.4 360.8h0"/>
<path stroke="#ffa500" stroke-width="2.56" stroke-linecap="round" d="M70.5 370.9h0M74.4 353.7h0M175.4 344.1h0M119.3 363.6h0M78.6 355.4h0M70.4 333.0h0M154.3 392.1h0M74.1 375.7h0M75.9 319.2h0M41.7 393.5h0M81.2 338.5h0M84.7 382.7h0M65.9 394.2h0M146.3 387.1h0M121.6 304.0h0M94.9 307.6h0M110.3 321.6h0M58.0 389.3h0M86.6 343.4h0M111.4 379.9h0M210.1 329.0h0M100.4 295.3h0M126.7 369.3h0M88.9 378.0h0M144.3 344.6h0M75.9 356.3h0M77.5 361.8h0M72.8 311.4h0M43.0 391.8h0M203.6 339.9h0M74.0 372.8h0M41.4 390.3h0M75.1 297.5h0M177.7 288.0h0M181.6 393.2h0M74.9 351.0h0M232.4 371.8h0M78.0 376.3h0M95.3 306.3h0M79.7 280.7h0M40.1 348.1h0M43.6 395.4h0M154.3 377.2h0M156.1 342.8h0M156.5 385.2h0M77.6 377.7h0M74.6 321.6h0M158.6 323.0h0M152.3 393.9h0M63.2 383.3h0M74.1 316.7h0M147.1 391.6h0M129.2 390.6h0M57.6 385.1h0M119.8 383.4h0M163.0 372.2h0M180.4 376.4h0M106.1 348.0h0M140.3 356.6h0M180.9 378.4h0M230.6 384.9h0M57.3 383.1h0M92.5 308.3h0M75.4 394.6h0M241.1 370.4h0M73.9 260.0h0M75.1 335.4h0M128.1 308.5h0M46.8 391.2h0M71.7 380.1h0M57.5 355.3h0M72.0 327.0h0M108.7 380.3h0M73.8 305.1h0M81.4 356.6h0M75.6 367.5h0M121.2 395.7h0M102.0 307.4h0M73.1 299.8h0M56.6 389.1h0M97.1 389.8h0M155.1 313.6h0M61.2 393.7h0M78.6 339.6h0M75.0 378.6h0M181.6 348.7h0M78.6 270.4h0M53.1 383.3h0M76.6 304.3h0M75.9 395.7h0M72.0 377.6h0M111.5 391.3h0M107.3 331.7h0M106.5 293.1h0M116.7 297.7h0M154.7 394.5h0M64.9 390.9h0M50.5 396.0h0M104.0 327.7h0M101.1 376.8h0M102.1 296.7h0"/>
<path stroke="#87ceeb" stroke-width="2.56" stroke-linecap="round" d="M81.6 388.5h0M115.9 374.2h0M84.8 278.6h0M81.4 330.2h0M155.1 312.2h0M111.8 348.7h0M128.8 364.6h0M123.8 368.8h0M150.9 351.0h0M179.3 379.8h0M92.1 307.3h0M83.7 311.3h0M125.7 357.8h0M85.6 345.1h0M158.2 394.4h0M90.1 367.7h0M151.5 392.9h0M76.6 379.3h0M148.5 379.3h0M72.7 395.2h0M128.2 336.5h0M106.2 353.8h0M115.5 335.5h0M249.7 391.4h0M107.1 260.6h0M153.4 394.5h0M126.2 339.6h0M115.4 346.6h0M89.9 368.9h0M230.4 369.6h0M86.2 266.4h0M133.6 305.0h0M53.7 363.5h0M125.2 335.4h0M145.4 290.9h0M96.2 285.9h0M156.9 372.6h0M74.6 380.1h0M142.5 385.3h0M75.4 317.9h0M82.8 374.6h0M130.8 395.3h0M178.6 382.2h0M99.8 389.6h0M70.1 339.4h0M191.2 243.1h0M77.3 355.6h0M88.2 326.8h0M95.3 374.0h0M89.3 373.0h0M253.0 366.3h0M214.8 369.9h0"/>
<path stroke="#ffa500" stroke-width="2.56" stroke-linecap="round" d="M74.0 289.8h0M211.2 355.7h0M125.6 377.6h0M44.2 385.7h0M78.6 392.4h0M144.3 374.3h0M77.2 392.0h0M72.2 387.3h0M84.0 375.6h0M44.4 376.5h0M75.2 339.3h0M70.9 308.3h0M120.8 359.4h0M121.9 383.7h0M73.3 325.7h0M105.4 393.2h0M137.5 379.3h0M118.3 379.5h0M94.1 284.8h0M78.8 343.3h0M56.9 396.2h0M109.5 321.0h0M104.1 325.7h0M93.9 323.8h0M99.1 337.1h0M137.2 351.6h0M85.3 366.6h0M86.9 319.3h0M186.2 386.1h0M173.5 366.8h0M120.9 359.7h0M179.5 377.2h0M80.6 343.1h0M123.7 394.3h0M139.6 371.2h0M66.2 393.0h0M70.5 307.9h0M146.1 372.5h0M74.7 350.8h0M159.0 393.1h0M132.7 390.3h0M178.5 314.5h0M140.0 295.5h0M123.7 330.4h0M37.1 389.0h0M80.9 317.3h0M91.3 357.3h0M74.2 298.4h0M51.8 393.3h0M172.4 379.3h0M226.0 356.6h0M44.7 396.2h0M86.8 390.8h0M191.9 324.8h0M103.2 312.8h0M114.1 379.1h0M137.3 379.9h0M71.0 347.8h0M53.5 338.3h0M50.7 391.1h0M203.6 375.5h0M111.2 297.8h0M104.8 361.1h0M81.6 306.8h0M89.8 388.8h0M53.2 384.5h0M73.1 371.2h0M75.4 358.8h0M73.3 374.6h0M63.6 387.4h0M55.4 390.8h0M187.8 355.7h0M73.8 387.6h0M128.2 345.0h0M183.9 394.9h0M46.2 391.2h0M56.4 395.3h0M40.7 395.4h0M76.8 390.3h0M75.3 378.6h0M104.3 308.4h0M111.0 379.6h0M76.4 338.5h0M80.2 323.3h0M75.1 353.5h0M131.5 371.3h0M78.1 374.5h0M76.3 377.2h0M154.8 351.7h0M110.4 337.0h0M75.9 372.6h0M53.0 392.0h0M134.3 298.3h0M123.4 351.8h0M245.9 289.0h0M132.8 348.2h0M166.7 393.5h0M134.3 325.0h0"/>
<path stroke="#87ceeb" stroke-width="2.56" stroke-linecap="round" d="M141.8 393.7h0M114.1 375.1h0"/>
<path stroke="#ffa500" stroke-width="2.56" stroke-linecap="round" d="M230.5 337.2h0M129.9 391.3h0M255.8 359.7h0M73.8 388.6h0M93.5 381.1h0M87.2 334.5h0M204.8 386.8h0"/>
<path d="M38.5 379.5 C41.4 380.9 50.7 388.2 55.9 388.0 C61.1 387.8 66.0 384.2 69.9 378.5 C73.8 372.8 76.1 360.2 79.2 354.0 C82.3 347.8 86.2 343.0 88.5 341.0 C90.8 339.0 90.9 340.9 93.2 342.0 C95.5 343.1 99.4 345.1 102.5 347.5 C105.6 349.9 107.9 354.2 111.8 356.5 C115.7 358.8 121.0 360.6 125.7 361.5 C130.4 362.4 131.8 362.9 140.0 362.0 C148.2 361.1 165.2 356.9 174.9 356.2 C184.6 355.5 190.4 357.8 198.2 358.0 C206.0 358.2 214.5 356.9 221.5 357.4 C228.5 357.9 235.4 359.1 240.1 360.9 C244.8 362.7 247.8 366.8 249.4 368.0 L249.4 390.0 C247.8 388.2 244.8 382.6 240.1 379.5 C235.4 376.4 228.5 373.1 221.5 371.3 C214.5 369.6 206.0 369.2 198.2 369.0 C190.4 368.8 184.6 369.8 174.9 370.2 C165.2 370.6 148.2 371.8 140.0 371.3 C131.8 370.8 130.4 368.5 125.7 367.0 C121.0 365.5 115.7 364.7 111.8 362.5 C107.9 360.3 105.6 356.2 102.5 354.0 C99.4 351.8 95.5 350.1 93.2 349.0 C90.9 347.9 90.8 345.5 88.5 347.5 C86.2 349.5 82.3 354.7 79.2 361.0 C76.1 367.3 73.8 379.8 69.9 385.5 C66.0 391.2 61.1 394.2 55.9 395.0 C50.7 395.8 41.4 390.8 38.5 390.0Z" fill="#3366ff" fill-opacity="0.28"/>
<path d="M38.5 370.0 C40.6 371.5 48.4 377.2 51.3 379.0 C54.2 380.8 53.6 382.2 55.9 381.0 C58.2 379.8 62.1 377.8 65.2 371.5 C68.3 365.2 71.4 350.6 74.5 343.0 C77.6 335.4 81.6 329.4 83.9 326.0 C86.2 322.6 86.2 321.9 88.5 322.5 C90.8 323.1 94.7 324.9 97.8 329.5 C100.9 334.1 104.0 345.1 107.1 349.8 C110.2 354.6 112.1 356.1 116.4 358.0 C120.7 359.9 128.8 360.7 132.7 361.2 C136.6 361.7 134.9 360.8 140.0 360.9 C145.1 361.0 155.6 362.3 163.3 362.0 C171.1 361.7 178.8 359.8 186.5 359.0 C194.2 358.2 202.0 358.2 209.8 357.4 C217.6 356.5 227.3 355.3 233.1 353.9 C238.9 352.5 241.0 350.8 244.7 349.2 C248.4 347.6 253.4 345.4 255.2 344.6 L255.2 374.8 C251.5 374.2 240.7 372.3 233.1 371.3 C225.5 370.3 217.6 369.6 209.8 369.0 C202.0 368.4 194.2 367.9 186.5 367.8 C178.8 367.7 171.1 368.1 163.3 368.3 C155.6 368.5 145.1 369.5 140.0 369.0 C134.9 368.5 136.6 366.8 132.7 365.5 C128.8 364.2 120.7 363.5 116.4 361.5 C112.1 359.5 110.2 358.3 107.1 353.6 C104.0 348.9 100.9 338.0 97.8 333.5 C94.7 329.0 90.8 327.1 88.5 326.5 C86.2 325.9 86.2 326.5 83.9 330.0 C81.6 333.5 77.6 339.5 74.5 347.5 C71.4 355.5 68.3 371.1 65.2 378.0 C62.1 384.9 58.2 387.3 55.9 389.0 C53.6 390.7 54.2 389.2 51.3 388.0 C48.4 386.8 40.6 383.0 38.5 382.0Z" fill="#ff4466" fill-opacity="0.28"/>
<path d="M38.5 374.8 C40.6 376.4 48.4 382.4 51.3 384.1 C54.2 385.9 53.6 386.9 55.9 385.3 C58.2 383.8 62.1 381.5 65.2 374.8 C68.3 368.1 71.4 352.8 74.5 345.0 C77.6 337.2 81.6 331.4 83.9 328.0 C86.2 324.6 86.2 323.9 88.5 324.5 C90.8 325.1 94.7 327.0 97.8 331.5 C100.9 336.0 104.0 346.8 107.1 351.5 C110.2 356.2 112.1 357.8 116.4 359.7 C120.7 361.6 128.8 362.3 132.7 363.2 C136.6 364.1 134.9 364.3 140.0 365.0 C145.1 365.7 155.6 367.4 163.3 367.4 C171.1 367.4 178.8 365.1 186.5 365.0 C194.2 364.9 202.0 367.0 209.8 366.7 C217.6 366.4 225.5 364.4 233.1 363.2 C240.7 362.0 251.5 360.3 255.2 359.7" fill="none" stroke="#ff9c1a" stroke-width="1.3" stroke-opacity="0.9" stroke-linejoin="round" stroke-linecap="round"/>
<path d="M38.5 385.3 C41.4 386.5 50.7 392.9 55.9 392.3 C61.1 391.7 66.0 387.6 69.9 381.8 C73.8 376.0 76.1 364.0 79.2 357.7 C82.3 351.4 86.2 346.2 88.5 344.2 C90.8 342.1 90.9 344.3 93.2 345.4 C95.5 346.5 99.4 348.3 102.5 350.7 C105.6 353.1 107.9 357.4 111.8 359.7 C115.7 362.0 121.0 363.2 125.7 364.3 C130.4 365.4 131.8 366.2 140.0 366.0 C148.2 365.8 163.3 363.5 174.9 363.2 C186.5 362.9 200.1 363.6 209.8 364.4 C219.5 365.2 225.5 364.7 233.1 367.8 C240.7 370.9 251.5 380.5 255.2 383.0" fill="none" stroke="#7ab8f0" stroke-width="1.3" stroke-opacity="0.9" stroke-linejoin="round" stroke-linecap="round"/>
<path stroke="#0000ff" stroke-width="2.56" stroke-linecap="round" d="M325.0 303.4h0M321.7 289.5h0M319.3 301.9h0M323.9 299.4h0M326.3 270.6h0M324.6 257.3h0M322.9 244.6h0M326.1 262.8h0M323.1 265.5h0M323.6 269.7h0M324.6 264.7h0M324.1 311.6h0M318.8 295.4h0M321.7 282.8h0M318.9 257.0h0M321.8 246.7h0M323.4 261.4h0M320.7 294.9h0M325.6 287.6h0M323.2 251.9h0M326.5 246.0h0M323.3 249.0h0M326.2 261.5h0M318.6 289.8h0M320.5 289.0h0M322.4 303.7h0M321.9 246.6h0M325.3 308.2h0M320.0 305.1h0M324.2 296.6h0M325.6 276.5h0M319.5 304.7h0M320.5 300.2h0M321.4 288.6h0M324.0 263.1h0M325.1 274.0h0M319.0 275.9h0M323.7 250.5h0M323.2 259.4h0M324.8 313.5h0M320.0 258.8h0M318.4 277.1h0M321.2 300.2h0M326.5 293.8h0M322.7 283.4h0M323.7 272.9h0M325.8 239.5h0M319.7 257.3h0M325.0 295.6h0M319.4 277.0h0M318.3 248.7h0M324.3 287.5h0M325.6 292.7h0M320.6 287.7h0M318.2 287.7h0M324.6 304.1h0M320.1 293.1h0M325.4 238.4h0M324.9 263.5h0M323.8 310.3h0M320.4 256.1h0M323.2 247.6h0M322.1 297.5h0M321.2 264.8h0M320.0 296.5h0M323.3 242.2h0M326.0 245.2h0M322.1 286.4h0M326.5 246.4h0M319.1 298.3h0M320.7 255.7h0M326.0 242.6h0M319.1 271.7h0M317.9 306.2h0M326.0 300.3h0M318.5 288.1h0M323.9 269.5h0M322.9 239.0h0M321.7 264.9h0M322.5 259.9h0M325.3 310.8h0M319.9 304.9h0M322.5 295.6h0M320.5 279.6h0M325.7 240.0h0M324.5 295.8h0M318.2 305.7h0M320.4 246.9h0M320.1 284.2h0M323.4 253.0h0M325.2 262.0h0M324.1 290.2h0M323.7 274.7h0M323.6 281.8h0M322.4 242.7h0M324.6 325.2h0M323.9 328.2h0M328.0 322.4h0M327.0 318.5h0M326.9 321.9h0M324.7 321.9h0M328.6 326.6h0M323.9 326.5h0M324.4 332.6h0M325.1 326.1h0M328.8 254.2h0M333.9 322.4h0M333.0 334.6h0M329.2 306.4h0M332.2 312.0h0M327.6 332.9h0M336.5 327.8h0M331.9 244.2h0M334.4 242.9h0M328.0 333.6h0M335.6 342.4h0M329.5 260.8h0M332.6 285.6h0M327.3 246.1h0M327.2 278.7h0M327.1 262.3h0M333.5 294.9h0M336.2 296.6h0M335.6 251.7h0M328.3 242.1h0M326.8 346.6h0M335.4 282.1h0M330.1 289.5h0M333.5 266.5h0M327.7 247.9h0M333.9 264.6h0M327.6 324.2h0M328.8 260.1h0M328.1 342.6h0M331.8 290.2h0M327.8 342.6h0M327.0 326.8h0M329.2 287.2h0M336.4 263.2h0M328.9 279.6h0M335.8 345.5h0M336.4 251.8h0M334.1 282.5h0M329.3 239.1h0M329.8 252.4h0M327.9 294.3h0M334.9 309.2h0M327.2 263.5h0M333.7 281.0h0M334.0 342.0h0M334.5 308.7h0M335.4 288.1h0M336.6 338.5h0M334.2 339.9h0M327.8 290.4h0M332.1 266.1h0M329.2 325.7h0M335.1 310.4h0M335.7 334.6h0M335.6 314.5h0M326.8 251.4h0M328.4 289.9h0M333.3 345.6h0M329.0 317.8h0M328.3 300.0h0M334.5 298.0h0M333.5 264.2h0M333.5 344.2h0M326.9 285.2h0M331.0 258.2h0M335.6 347.9h0M335.1 296.4h0M327.5 276.5h0M336.2 297.5h0M332.0 327.3h0M336.6 328.6h0M335.2 283.3h0M332.3 331.3h0M327.8 338.3h0M331.3 265.2h0M333.0 308.1h0M334.4 299.5h0M327.3 338.4h0M330.3 254.9h0M331.4 334.9h0M330.0 245.5h0M335.4 333.8h0M326.8 315.2h0M327.1 325.4h0M334.8 266.2h0M328.7 265.1h0M331.2 281.2h0M327.9 244.7h0M334.0 257.5h0M333.6 297.5h0M326.9 250.8h0M327.0 239.6h0M334.6 246.8h0M327.1 311.3h0M329.3 284.2h0M330.1 248.5h0M331.8 276.5h0M327.4 259.3h0M335.8 240.5h0M336.2 301.3h0M334.0 264.2h0M333.3 312.6h0M333.2 304.5h0M333.9 320.3h0M335.4 240.3h0M334.9 330.7h0M333.0 339.1h0M327.9 266.5h0M335.8 301.9h0M328.6 293.7h0M331.9 298.4h0M329.8 246.7h0M328.1 290.2h0M336.3 267.6h0M327.2 347.5h0M332.0 241.0h0M330.5 303.5h0M331.1 243.8h0M333.1 268.1h0M329.1 256.0h0M336.2 268.2h0M327.9 310.8h0M329.7 317.7h0M326.8 239.9h0M330.6 298.3h0M329.9 349.1h0M334.9 358.8h0M334.4 350.3h0M335.8 362.0h0M336.1 360.1h0M332.6 356.9h0M334.5 355.4h0M329.3 351.9h0M347.7 375.8h0M339.8 269.5h0M339.1 347.6h0M345.9 322.4h0M347.5 244.2h0M345.4 369.5h0M343.6 336.3h0M337.3 257.1h0M344.0 339.3h0M340.2 300.4h0M344.6 363.5h0M348.3 282.3h0M346.8 278.1h0M341.5 310.6h0M350.3 246.9h0M348.6 374.4h0M338.4 298.2h0M338.0 360.3h0M340.8 368.1h0M342.4 292.3h0M349.3 273.7h0M341.3 347.7h0M349.3 287.7h0M338.1 310.7h0M348.9 301.4h0M342.8 352.5h0M349.8 291.2h0M350.1 315.4h0M346.0 262.6h0M348.2 241.4h0M350.0 321.7h0M337.4 371.8h0M348.4 264.0h0M341.6 289.5h0M339.9 348.1h0M342.5 321.4h0M351.0 355.0h0M350.6 359.2h0M349.1 290.2h0M339.2 359.2h0M341.1 325.9h0M337.6 375.3h0M348.0 308.8h0M346.3 330.4h0M349.2 292.0h0M345.9 336.3h0M340.2 320.0h0M344.6 279.7h0M344.5 355.2h0M345.2 325.2h0M348.8 261.2h0M350.2 256.1h0M348.1 325.7h0M348.4 350.8h0M343.5 239.8h0M342.5 371.5h0M345.8 365.5h0M339.6 336.2h0M342.0 323.7h0M350.8 297.1h0M349.7 270.3h0M349.4 323.0h0M337.4 260.0h0M338.2 326.0h0M350.5 274.2h0M342.8 325.7h0M344.2 352.7h0M338.0 313.9h0M345.7 335.1h0M346.6 323.7h0M345.7 320.4h0M341.2 278.0h0M341.3 266.7h0M347.5 270.6h0M348.0 302.8h0M342.4 347.2h0M336.8 298.5h0M342.9 369.3h0M347.8 294.7h0M345.4 295.0h0M339.5 352.1h0M347.3 266.6h0M336.7 307.3h0M338.2 366.7h0M338.8 265.2h0M350.5 325.7h0M344.1 312.9h0M337.5 325.6h0M342.6 304.9h0M339.8 302.3h0M346.5 278.4h0M351.1 357.2h0M351.1 320.9h0M342.1 296.9h0M339.0 261.2h0M341.4 269.1h0M345.0 302.7h0M338.0 368.0h0M346.1 260.6h0M342.5 369.2h0M347.1 348.3h0M338.2 305.3h0M339.1 324.1h0M350.8 358.4h0M345.4 335.9h0M348.4 354.8h0M342.7 281.1h0M337.1 300.0h0M342.8 359.0h0M350.9 261.5h0M349.0 311.2h0M338.4 366.7h0M342.8 349.6h0M336.8 351.1h0M338.0 354.7h0M337.2 311.2h0M351.0 375.2h0M347.2 347.1h0M340.9 297.8h0M349.8 364.4h0M343.3 365.4h0M350.2 341.2h0M348.8 281.3h0M343.4 345.5h0M337.0 250.9h0M339.5 370.0h0M347.2 318.6h0M348.3 319.9h0M343.1 340.3h0M341.9 259.6h0M338.3 287.3h0M350.4 313.0h0M347.9 294.8h0M341.7 273.6h0M342.0 281.1h0M340.2 270.7h0M339.5 261.5h0M340.7 302.0h0M339.3 336.7h0M336.8 303.9h0M348.9 275.5h0M345.3 360.4h0M347.0 310.7h0M340.5 309.5h0M345.3 311.1h0M338.7 366.0h0M337.0 301.5h0M341.2 373.4h0M346.7 310.8h0M344.9 282.7h0M350.2 265.2h0M346.1 358.0h0M348.7 312.4h0M340.9 356.1h0M349.1 328.4h0M349.2 349.0h0M346.7 305.7h0M340.1 337.7h0M338.6 324.8h0M342.5 293.8h0M343.1 277.7h0M342.5 367.4h0M343.1 269.4h0M339.3 371.3h0M348.1 297.3h0M341.4 339.5h0M351.1 298.8h0M341.1 365.9h0M340.3 245.4h0M341.5 340.1h0M356.3 287.9h0M355.8 315.5h0M352.4 298.5h0M353.6 348.5h0M352.9 255.0h0M361.1 353.0h0M352.7 282.0h0M358.9 360.0h0M354.2 350.5h0M354.8 278.3h0M360.1 295.5h0M361.1 378.6h0M353.5 277.8h0M353.8 244.6h0M353.4 275.5h0M359.9 320.8h0M358.2 278.3h0M353.3 373.3h0M359.2 259.2h0M357.8 353.8h0M353.9 357.0h0M354.0 327.9h0M356.1 260.2h0M357.9 280.5h0M356.6 256.2h0M352.8 291.7h0M359.6 276.7h0M353.0 240.8h0M356.0 309.2h0M355.5 273.8h0M360.6 253.2h0M352.9 335.0h0M352.7 258.3h0M355.3 351.3h0M352.7 251.0h0M355.7 269.5h0M353.9 242.2h0M359.5 330.9h0M356.0 365.5h0M356.6 321.2h0M358.6 284.6h0M360.9 348.2h0M352.7 320.9h0M353.0 354.4h0M356.0 292.1h0M358.6 365.1h0M358.5 362.8h0M353.1 382.1h0M353.3 358.0h0M359.6 312.5h0M358.8 351.6h0M361.1 367.4h0M354.4 342.8h0M353.2 261.6h0M357.6 293.5h0M360.3 290.1h0M356.1 325.1h0M360.2 269.6h0M359.7 321.9h0M360.4 325.1h0M354.3 358.3h0M356.3 271.2h0M357.9 272.4h0M358.8 262.5h0M354.6 366.3h0M353.6 321.0h0M356.4 379.8h0M360.2 326.3h0M358.0 368.4h0M354.0 290.5h0M353.8 329.8h0M359.0 341.2h0M353.2 316.5h0M355.9 267.9h0M357.4 351.0h0M352.4 308.3h0M355.2 282.4h0M358.2 362.9h0M357.1 365.9h0M359.5 264.4h0M360.6 347.2h0M359.3 257.4h0M354.4 255.2h0M353.8 337.2h0M358.6 316.1h0M357.9 318.2h0M357.3 258.6h0M360.0 363.1h0M358.5 380.0h0M352.9 314.7h0M356.4 249.2h0M353.6 243.7h0M359.1 368.1h0M353.9 325.4h0M354.2 322.6h0M353.8 339.8h0M359.8 268.4h0M353.5 361.8h0M357.0 324.6h0M352.4 330.6h0M358.4 248.1h0M360.2 336.5h0M357.2 275.9h0M357.2 380.2h0M355.4 334.1h0M354.6 376.6h0M353.5 281.8h0M352.8 356.6h0M356.5 248.3h0M357.6 331.5h0M359.1 362.6h0M355.0 384.5h0M357.1 379.5h0M357.4 300.6h0M359.3 353.3h0M353.6 351.8h0M359.4 337.1h0M355.7 242.4h0M353.7 372.6h0M359.9 357.2h0M354.0 312.5h0M357.5 311.7h0M356.4 272.4h0M355.0 371.2h0M357.9 275.4h0M355.2 349.7h0M360.5 281.3h0M354.3 278.3h0M358.4 247.4h0M361.1 314.4h0M354.6 275.0h0M353.8 377.0h0M353.8 319.4h0M358.9 365.9h0M358.9 327.3h0M353.4 256.6h0M354.9 294.6h0M358.7 266.8h0M358.8 317.9h0M353.9 368.5h0M356.3 315.8h0M353.8 339.2h0M352.8 355.0h0M358.1 340.9h0M352.7 309.1h0M358.5 287.9h0M356.7 301.6h0M352.5 289.1h0M353.7 323.8h0M353.7 306.6h0M357.1 356.4h0M360.0 244.6h0M361.1 242.7h0M358.0 368.1h0M355.6 321.5h0M352.6 270.7h0M358.0 339.3h0M357.3 266.6h0M355.1 249.2h0M361.0 264.5h0M357.6 353.3h0M358.3 245.5h0M358.9 248.8h0M357.5 322.0h0M355.1 373.8h0M359.4 270.7h0M355.8 251.1h0M354.2 281.2h0M356.6 254.0h0M353.8 299.9h0M352.5 332.6h0M355.0 249.5h0M353.5 337.1h0M353.0 333.5h0M354.5 244.8h0M361.1 339.2h0M353.7 333.2h0M356.7 350.1h0M359.1 279.8h0M359.6 346.1h0M358.6 377.3h0M360.7 265.4h0M358.3 241.8h0M355.6 365.6h0M358.3 309.5h0M356.8 358.2h0M357.9 339.1h0M354.2 308.7h0M357.8 361.0h0M354.5 269.9h0M355.4 335.0h0M356.2 359.7h0M355.2 381.1h0M358.2 319.3h0M355.7 274.9h0M355.2 292.8h0M360.8 349.9h0M354.9 300.4h0M355.5 361.1h0M356.6 256.1h0M356.7 303.8h0M360.9 281.0h0M356.7 274.1h0M355.4 357.3h0M356.9 311.3h0M356.1 315.4h0M359.8 270.7h0M356.2 281.3h0M360.2 338.1h0M355.9 305.1h0M360.9 256.0h0M359.5 351.3h0M355.6 306.5h0M357.5 341.1h0M356.1 299.0h0M354.1 289.7h0M354.9 338.7h0M359.5 295.0h0M360.2 343.1h0M355.3 311.7h0M354.5 362.9h0M354.7 316.8h0M358.1 298.5h0M355.0 361.3h0M356.2 290.5h0M352.5 310.0h0M354.1 346.1h0M355.4 345.7h0M359.5 239.6h0M355.5 251.5h0M355.8 277.9h0M359.8 241.3h0M356.2 241.2h0M360.8 279.9h0M359.6 289.9h0M355.5 246.2h0M355.0 357.7h0M360.5 257.5h0M357.2 374.2h0M359.7 374.6h0M359.2 360.6h0M360.1 383.0h0M357.8 333.7h0M355.8 348.4h0M354.2 333.7h0M358.5 255.6h0M358.7 342.8h0M359.5 311.0h0M357.4 290.1h0M355.5 252.9h0M371.5 334.4h0M369.7 266.0h0M374.4 325.9h0M374.2 355.1h0M370.1 298.0h0M376.1 270.8h0M373.6 314.6h0M372.5 359.5h0M362.9 276.4h0M366.9 336.3h0M370.1 306.4h0M373.1 282.3h0M371.7 361.9h0M368.1 290.8h0M366.0 369.3h0M375.2 350.2h0M375.7 320.9h0M375.8 289.1h0M367.3 321.5h0M364.0 361.7h0M374.6 325.5h0M374.7 366.8h0M378.5 337.6h0M378.2 328.6h0M378.8 329.4h0M368.7 369.0h0M363.2 302.7h0M368.0 326.1h0M366.3 312.0h0M374.8 319.8h0M373.2 383.2h0M375.7 386.3h0M374.2 324.5h0M369.2 322.3h0M367.7 362.8h0M365.1 353.3h0M365.4 309.7h0M377.1 318.6h0M375.4 356.2h0M378.4 359.3h0M374.0 357.7h0M365.1 303.0h0M377.7 352.3h0M370.1 351.6h0M378.6 385.0h0M365.4 353.2h0M367.1 310.1h0M373.0 310.0h0M369.7 343.1h0M364.2 355.1h0M373.8 351.3h0M377.4 334.7h0M377.5 324.0h0M366.2 333.3h0M378.5 330.6h0M377.4 364.0h0M364.5 349.8h0M369.2 328.3h0M369.3 264.6h0M363.4 351.7h0M369.9 310.2h0M370.7 358.0h0M377.8 345.1h0M365.0 363.0h0M372.6 380.0h0M369.0 333.9h0M375.1 381.9h0M365.1 265.1h0M363.5 374.8h0M367.8 386.7h0M372.3 345.7h0M372.9 384.0h0M365.1 358.2h0M363.2 378.9h0M370.4 260.2h0M371.7 384.1h0M374.1 373.3h0M372.3 264.1h0M363.8 387.1h0M366.2 387.0h0M364.5 320.5h0M369.3 299.5h0M371.4 341.0h0M375.5 344.6h0M372.3 277.6h0M378.7 368.5h0M363.7 302.9h0M371.9 272.1h0M376.7 310.8h0M374.4 352.0h0M362.7 302.8h0M368.2 388.0h0M377.1 350.3h0M369.3 344.5h0M374.8 285.4h0M375.3 343.6h0M363.0 340.2h0M373.7 361.6h0M368.1 316.6h0M362.3 288.5h0M373.7 332.0h0M374.8 301.0h0M378.0 357.4h0M363.7 300.5h0M377.5 341.2h0M366.6 331.3h0M372.2 362.2h0M369.5 386.9h0M365.2 373.4h0M362.3 369.8h0M376.6 379.7h0M368.3 340.6h0M377.7 315.3h0M378.7 334.1h0M378.9 359.2h0M371.0 381.2h0M369.6 305.6h0M375.7 385.9h0M365.3 384.7h0M367.2 272.6h0M372.5 322.3h0M362.9 308.9h0M363.2 382.6h0M377.5 376.9h0M374.0 362.6h0M366.9 280.5h0M372.5 314.0h0M372.0 284.3h0M375.4 356.8h0M370.1 284.9h0M376.1 378.9h0M372.2 264.3h0M363.0 289.5h0M368.1 364.0h0M375.4 328.5h0M375.6 343.8h0M371.4 277.5h0M377.5 369.9h0M376.6 370.0h0M375.1 282.9h0M369.3 355.9h0M377.8 327.9h0M371.9 289.9h0M372.3 346.5h0M365.8 283.9h0M377.5 286.7h0M373.6 326.7h0M364.4 350.6h0M372.9 383.5h0M367.8 325.8h0M368.3 284.5h0M366.1 310.9h0M366.8 262.3h0M376.1 286.5h0M368.3 283.8h0M362.5 303.1h0M378.3 292.2h0M361.6 291.4h0M369.4 315.8h0M370.9 316.8h0M370.2 264.1h0M377.8 270.2h0M362.0 297.5h0M362.3 307.0h0M364.1 316.9h0M361.5 308.7h0M363.8 274.0h0M363.2 274.6h0M364.4 255.6h0M373.6 249.0h0M375.2 292.4h0M365.4 246.2h0M361.2 268.4h0M373.0 295.9h0M365.4 278.1h0M383.3 278.2h0M395.0 302.9h0M391.3 290.2h0M386.4 305.5h0M386.5 279.1h0M383.5 319.6h0M385.8 285.4h0M388.8 300.3h0M390.1 281.0h0M391.9 313.9h0M387.9 288.9h0M386.3 302.5h0M386.9 293.5h0M385.2 311.3h0M384.3 300.8h0M386.7 376.8h0M387.5 319.2h0M397.7 359.5h0M391.2 362.5h0M389.3 331.4h0M387.7 342.6h0M393.5 279.0h0M381.9 356.6h0M384.8 350.2h0M380.7 346.9h0M382.6 320.1h0M390.0 299.9h0M392.6 291.5h0M386.4 357.2h0M397.5 378.6h0M386.6 354.1h0M397.5 329.7h0M390.0 374.8h0M391.6 354.5h0M392.2 372.7h0M397.3 377.1h0M391.5 362.7h0M396.0 348.2h0M397.9 375.4h0M382.3 333.2h0M388.6 290.6h0M391.4 377.0h0M393.9 305.6h0M396.1 364.4h0M379.3 308.8h0M397.7 272.4h0M387.1 327.8h0M392.5 366.8h0M397.9 388.4h0M397.4 330.7h0M401.1 334.4h0M379.6 341.5h0M395.1 302.9h0M392.0 291.3h0M391.2 338.4h0M400.2 365.1h0M398.7 350.7h0M379.4 330.9h0M395.4 380.9h0M393.2 359.3h0M393.3 389.8h0M398.8 316.9h0M391.6 363.7h0M395.1 311.8h0M394.3 386.5h0M397.6 386.5h0M393.3 386.8h0M393.1 382.0h0M381.4 294.8h0M400.4 379.6h0M400.6 302.8h0M394.7 320.1h0M385.5 330.3h0M380.8 318.3h0M394.9 365.5h0M389.6 341.1h0M384.0 304.6h0M396.9 347.5h0M398.7 288.7h0M399.9 292.3h0M398.8 360.9h0M384.4 326.5h0M388.5 339.0h0M400.2 368.1h0M397.3 340.3h0M392.0 355.1h0M389.8 322.6h0M381.4 314.7h0M387.9 351.2h0M379.5 344.1h0M379.6 363.9h0M380.8 390.1h0M399.2 358.2h0M391.4 350.4h0M396.1 318.9h0M385.5 379.0h0M389.8 368.7h0M382.9 369.1h0M396.0 284.8h0M385.1 333.0h0M397.9 344.6h0M390.5 319.6h0M389.3 351.4h0M400.7 346.5h0M394.7 363.7h0M393.4 374.4h0M396.9 351.4h0M381.4 345.0h0M379.0 354.8h0M384.0 368.3h0M396.0 353.5h0M391.6 280.3h0M384.0 333.9h0M394.4 279.5h0M382.9 387.3h0M386.9 355.9h0M384.5 295.2h0M390.0 390.6h0M399.4 308.0h0M387.1 377.5h0M390.6 278.2h0M379.2 342.7h0M390.7 376.7h0M386.2 387.3h0M390.9 376.8h0M393.6 383.1h0M391.8 329.1h0M391.6 315.3h0M398.6 330.1h0M379.8 357.2h0M382.4 326.0h0M379.0 306.7h0M392.1 310.2h0M396.8 325.8h0M400.1 322.0h0M382.6 352.1h0M381.6 344.3h0M396.6 312.1h0M398.9 369.6h0M381.2 362.7h0M384.9 322.2h0M399.9 382.9h0M401.1 338.6h0M395.4 378.4h0M393.5 354.8h0M403.4 340.9h0M409.7 334.4h0M402.8 336.7h0M422.5 373.3h0M411.7 335.7h0M404.7 376.2h0M410.1 379.0h0M419.0 363.3h0M419.8 385.5h0M419.6 369.6h0M422.9 357.6h0M407.9 317.2h0M404.9 299.3h0M405.6 296.4h0M421.4 385.2h0M412.5 325.9h0M411.6 355.8h0M406.8 317.1h0M410.2 341.2h0M409.7 366.8h0M416.3 353.4h0M417.3 371.5h0M410.4 289.3h0M421.8 385.8h0M415.3 344.5h0M421.3 356.9h0M410.3 374.1h0M417.6 289.8h0M403.1 331.2h0M413.9 356.3h0M410.5 329.4h0M421.0 332.0h0M408.6 363.2h0M420.4 285.5h0M413.5 355.4h0M420.3 312.0h0M408.8 364.0h0M420.9 351.7h0M401.3 370.9h0M416.6 309.6h0M419.4 323.3h0M406.2 372.3h0M412.2 347.7h0M401.2 338.8h0M401.3 341.6h0M409.4 337.6h0M413.6 370.2h0M412.9 324.7h0M401.6 329.4h0M403.8 367.1h0M403.0 338.7h0M401.9 350.1h0M405.7 308.5h0M403.7 388.6h0M411.9 345.0h0M422.2 370.4h0M407.5 374.9h0M407.2 325.0h0M418.2 365.8h0M417.9 334.3h0M403.1 314.6h0M401.5 331.3h0M406.6 369.4h0M417.5 387.2h0M412.1 344.1h0M407.5 372.8h0M402.1 372.1h0M412.4 346.1h0M407.6 388.8h0M408.4 315.4h0M414.3 364.8h0M410.0 352.2h0M420.7 325.4h0M405.1 305.1h0M415.1 366.7h0M416.6 319.2h0M407.2 350.7h0M409.8 300.5h0M419.5 382.5h0M413.1 333.0h0M432.1 351.3h0M441.7 321.7h0M443.1 359.2h0M443.0 371.7h0M444.1 333.2h0M435.2 353.3h0M435.9 381.5h0M427.8 374.4h0M431.7 376.6h0M426.9 327.6h0M432.1 357.9h0M424.6 385.5h0M432.2 364.0h0M441.1 357.6h0M426.7 373.9h0M432.4 345.6h0M434.9 318.0h0M429.5 378.7h0M427.0 387.0h0M426.6 357.7h0M444.8 335.9h0M439.8 356.9h0M439.7 318.9h0M427.6 391.0h0M434.4 377.2h0M434.4 388.5h0M426.0 349.6h0M429.1 322.6h0M433.3 381.3h0M432.4 390.7h0M438.5 328.2h0M431.0 365.3h0M430.9 380.1h0M427.9 311.6h0M426.8 327.0h0M429.7 357.8h0M436.6 330.6h0M435.9 362.0h0M439.6 376.0h0M430.8 320.3h0M443.5 357.6h0M443.9 366.6h0M434.2 386.0h0M436.3 354.7h0M426.1 351.6h0M429.4 365.1h0M441.2 329.8h0M426.2 368.8h0M442.9 383.3h0M426.0 378.4h0M450.8 376.9h0M462.2 382.9h0M466.9 374.5h0M456.2 354.2h0M457.8 390.7h0M461.7 339.2h0M448.8 338.9h0M448.8 374.4h0M453.1 376.0h0M458.4 351.5h0M449.9 389.6h0M453.5 321.4h0M452.5 346.5h0M454.8 365.2h0M462.0 376.0h0M460.6 378.2h0M452.5 376.9h0M449.3 365.4h0M446.8 375.2h0M457.4 369.1h0M449.9 351.1h0M449.0 380.7h0M446.3 363.8h0M458.5 390.7h0M456.5 328.1h0M451.3 392.3h0M454.2 330.5h0M462.5 383.0h0M469.0 347.2h0M476.7 380.1h0M494.5 341.6h0M502.2 362.8h0M493.5 366.7h0M492.3 339.0h0M498.6 354.4h0M467.7 385.3h0M476.0 359.4h0M470.9 389.0h0M485.3 358.8h0M479.3 356.5h0M469.5 363.9h0M470.5 390.4h0M489.3 360.3h0M500.1 359.2h0M476.1 374.6h0M492.3 365.2h0M481.0 384.8h0M491.4 376.2h0M483.8 368.7h0M487.3 365.4h0M501.7 383.0h0M498.1 330.0h0M481.6 372.8h0M497.0 346.4h0M476.4 345.5h0M496.9 350.1h0M490.0 360.2h0M492.4 388.8h0M492.0 320.6h0M504.0 314.0h0M515.5 325.5h0M525.0 339.0h0M432.0 283.5h0M477.6 296.0h0M410.0 263.0h0M398.0 256.0h0M394.0 239.0h0M379.0 255.0h0M464.0 290.0h0M498.0 345.0h0"/>
<path stroke="#ff0000" stroke-width="2.56" stroke-linecap="round" d="M327.0 241.0h0M343.0 262.0h0M350.0 283.0h0M346.0 305.0h0M361.0 285.0h0M375.0 301.0h0M360.0 376.0h0M400.0 335.0h0M387.0 367.0h0M378.0 373.0h0M406.0 364.0h0M434.0 377.0h0M426.0 380.0h0M452.0 376.0h0M485.0 380.0h0M419.0 345.0h0M331.0 358.0h0M343.0 356.0h0M366.0 349.0h0M353.0 330.0h0"/>
<path d="M312.3 239.4 L315.1 247.3 L317.9 254.7 L320.6 261.6 L323.4 268.0 L326.2 273.9 L328.9 279.5 L331.7 284.6 L334.5 289.4 L337.3 293.9 L340.1 298.0 L342.8 301.9 L345.6 305.5 L348.4 308.8 L351.2 311.9 L353.9 314.8 L356.7 317.5 L359.5 320.0 L362.2 322.4 L365.0 324.5 L367.8 326.6 L370.6 328.4 L373.4 330.2 L376.1 331.8 L378.9 333.3 L381.7 334.7 L384.4 336.0 L387.2 337.3 L390.0 338.4 L392.8 339.4 L395.6 340.4 L398.3 341.3 L401.1 342.2 L403.9 343.0 L406.6 343.7 L409.4 344.4 L412.2 345.0 L415.0 345.6 L417.8 346.2 L420.5 346.7 L423.3 347.2 L426.1 347.6 L428.9 348.0 L431.6 348.4 L434.4 348.8 L437.2 349.1 L439.9 349.4 L442.7 349.7 L445.5 350.0 L448.3 350.2 L451.1 350.5 L453.8 350.7 L456.6 350.9 L459.4 351.1 L462.1 351.2 L464.9 351.4 L467.7 351.5 L470.5 351.7 L473.2 351.8 L476.0 351.9 L478.8 352.1 L481.6 352.2 L484.4 352.3 L487.1 352.3 L489.9 352.4 L492.7 352.5 L495.5 352.6 L498.2 352.6 L501.0 352.7 L503.8 352.8 L506.6 352.8 L509.3 352.9 L512.1 352.9 L514.9 353.0 L517.6 353.0 L520.4 353.0 L523.2 353.1 L526.0 353.1 L528.8 353.1 L531.5 353.2 L534.3 353.2" fill="none" stroke="#000" stroke-width="2"/>
<line x1="25.30" y1="18.60" x2="25.30" y2="192.50" stroke="#555555" stroke-width="1"/>
<line x1="25.30" y1="192.50" x2="267.50" y2="192.50" stroke="#555555" stroke-width="1"/>
<line x1="36.30" y1="192.50" x2="36.30" y2="194.30" stroke="#555555" stroke-width="0.8"/>
<text x="36.30" y="200.70" text-anchor="middle" font-size="6.7" fill="#6a6a6a">-3</text>
<line x1="55.44" y1="192.50" x2="55.44" y2="194.30" stroke="#555555" stroke-width="0.8"/>
<text x="55.44" y="200.70" text-anchor="middle" font-size="6.7" fill="#6a6a6a">-1</text>
<line x1="74.58" y1="192.50" x2="74.58" y2="194.30" stroke="#555555" stroke-width="0.8"/>
<text x="74.58" y="200.70" text-anchor="middle" font-size="6.7" fill="#6a6a6a">1</text>
<line x1="93.72" y1="192.50" x2="93.72" y2="194.30" stroke="#555555" stroke-width="0.8"/>
<text x="93.72" y="200.70" text-anchor="middle" font-size="6.7" fill="#6a6a6a">3</text>
<line x1="112.86" y1="192.50" x2="112.86" y2="194.30" stroke="#555555" stroke-width="0.8"/>
<text x="112.86" y="200.70" text-anchor="middle" font-size="6.7" fill="#6a6a6a">5</text>
<line x1="132.00" y1="192.50" x2="132.00" y2="194.30" stroke="#555555" stroke-width="0.8"/>
<text x="132.00" y="200.70" text-anchor="middle" font-size="6.7" fill="#6a6a6a">7</text>
<line x1="151.14" y1="192.50" x2="151.14" y2="194.30" stroke="#555555" stroke-width="0.8"/>
<text x="151.14" y="200.70" text-anchor="middle" font-size="6.7" fill="#6a6a6a">9</text>
<line x1="170.28" y1="192.50" x2="170.28" y2="194.30" stroke="#555555" stroke-width="0.8"/>
<text x="170.28" y="200.70" text-anchor="middle" font-size="6.7" fill="#6a6a6a">11</text>
<line x1="189.42" y1="192.50" x2="189.42" y2="194.30" stroke="#555555" stroke-width="0.8"/>
<text x="189.42" y="200.70" text-anchor="middle" font-size="6.7" fill="#6a6a6a">13</text>
<line x1="208.56" y1="192.50" x2="208.56" y2="194.30" stroke="#555555" stroke-width="0.8"/>
<text x="208.56" y="200.70" text-anchor="middle" font-size="6.7" fill="#6a6a6a">15</text>
<line x1="227.70" y1="192.50" x2="227.70" y2="194.30" stroke="#555555" stroke-width="0.8"/>
<text x="227.70" y="200.70" text-anchor="middle" font-size="6.7" fill="#6a6a6a">17</text>
<line x1="246.84" y1="192.50" x2="246.84" y2="194.30" stroke="#555555" stroke-width="0.8"/>
<text x="246.84" y="200.70" text-anchor="middle" font-size="6.7" fill="#6a6a6a">19</text>
<line x1="23.50" y1="184.80" x2="25.30" y2="184.80" stroke="#555555" stroke-width="0.8"/>
<text x="22.30" y="187.20" text-anchor="end" font-size="6.7" fill="#6a6a6a">0</text>
<line x1="23.50" y1="158.42" x2="25.30" y2="158.42" stroke="#555555" stroke-width="0.8"/>
<text x="22.30" y="160.82" text-anchor="end" font-size="6.7" fill="#6a6a6a">50</text>
<line x1="23.50" y1="132.03" x2="25.30" y2="132.03" stroke="#555555" stroke-width="0.8"/>
<text x="22.30" y="134.43" text-anchor="end" font-size="6.7" fill="#6a6a6a">100</text>
<line x1="23.50" y1="105.65" x2="25.30" y2="105.65" stroke="#555555" stroke-width="0.8"/>
<text x="22.30" y="108.05" text-anchor="end" font-size="6.7" fill="#6a6a6a">150</text>
<line x1="23.50" y1="79.26" x2="25.30" y2="79.26" stroke="#555555" stroke-width="0.8"/>
<text x="22.30" y="81.66" text-anchor="end" font-size="6.7" fill="#6a6a6a">200</text>
<line x1="23.50" y1="52.88" x2="25.30" y2="52.88" stroke="#555555" stroke-width="0.8"/>
<text x="22.30" y="55.28" text-anchor="end" font-size="6.7" fill="#6a6a6a">250</text>
<line x1="23.50" y1="26.49" x2="25.30" y2="26.49" stroke="#555555" stroke-width="0.8"/>
<text x="22.30" y="28.89" text-anchor="end" font-size="6.7" fill="#6a6a6a">300</text>
<text x="3.6" y="17.9" font-size="13.3" fill="#000">A</text>
<text x="25.5" y="13.4" font-size="10" textLength="57.3" lengthAdjust="spacingAndGlyphs" fill="#000">CRP kinetics</text>
<text x="146.40" y="209.30" text-anchor="middle" font-size="8.4" fill="#000">days</text>
<text x="8.9" y="101.70" text-anchor="middle" font-size="8.9" textLength="69" lengthAdjust="spacingAndGlyphs" fill="#000" transform="rotate(-90 8.9 101.70)">CRP-value (mg/dl)</text>
<line x1="306.40" y1="18.40" x2="306.40" y2="192.50" stroke="#555555" stroke-width="1"/>
<line x1="306.40" y1="192.50" x2="545.70" y2="192.50" stroke="#555555" stroke-width="1"/>
<line x1="317.30" y1="192.50" x2="317.30" y2="194.30" stroke="#555555" stroke-width="0.8"/>
<text x="317.30" y="200.70" text-anchor="middle" font-size="7.2" fill="#6a6a6a">-3</text>
<line x1="336.22" y1="192.50" x2="336.22" y2="194.30" stroke="#555555" stroke-width="0.8"/>
<text x="336.22" y="200.70" text-anchor="middle" font-size="7.2" fill="#6a6a6a">-1</text>
<line x1="355.14" y1="192.50" x2="355.14" y2="194.30" stroke="#555555" stroke-width="0.8"/>
<text x="355.14" y="200.70" text-anchor="middle" font-size="7.2" fill="#6a6a6a">1</text>
<line x1="374.06" y1="192.50" x2="374.06" y2="194.30" stroke="#555555" stroke-width="0.8"/>
<text x="374.06" y="200.70" text-anchor="middle" font-size="7.2" fill="#6a6a6a">3</text>
<line x1="392.98" y1="192.50" x2="392.98" y2="194.30" stroke="#555555" stroke-width="0.8"/>
<text x="392.98" y="200.70" text-anchor="middle" font-size="7.2" fill="#6a6a6a">5</text>
<line x1="411.90" y1="192.50" x2="411.90" y2="194.30" stroke="#555555" stroke-width="0.8"/>
<text x="411.90" y="200.70" text-anchor="middle" font-size="7.2" fill="#6a6a6a">7</text>
<line x1="430.82" y1="192.50" x2="430.82" y2="194.30" stroke="#555555" stroke-width="0.8"/>
<text x="430.82" y="200.70" text-anchor="middle" font-size="7.2" fill="#6a6a6a">9</text>
<line x1="449.74" y1="192.50" x2="449.74" y2="194.30" stroke="#555555" stroke-width="0.8"/>
<text x="449.74" y="200.70" text-anchor="middle" font-size="7.2" fill="#6a6a6a">11</text>
<line x1="468.66" y1="192.50" x2="468.66" y2="194.30" stroke="#555555" stroke-width="0.8"/>
<text x="468.66" y="200.70" text-anchor="middle" font-size="7.2" fill="#6a6a6a">13</text>
<line x1="487.58" y1="192.50" x2="487.58" y2="194.30" stroke="#555555" stroke-width="0.8"/>
<text x="487.58" y="200.70" text-anchor="middle" font-size="7.2" fill="#6a6a6a">15</text>
<line x1="506.50" y1="192.50" x2="506.50" y2="194.30" stroke="#555555" stroke-width="0.8"/>
<text x="506.50" y="200.70" text-anchor="middle" font-size="7.2" fill="#6a6a6a">17</text>
<line x1="525.42" y1="192.50" x2="525.42" y2="194.30" stroke="#555555" stroke-width="0.8"/>
<text x="525.42" y="200.70" text-anchor="middle" font-size="7.2" fill="#6a6a6a">19</text>
<line x1="304.60" y1="184.60" x2="306.40" y2="184.60" stroke="#555555" stroke-width="0.8"/>
<text x="303.40" y="187.00" text-anchor="end" font-size="7.2" fill="#6a6a6a">0</text>
<line x1="304.60" y1="158.22" x2="306.40" y2="158.22" stroke="#555555" stroke-width="0.8"/>
<text x="303.40" y="160.62" text-anchor="end" font-size="7.2" fill="#6a6a6a">50</text>
<line x1="304.60" y1="131.83" x2="306.40" y2="131.83" stroke="#555555" stroke-width="0.8"/>
<text x="303.40" y="134.23" text-anchor="end" font-size="7.2" fill="#6a6a6a">100</text>
<line x1="304.60" y1="105.45" x2="306.40" y2="105.45" stroke="#555555" stroke-width="0.8"/>
<text x="303.40" y="107.85" text-anchor="end" font-size="7.2" fill="#6a6a6a">150</text>
<line x1="304.60" y1="79.06" x2="306.40" y2="79.06" stroke="#555555" stroke-width="0.8"/>
<text x="303.40" y="81.46" text-anchor="end" font-size="7.2" fill="#6a6a6a">200</text>
<line x1="304.60" y1="52.68" x2="306.40" y2="52.68" stroke="#555555" stroke-width="0.8"/>
<text x="303.40" y="55.08" text-anchor="end" font-size="7.2" fill="#6a6a6a">250</text>
<line x1="304.60" y1="26.29" x2="306.40" y2="26.29" stroke="#555555" stroke-width="0.8"/>
<text x="303.40" y="28.69" text-anchor="end" font-size="7.2" fill="#6a6a6a">300</text>
<text x="282.0" y="17.4" font-size="13.3" fill="#000">B</text>
<text x="306.5" y="13.1" font-size="9.6" textLength="63.3" lengthAdjust="spacingAndGlyphs" fill="#000">CRP kinetics</text>
<text x="426.00" y="210.30" text-anchor="middle" font-size="9.2" fill="#000">days</text>
<text x="289.8" y="104.50" text-anchor="middle" font-size="8.9" textLength="71" lengthAdjust="spacingAndGlyphs" fill="#000" transform="rotate(-90 289.8 104.50)">CRP-value (mg/dl)</text>
<line x1="28.00" y1="229.40" x2="28.00" y2="403.60" stroke="#555555" stroke-width="1"/>
<line x1="28.00" y1="403.60" x2="266.80" y2="403.60" stroke="#555555" stroke-width="1"/>
<line x1="38.90" y1="403.60" x2="38.90" y2="405.40" stroke="#555555" stroke-width="0.8"/>
<text x="38.90" y="411.80" text-anchor="middle" font-size="6.7" fill="#6a6a6a">-3</text>
<line x1="57.78" y1="403.60" x2="57.78" y2="405.40" stroke="#555555" stroke-width="0.8"/>
<text x="57.78" y="411.80" text-anchor="middle" font-size="6.7" fill="#6a6a6a">-1</text>
<line x1="76.66" y1="403.60" x2="76.66" y2="405.40" stroke="#555555" stroke-width="0.8"/>
<text x="76.66" y="411.80" text-anchor="middle" font-size="6.7" fill="#6a6a6a">1</text>
<line x1="95.54" y1="403.60" x2="95.54" y2="405.40" stroke="#555555" stroke-width="0.8"/>
<text x="95.54" y="411.80" text-anchor="middle" font-size="6.7" fill="#6a6a6a">3</text>
<line x1="114.42" y1="403.60" x2="114.42" y2="405.40" stroke="#555555" stroke-width="0.8"/>
<text x="114.42" y="411.80" text-anchor="middle" font-size="6.7" fill="#6a6a6a">5</text>
<line x1="133.30" y1="403.60" x2="133.30" y2="405.40" stroke="#555555" stroke-width="0.8"/>
<text x="133.30" y="411.80" text-anchor="middle" font-size="6.7" fill="#6a6a6a">7</text>
<line x1="152.18" y1="403.60" x2="152.18" y2="405.40" stroke="#555555" stroke-width="0.8"/>
<text x="152.18" y="411.80" text-anchor="middle" font-size="6.7" fill="#6a6a6a">9</text>
<line x1="171.06" y1="403.60" x2="171.06" y2="405.40" stroke="#555555" stroke-width="0.8"/>
<text x="171.06" y="411.80" text-anchor="middle" font-size="6.7" fill="#6a6a6a">11</text>
<line x1="189.94" y1="403.60" x2="189.94" y2="405.40" stroke="#555555" stroke-width="0.8"/>
<text x="189.94" y="411.80" text-anchor="middle" font-size="6.7" fill="#6a6a6a">13</text>
<line x1="208.82" y1="403.60" x2="208.82" y2="405.40" stroke="#555555" stroke-width="0.8"/>
<text x="208.82" y="411.80" text-anchor="middle" font-size="6.7" fill="#6a6a6a">15</text>
<line x1="227.70" y1="403.60" x2="227.70" y2="405.40" stroke="#555555" stroke-width="0.8"/>
<text x="227.70" y="411.80" text-anchor="middle" font-size="6.7" fill="#6a6a6a">17</text>
<line x1="246.58" y1="403.60" x2="246.58" y2="405.40" stroke="#555555" stroke-width="0.8"/>
<text x="246.58" y="411.80" text-anchor="middle" font-size="6.7" fill="#6a6a6a">19</text>
<line x1="26.20" y1="396.30" x2="28.00" y2="396.30" stroke="#555555" stroke-width="0.8"/>
<text x="25.00" y="398.70" text-anchor="end" font-size="6.7" fill="#6a6a6a">0</text>
<line x1="26.20" y1="369.79" x2="28.00" y2="369.79" stroke="#555555" stroke-width="0.8"/>
<text x="25.00" y="372.19" text-anchor="end" font-size="6.7" fill="#6a6a6a">50</text>
<line x1="26.20" y1="343.27" x2="28.00" y2="343.27" stroke="#555555" stroke-width="0.8"/>
<text x="25.00" y="345.67" text-anchor="end" font-size="6.7" fill="#6a6a6a">100</text>
<line x1="26.20" y1="316.75" x2="28.00" y2="316.75" stroke="#555555" stroke-width="0.8"/>
<text x="25.00" y="319.15" text-anchor="end" font-size="6.7" fill="#6a6a6a">150</text>
<line x1="26.20" y1="290.24" x2="28.00" y2="290.24" stroke="#555555" stroke-width="0.8"/>
<text x="25.00" y="292.64" text-anchor="end" font-size="6.7" fill="#6a6a6a">200</text>
<line x1="26.20" y1="263.73" x2="28.00" y2="263.73" stroke="#555555" stroke-width="0.8"/>
<text x="25.00" y="266.12" text-anchor="end" font-size="6.7" fill="#6a6a6a">250</text>
<line x1="26.20" y1="237.21" x2="28.00" y2="237.21" stroke="#555555" stroke-width="0.8"/>
<text x="25.00" y="239.61" text-anchor="end" font-size="6.7" fill="#6a6a6a">300</text>
<text x="4.0" y="228.8" font-size="13.3" fill="#000">C</text>
<text x="27.6" y="224.6" font-size="10.3" textLength="60.5" lengthAdjust="spacingAndGlyphs" fill="#000">CRP kinetics</text>
<text x="147.40" y="421.00" text-anchor="middle" font-size="8.9" fill="#000">days</text>
<text x="10.5" y="316.00" text-anchor="middle" font-size="8.3" textLength="68.4" lengthAdjust="spacingAndGlyphs" fill="#000" transform="rotate(-90 10.5 316.00)">CRP-value (mg/dl)</text>
<line x1="301.40" y1="229.40" x2="301.40" y2="403.70" stroke="#555555" stroke-width="1"/>
<line x1="301.40" y1="403.70" x2="545.40" y2="403.70" stroke="#555555" stroke-width="1"/>
<line x1="312.30" y1="403.70" x2="312.30" y2="405.50" stroke="#555555" stroke-width="0.8"/>
<text x="312.30" y="411.90" text-anchor="middle" font-size="6.7" fill="#6a6a6a">0</text>
<line x1="334.50" y1="403.70" x2="334.50" y2="405.50" stroke="#555555" stroke-width="0.8"/>
<text x="334.50" y="411.90" text-anchor="middle" font-size="6.7" fill="#6a6a6a">2</text>
<line x1="356.70" y1="403.70" x2="356.70" y2="405.50" stroke="#555555" stroke-width="0.8"/>
<text x="356.70" y="411.90" text-anchor="middle" font-size="6.7" fill="#6a6a6a">4</text>
<line x1="378.90" y1="403.70" x2="378.90" y2="405.50" stroke="#555555" stroke-width="0.8"/>
<text x="378.90" y="411.90" text-anchor="middle" font-size="6.7" fill="#6a6a6a">6</text>
<line x1="401.10" y1="403.70" x2="401.10" y2="405.50" stroke="#555555" stroke-width="0.8"/>
<text x="401.10" y="411.90" text-anchor="middle" font-size="6.7" fill="#6a6a6a">8</text>
<line x1="423.30" y1="403.70" x2="423.30" y2="405.50" stroke="#555555" stroke-width="0.8"/>
<text x="423.30" y="411.90" text-anchor="middle" font-size="6.7" fill="#6a6a6a">10</text>
<line x1="445.50" y1="403.70" x2="445.50" y2="405.50" stroke="#555555" stroke-width="0.8"/>
<text x="445.50" y="411.90" text-anchor="middle" font-size="6.7" fill="#6a6a6a">12</text>
<line x1="467.70" y1="403.70" x2="467.70" y2="405.50" stroke="#555555" stroke-width="0.8"/>
<text x="467.70" y="411.90" text-anchor="middle" font-size="6.7" fill="#6a6a6a">14</text>
<line x1="489.90" y1="403.70" x2="489.90" y2="405.50" stroke="#555555" stroke-width="0.8"/>
<text x="489.90" y="411.90" text-anchor="middle" font-size="6.7" fill="#6a6a6a">16</text>
<line x1="512.10" y1="403.70" x2="512.10" y2="405.50" stroke="#555555" stroke-width="0.8"/>
<text x="512.10" y="411.90" text-anchor="middle" font-size="6.7" fill="#6a6a6a">18</text>
<line x1="534.30" y1="403.70" x2="534.30" y2="405.50" stroke="#555555" stroke-width="0.8"/>
<text x="534.30" y="411.90" text-anchor="middle" font-size="6.7" fill="#6a6a6a">20</text>
<line x1="299.60" y1="395.90" x2="301.40" y2="395.90" stroke="#555555" stroke-width="0.8"/>
<text x="298.40" y="398.30" text-anchor="end" font-size="6.7" fill="#6a6a6a">0.0</text>
<line x1="299.60" y1="364.34" x2="301.40" y2="364.34" stroke="#555555" stroke-width="0.8"/>
<text x="298.40" y="366.74" text-anchor="end" font-size="6.7" fill="#6a6a6a">0.2</text>
<line x1="299.60" y1="332.78" x2="301.40" y2="332.78" stroke="#555555" stroke-width="0.8"/>
<text x="298.40" y="335.18" text-anchor="end" font-size="6.7" fill="#6a6a6a">0.4</text>
<line x1="299.60" y1="301.22" x2="301.40" y2="301.22" stroke="#555555" stroke-width="0.8"/>
<text x="298.40" y="303.62" text-anchor="end" font-size="6.7" fill="#6a6a6a">0.6</text>
<line x1="299.60" y1="269.66" x2="301.40" y2="269.66" stroke="#555555" stroke-width="0.8"/>
<text x="298.40" y="272.06" text-anchor="end" font-size="6.7" fill="#6a6a6a">0.8</text>
<line x1="299.60" y1="238.10" x2="301.40" y2="238.10" stroke="#555555" stroke-width="0.8"/>
<text x="298.40" y="240.50" text-anchor="end" font-size="6.7" fill="#6a6a6a">1.0</text>
<text x="282.0" y="229.1" font-size="13.3" fill="#000">D</text>
<text x="302" y="224.3" font-size="9.9" textLength="94.9" lengthAdjust="spacingAndGlyphs" fill="#000">Relative kinetics CRP</text>
<text x="423.40" y="421.00" text-anchor="middle" font-size="8.1" fill="#000">days</text>
<text x="286.6" y="313.60" text-anchor="middle" font-size="8.4" textLength="52" lengthAdjust="spacingAndGlyphs" fill="#000" transform="rotate(-90 286.6 313.60)">% of CRP peak</text>
<rect x="222" y="15" width="44" height="23" fill="#fff"/>
<line x1="226" y1="22.5" x2="234.5" y2="22.5" stroke="#0000ff" stroke-width="2.6"/>
<text x="239.8" y="25.4" font-size="8.3" textLength="20.5" lengthAdjust="spacingAndGlyphs" fill="#000">No inf</text>
<line x1="226" y1="31.9" x2="234.5" y2="31.9" stroke="#ff0000" stroke-width="2.6"/>
<text x="239.8" y="34.8" font-size="8.3" textLength="9.7" lengthAdjust="spacingAndGlyphs" fill="#000">Inf</text>
<text x="163.6" y="110.9" font-size="16" letter-spacing="0.3" fill="#000" stroke="#000" stroke-width="0.3">**</text>
<text x="192.9" y="110.9" font-size="16" letter-spacing="0.3" fill="#000" stroke="#000" stroke-width="0.3">**</text>
<rect x="474" y="15" width="73" height="24" fill="#fff"/>
<line x1="478.7" y1="23.8" x2="487.2" y2="23.8" stroke="#006400" stroke-width="2.4"/>
<text x="493.3" y="26.7" font-size="8.6" textLength="51.6" lengthAdjust="spacingAndGlyphs" fill="#000">Anterolateral</text>
<line x1="478.7" y1="33.3" x2="487.2" y2="33.3" stroke="#bf3eff" stroke-width="2.4"/>
<text x="493.3" y="36.2" font-size="8.6" textLength="24.2" lengthAdjust="spacingAndGlyphs" fill="#000">Dorsal</text>
<rect x="202" y="227" width="64" height="23" fill="#fff"/>
<line x1="206.3" y1="233.8" x2="214.8" y2="233.8" stroke="#87ceeb" stroke-width="2.4"/>
<text x="219.8" y="236.7" font-size="8.4" textLength="40" lengthAdjust="spacingAndGlyphs" fill="#000">No trauma</text>
<line x1="206.3" y1="243.8" x2="214.8" y2="243.8" stroke="#ffa500" stroke-width="2.4"/>
<text x="219.8" y="246.7" font-size="8.4" textLength="27.5" lengthAdjust="spacingAndGlyphs" fill="#000">Trauma</text>
<text x="66.2" y="297.2" font-size="16" letter-spacing="0.3" fill="#000" stroke="#000" stroke-width="0.3">***</text>
<text x="47.4" y="323.1" font-size="16" letter-spacing="0.3" fill="#000" stroke="#000" stroke-width="0.3">***</text>
<rect x="424" y="231" width="124" height="38" fill="#fff" fill-opacity="0"/>
<text x="426.4" y="240.8" font-size="9" textLength="45.9" lengthAdjust="spacingAndGlyphs" fill="#111">y=0.7235*</text>
<text x="473.1" y="241.8" font-family="Liberation Serif" font-size="11.5" fill="#222">e</text>
<text x="479.3" y="238.6" font-size="6.9" textLength="31.8" lengthAdjust="spacingAndGlyphs" fill="#111">−0.2883*x</text>
<text x="511.2" y="241.6" font-size="9.3" textLength="35.9" lengthAdjust="spacingAndGlyphs" fill="#111">+0.2683</text>
<text x="426.4" y="252.8" font-size="9" textLength="47.1" lengthAdjust="spacingAndGlyphs" fill="#0000ff">R²=0.7159</text>
<text x="426.4" y="266.3" font-size="9" textLength="47.6" lengthAdjust="spacingAndGlyphs" fill="#ff0000">R²=0.8265</text>
<path stroke="#0000ff" stroke-width="2.56" stroke-linecap="round" d="M478.2 251.8h0M511.5 249.8h0"/>
<path stroke="#ff0000" stroke-width="2.56" stroke-linecap="round" d="M511.5 259.7h0"/>
<text x="520.2" y="252.7" font-size="7" textLength="21.4" lengthAdjust="spacingAndGlyphs" fill="#000">No inf</text>
<text x="520.2" y="262.9" font-size="7" textLength="9.9" lengthAdjust="spacingAndGlyphs" fill="#000">Inf</text>
</svg></body></html>
